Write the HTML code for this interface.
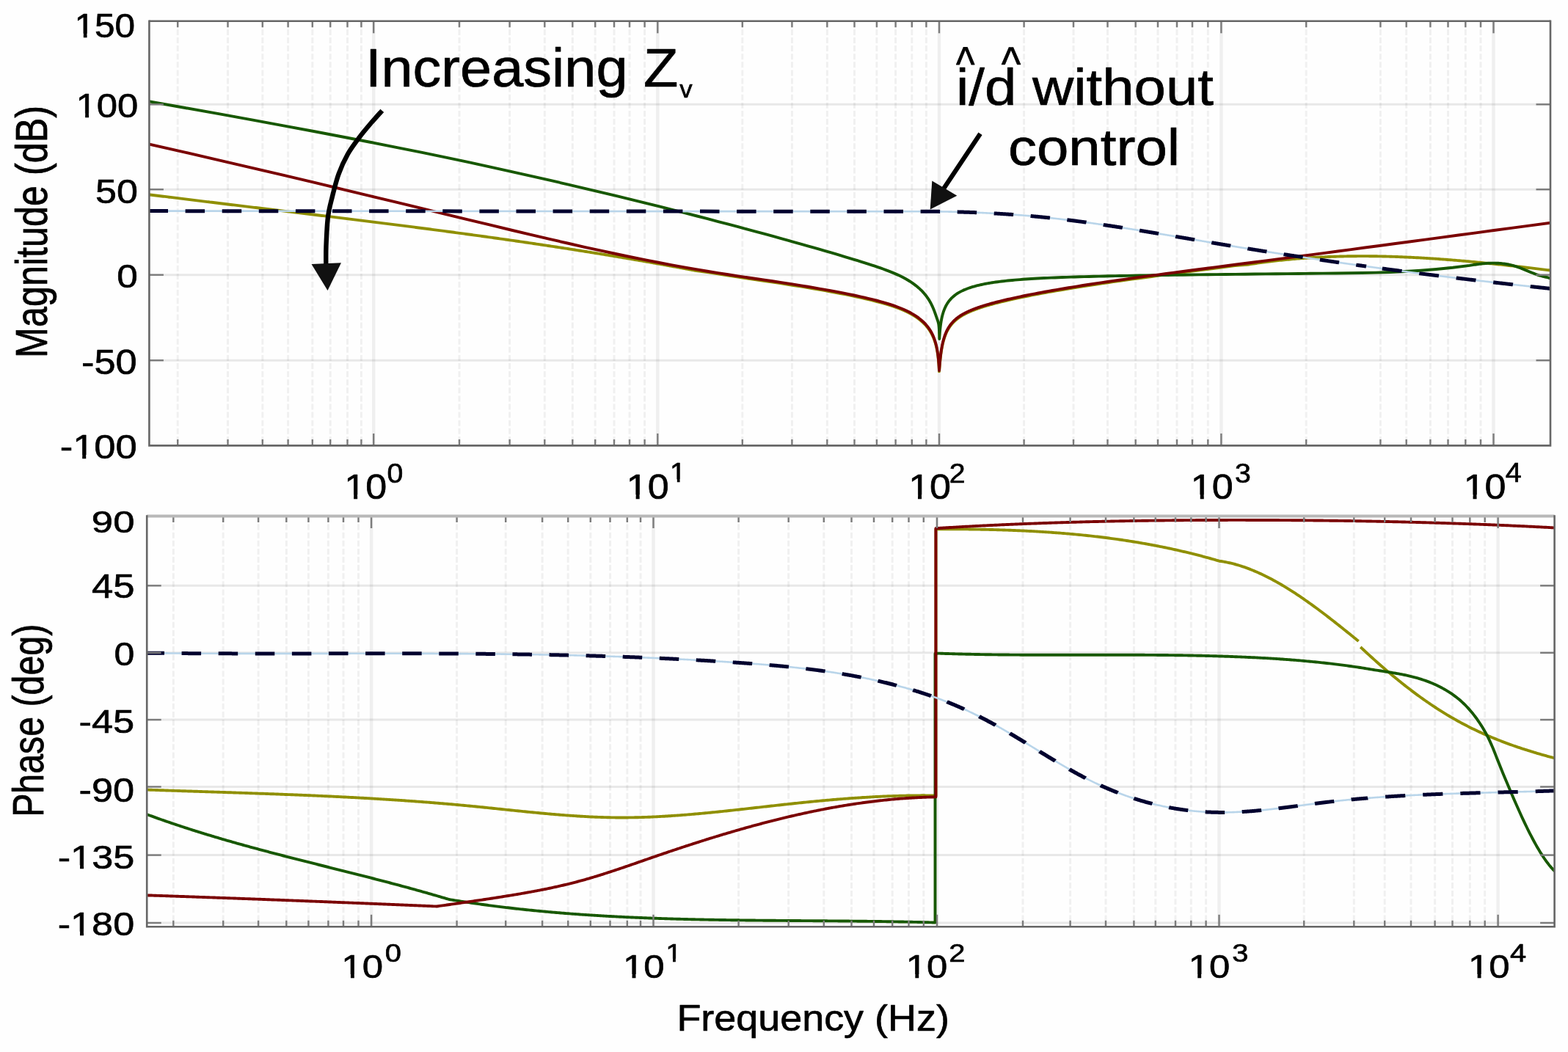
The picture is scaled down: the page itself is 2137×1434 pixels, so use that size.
<!DOCTYPE html>
<html><head><meta charset="utf-8"><title>Bode plot</title><style>html,body{margin:0;padding:0;background:#fff;overflow:hidden}</style></head><body>
<svg width="2137" height="1434" viewBox="0 0 2137 1434" style="display:block;font-family:'Liberation Sans',Arial,Helvetica,sans-serif">
<rect width="2137" height="1434" fill="#fefefe"/>
<line x1="242.2" y1="28.8" x2="242.2" y2="607.4" stroke="#000" stroke-opacity="0.055" stroke-width="3" stroke-dasharray="8 3.1"/>
<line x1="310.5" y1="28.8" x2="310.5" y2="607.4" stroke="#000" stroke-opacity="0.055" stroke-width="3" stroke-dasharray="8 3.1"/>
<line x1="357.8" y1="28.8" x2="357.8" y2="607.4" stroke="#000" stroke-opacity="0.055" stroke-width="3" stroke-dasharray="8 3.1"/>
<line x1="392.6" y1="28.8" x2="392.6" y2="607.4" stroke="#000" stroke-opacity="0.055" stroke-width="3" stroke-dasharray="8 3.1"/>
<line x1="425.8" y1="28.8" x2="425.8" y2="607.4" stroke="#000" stroke-opacity="0.055" stroke-width="3" stroke-dasharray="8 3.1"/>
<line x1="450.2" y1="28.8" x2="450.2" y2="607.4" stroke="#000" stroke-opacity="0.055" stroke-width="3" stroke-dasharray="8 3.1"/>
<line x1="473.5" y1="28.8" x2="473.5" y2="607.4" stroke="#000" stroke-opacity="0.055" stroke-width="3" stroke-dasharray="8 3.1"/>
<line x1="492.4" y1="28.8" x2="492.4" y2="607.4" stroke="#000" stroke-opacity="0.055" stroke-width="3" stroke-dasharray="8 3.1"/>
<line x1="626" y1="28.8" x2="626" y2="607.4" stroke="#000" stroke-opacity="0.055" stroke-width="3" stroke-dasharray="8 3.1"/>
<line x1="694.6" y1="28.8" x2="694.6" y2="607.4" stroke="#000" stroke-opacity="0.055" stroke-width="3" stroke-dasharray="8 3.1"/>
<line x1="742.3" y1="28.8" x2="742.3" y2="607.4" stroke="#000" stroke-opacity="0.055" stroke-width="3" stroke-dasharray="8 3.1"/>
<line x1="780.3" y1="28.8" x2="780.3" y2="607.4" stroke="#000" stroke-opacity="0.055" stroke-width="3" stroke-dasharray="8 3.1"/>
<line x1="811.2" y1="28.8" x2="811.2" y2="607.4" stroke="#000" stroke-opacity="0.055" stroke-width="3" stroke-dasharray="8 3.1"/>
<line x1="837" y1="28.8" x2="837" y2="607.4" stroke="#000" stroke-opacity="0.055" stroke-width="3" stroke-dasharray="8 3.1"/>
<line x1="858" y1="28.8" x2="858" y2="607.4" stroke="#000" stroke-opacity="0.055" stroke-width="3" stroke-dasharray="8 3.1"/>
<line x1="878.6" y1="28.8" x2="878.6" y2="607.4" stroke="#000" stroke-opacity="0.055" stroke-width="3" stroke-dasharray="8 3.1"/>
<line x1="1011.8" y1="28.8" x2="1011.8" y2="607.4" stroke="#000" stroke-opacity="0.055" stroke-width="3" stroke-dasharray="8 3.1"/>
<line x1="1079.4" y1="28.8" x2="1079.4" y2="607.4" stroke="#000" stroke-opacity="0.055" stroke-width="3" stroke-dasharray="8 3.1"/>
<line x1="1127.3" y1="28.8" x2="1127.3" y2="607.4" stroke="#000" stroke-opacity="0.055" stroke-width="3" stroke-dasharray="8 3.1"/>
<line x1="1164.5" y1="28.8" x2="1164.5" y2="607.4" stroke="#000" stroke-opacity="0.055" stroke-width="3" stroke-dasharray="8 3.1"/>
<line x1="1194.9" y1="28.8" x2="1194.9" y2="607.4" stroke="#000" stroke-opacity="0.055" stroke-width="3" stroke-dasharray="8 3.1"/>
<line x1="1220.6" y1="28.8" x2="1220.6" y2="607.4" stroke="#000" stroke-opacity="0.055" stroke-width="3" stroke-dasharray="8 3.1"/>
<line x1="1242.8" y1="28.8" x2="1242.8" y2="607.4" stroke="#000" stroke-opacity="0.055" stroke-width="3" stroke-dasharray="8 3.1"/>
<line x1="1262.4" y1="28.8" x2="1262.4" y2="607.4" stroke="#000" stroke-opacity="0.055" stroke-width="3" stroke-dasharray="8 3.1"/>
<line x1="1395.6" y1="28.8" x2="1395.6" y2="607.4" stroke="#000" stroke-opacity="0.055" stroke-width="3" stroke-dasharray="8 3.1"/>
<line x1="1463" y1="28.8" x2="1463" y2="607.4" stroke="#000" stroke-opacity="0.055" stroke-width="3" stroke-dasharray="8 3.1"/>
<line x1="1509.5" y1="28.8" x2="1509.5" y2="607.4" stroke="#000" stroke-opacity="0.055" stroke-width="3" stroke-dasharray="8 3.1"/>
<line x1="1547.7" y1="28.8" x2="1547.7" y2="607.4" stroke="#000" stroke-opacity="0.055" stroke-width="3" stroke-dasharray="8 3.1"/>
<line x1="1578" y1="28.8" x2="1578" y2="607.4" stroke="#000" stroke-opacity="0.055" stroke-width="3" stroke-dasharray="8 3.1"/>
<line x1="1604" y1="28.8" x2="1604" y2="607.4" stroke="#000" stroke-opacity="0.055" stroke-width="3" stroke-dasharray="8 3.1"/>
<line x1="1625" y1="28.8" x2="1625" y2="607.4" stroke="#000" stroke-opacity="0.055" stroke-width="3" stroke-dasharray="8 3.1"/>
<line x1="1646.3" y1="28.8" x2="1646.3" y2="607.4" stroke="#000" stroke-opacity="0.055" stroke-width="3" stroke-dasharray="8 3.1"/>
<line x1="1780.2" y1="28.8" x2="1780.2" y2="607.4" stroke="#000" stroke-opacity="0.055" stroke-width="3" stroke-dasharray="8 3.1"/>
<line x1="1881.4" y1="28.8" x2="1881.4" y2="607.4" stroke="#000" stroke-opacity="0.055" stroke-width="3" stroke-dasharray="8 3.1"/>
<line x1="1916.7" y1="28.8" x2="1916.7" y2="607.4" stroke="#000" stroke-opacity="0.055" stroke-width="3" stroke-dasharray="8 3.1"/>
<line x1="1949.4" y1="28.8" x2="1949.4" y2="607.4" stroke="#000" stroke-opacity="0.055" stroke-width="3" stroke-dasharray="8 3.1"/>
<line x1="1973.5" y1="28.8" x2="1973.5" y2="607.4" stroke="#000" stroke-opacity="0.055" stroke-width="3" stroke-dasharray="8 3.1"/>
<line x1="1997.3" y1="28.8" x2="1997.3" y2="607.4" stroke="#000" stroke-opacity="0.055" stroke-width="3" stroke-dasharray="8 3.1"/>
<line x1="2018" y1="28.8" x2="2018" y2="607.4" stroke="#000" stroke-opacity="0.055" stroke-width="3" stroke-dasharray="8 3.1"/>
<line x1="509.2" y1="28.8" x2="509.2" y2="607.4" stroke="#000" stroke-opacity="0.06" stroke-width="4.5"/>
<line x1="896.3" y1="28.8" x2="896.3" y2="607.4" stroke="#000" stroke-opacity="0.06" stroke-width="4.5"/>
<line x1="1280" y1="28.8" x2="1280" y2="607.4" stroke="#000" stroke-opacity="0.06" stroke-width="4.5"/>
<line x1="1664.4" y1="28.8" x2="1664.4" y2="607.4" stroke="#000" stroke-opacity="0.06" stroke-width="4.5"/>
<line x1="2035.5" y1="28.8" x2="2035.5" y2="607.4" stroke="#000" stroke-opacity="0.06" stroke-width="4.5"/>
<line x1="203.4" y1="142.3" x2="2113" y2="142.3" stroke="#000" stroke-opacity="0.085" stroke-width="3"/>
<line x1="203.4" y1="258.2" x2="2113" y2="258.2" stroke="#000" stroke-opacity="0.085" stroke-width="3"/>
<line x1="203.4" y1="374.7" x2="2113" y2="374.7" stroke="#000" stroke-opacity="0.085" stroke-width="3"/>
<line x1="203.4" y1="491.2" x2="2113" y2="491.2" stroke="#000" stroke-opacity="0.085" stroke-width="3"/>
<line x1="236.3" y1="703.5" x2="236.3" y2="1263.3" stroke="#000" stroke-opacity="0.055" stroke-width="3" stroke-dasharray="8 3.1"/>
<line x1="304.2" y1="703.5" x2="304.2" y2="1263.3" stroke="#000" stroke-opacity="0.055" stroke-width="3" stroke-dasharray="8 3.1"/>
<line x1="352.1" y1="703.5" x2="352.1" y2="1263.3" stroke="#000" stroke-opacity="0.055" stroke-width="3" stroke-dasharray="8 3.1"/>
<line x1="390.3" y1="703.5" x2="390.3" y2="1263.3" stroke="#000" stroke-opacity="0.055" stroke-width="3" stroke-dasharray="8 3.1"/>
<line x1="420.4" y1="703.5" x2="420.4" y2="1263.3" stroke="#000" stroke-opacity="0.055" stroke-width="3" stroke-dasharray="8 3.1"/>
<line x1="447.4" y1="703.5" x2="447.4" y2="1263.3" stroke="#000" stroke-opacity="0.055" stroke-width="3" stroke-dasharray="8 3.1"/>
<line x1="468" y1="703.5" x2="468" y2="1263.3" stroke="#000" stroke-opacity="0.055" stroke-width="3" stroke-dasharray="8 3.1"/>
<line x1="488.5" y1="703.5" x2="488.5" y2="1263.3" stroke="#000" stroke-opacity="0.055" stroke-width="3" stroke-dasharray="8 3.1"/>
<line x1="622.6" y1="703.5" x2="622.6" y2="1263.3" stroke="#000" stroke-opacity="0.055" stroke-width="3" stroke-dasharray="8 3.1"/>
<line x1="689.2" y1="703.5" x2="689.2" y2="1263.3" stroke="#000" stroke-opacity="0.055" stroke-width="3" stroke-dasharray="8 3.1"/>
<line x1="739.1" y1="703.5" x2="739.1" y2="1263.3" stroke="#000" stroke-opacity="0.055" stroke-width="3" stroke-dasharray="8 3.1"/>
<line x1="774.2" y1="703.5" x2="774.2" y2="1263.3" stroke="#000" stroke-opacity="0.055" stroke-width="3" stroke-dasharray="8 3.1"/>
<line x1="804.8" y1="703.5" x2="804.8" y2="1263.3" stroke="#000" stroke-opacity="0.055" stroke-width="3" stroke-dasharray="8 3.1"/>
<line x1="831.5" y1="703.5" x2="831.5" y2="1263.3" stroke="#000" stroke-opacity="0.055" stroke-width="3" stroke-dasharray="8 3.1"/>
<line x1="854.8" y1="703.5" x2="854.8" y2="1263.3" stroke="#000" stroke-opacity="0.055" stroke-width="3" stroke-dasharray="8 3.1"/>
<line x1="873" y1="703.5" x2="873" y2="1263.3" stroke="#000" stroke-opacity="0.055" stroke-width="3" stroke-dasharray="8 3.1"/>
<line x1="1006.6" y1="703.5" x2="1006.6" y2="1263.3" stroke="#000" stroke-opacity="0.055" stroke-width="3" stroke-dasharray="8 3.1"/>
<line x1="1074.7" y1="703.5" x2="1074.7" y2="1263.3" stroke="#000" stroke-opacity="0.055" stroke-width="3" stroke-dasharray="8 3.1"/>
<line x1="1122.8" y1="703.5" x2="1122.8" y2="1263.3" stroke="#000" stroke-opacity="0.055" stroke-width="3" stroke-dasharray="8 3.1"/>
<line x1="1160.5" y1="703.5" x2="1160.5" y2="1263.3" stroke="#000" stroke-opacity="0.055" stroke-width="3" stroke-dasharray="8 3.1"/>
<line x1="1191" y1="703.5" x2="1191" y2="1263.3" stroke="#000" stroke-opacity="0.055" stroke-width="3" stroke-dasharray="8 3.1"/>
<line x1="1216.2" y1="703.5" x2="1216.2" y2="1263.3" stroke="#000" stroke-opacity="0.055" stroke-width="3" stroke-dasharray="8 3.1"/>
<line x1="1238.5" y1="703.5" x2="1238.5" y2="1263.3" stroke="#000" stroke-opacity="0.055" stroke-width="3" stroke-dasharray="8 3.1"/>
<line x1="1258.8" y1="703.5" x2="1258.8" y2="1263.3" stroke="#000" stroke-opacity="0.055" stroke-width="3" stroke-dasharray="8 3.1"/>
<line x1="1394" y1="703.5" x2="1394" y2="1263.3" stroke="#000" stroke-opacity="0.055" stroke-width="3" stroke-dasharray="8 3.1"/>
<line x1="1458.6" y1="703.5" x2="1458.6" y2="1263.3" stroke="#000" stroke-opacity="0.055" stroke-width="3" stroke-dasharray="8 3.1"/>
<line x1="1507" y1="703.5" x2="1507" y2="1263.3" stroke="#000" stroke-opacity="0.055" stroke-width="3" stroke-dasharray="8 3.1"/>
<line x1="1545.4" y1="703.5" x2="1545.4" y2="1263.3" stroke="#000" stroke-opacity="0.055" stroke-width="3" stroke-dasharray="8 3.1"/>
<line x1="1574.8" y1="703.5" x2="1574.8" y2="1263.3" stroke="#000" stroke-opacity="0.055" stroke-width="3" stroke-dasharray="8 3.1"/>
<line x1="1602" y1="703.5" x2="1602" y2="1263.3" stroke="#000" stroke-opacity="0.055" stroke-width="3" stroke-dasharray="8 3.1"/>
<line x1="1623.3" y1="703.5" x2="1623.3" y2="1263.3" stroke="#000" stroke-opacity="0.055" stroke-width="3" stroke-dasharray="8 3.1"/>
<line x1="1643.6" y1="703.5" x2="1643.6" y2="1263.3" stroke="#000" stroke-opacity="0.055" stroke-width="3" stroke-dasharray="8 3.1"/>
<line x1="1777.2" y1="703.5" x2="1777.2" y2="1263.3" stroke="#000" stroke-opacity="0.055" stroke-width="3" stroke-dasharray="8 3.1"/>
<line x1="1845.3" y1="703.5" x2="1845.3" y2="1263.3" stroke="#000" stroke-opacity="0.055" stroke-width="3" stroke-dasharray="8 3.1"/>
<line x1="1887.2" y1="703.5" x2="1887.2" y2="1263.3" stroke="#000" stroke-opacity="0.055" stroke-width="3" stroke-dasharray="8 3.1"/>
<line x1="1923" y1="703.5" x2="1923" y2="1263.3" stroke="#000" stroke-opacity="0.055" stroke-width="3" stroke-dasharray="8 3.1"/>
<line x1="1955.6" y1="703.5" x2="1955.6" y2="1263.3" stroke="#000" stroke-opacity="0.055" stroke-width="3" stroke-dasharray="8 3.1"/>
<line x1="1979.5" y1="703.5" x2="1979.5" y2="1263.3" stroke="#000" stroke-opacity="0.055" stroke-width="3" stroke-dasharray="8 3.1"/>
<line x1="2003.3" y1="703.5" x2="2003.3" y2="1263.3" stroke="#000" stroke-opacity="0.055" stroke-width="3" stroke-dasharray="8 3.1"/>
<line x1="2023.7" y1="703.5" x2="2023.7" y2="1263.3" stroke="#000" stroke-opacity="0.055" stroke-width="3" stroke-dasharray="8 3.1"/>
<line x1="506.1" y1="703.5" x2="506.1" y2="1263.3" stroke="#000" stroke-opacity="0.06" stroke-width="4.5"/>
<line x1="890.5" y1="703.5" x2="890.5" y2="1263.3" stroke="#000" stroke-opacity="0.06" stroke-width="4.5"/>
<line x1="1277" y1="703.5" x2="1277" y2="1263.3" stroke="#000" stroke-opacity="0.06" stroke-width="4.5"/>
<line x1="1661.5" y1="703.5" x2="1661.5" y2="1263.3" stroke="#000" stroke-opacity="0.06" stroke-width="4.5"/>
<line x1="2041.6" y1="703.5" x2="2041.6" y2="1263.3" stroke="#000" stroke-opacity="0.06" stroke-width="4.5"/>
<line x1="200.2" y1="798.3" x2="2118.6" y2="798.3" stroke="#000" stroke-opacity="0.085" stroke-width="3"/>
<line x1="200.2" y1="889.8" x2="2118.6" y2="889.8" stroke="#000" stroke-opacity="0.085" stroke-width="3"/>
<line x1="200.2" y1="981.1" x2="2118.6" y2="981.1" stroke="#000" stroke-opacity="0.085" stroke-width="3"/>
<line x1="200.2" y1="1072.5" x2="2118.6" y2="1072.5" stroke="#000" stroke-opacity="0.085" stroke-width="3"/>
<line x1="200.2" y1="1165.6" x2="2118.6" y2="1165.6" stroke="#000" stroke-opacity="0.085" stroke-width="3"/>
<line x1="200.2" y1="1258" x2="2118.6" y2="1258" stroke="#000" stroke-opacity="0.085" stroke-width="3"/>
<clipPath id="ct"><rect x="203.4" y="26.8" width="1909.6" height="580.6"/></clipPath>
<clipPath id="cb"><rect x="200.2" y="701.5" width="1918.3999999999999" height="561.8"/></clipPath>
<g clip-path="url(#ct)">
<path d="M202.5,265.2 L204.5,265.45 L206.5,265.7 L208.51,265.95 L210.51,266.2 L212.51,266.45 L214.51,266.7 L216.51,266.95 L218.52,267.2 L220.52,267.45 L222.52,267.69 L224.52,267.94 L226.52,268.19 L228.52,268.44 L230.53,268.69 L232.53,268.94 L234.53,269.18 L236.53,269.43 L238.53,269.68 L240.54,269.92 L242.54,270.17 L244.54,270.42 L246.54,270.66 L248.54,270.91 L250.55,271.16 L252.55,271.4 L254.55,271.65 L256.55,271.89 L258.55,272.14 L260.55,272.38 L262.56,272.63 L264.56,272.87 L266.56,273.12 L268.56,273.36 L270.56,273.61 L272.57,273.85 L274.57,274.09 L276.57,274.34 L278.57,274.58 L280.57,274.83 L282.58,275.07 L284.58,275.31 L286.58,275.56 L288.58,275.8 L290.58,276.04 L292.58,276.29 L294.59,276.53 L296.59,276.77 L298.59,277.01 L300.59,277.26 L302.59,277.5 L304.6,277.74 L306.6,277.98 L308.6,278.23 L310.6,278.47 L312.6,278.71 L314.61,278.95 L316.61,279.19 L318.61,279.44 L320.61,279.68 L322.61,279.92 L324.61,280.16 L326.62,280.4 L328.62,280.64 L330.62,280.89 L332.62,281.13 L334.62,281.37 L336.63,281.61 L338.63,281.85 L340.63,282.09 L342.63,282.33 L344.63,282.57 L346.64,282.82 L348.64,283.06 L350.64,283.3 L352.64,283.54 L354.64,283.78 L356.64,284.02 L358.65,284.26 L360.65,284.5 L362.65,284.75 L364.65,284.99 L366.65,285.23 L368.66,285.47 L370.66,285.71 L372.66,285.95 L374.66,286.19 L376.66,286.43 L378.67,286.68 L380.67,286.92 L382.67,287.16 L384.67,287.4 L386.67,287.64 L388.68,287.88 L390.68,288.12 L392.68,288.37 L394.68,288.61 L396.68,288.85 L398.68,289.09 L400.69,289.33 L402.69,289.57 L404.69,289.82 L406.69,290.06 L408.69,290.3 L410.7,290.54 L412.7,290.78 L414.7,291.03 L416.7,291.27 L418.7,291.51 L420.71,291.75 L422.71,292 L424.71,292.24 L426.71,292.48 L428.71,292.73 L430.71,292.97 L432.72,293.21 L434.72,293.46 L436.72,293.7 L438.72,293.94 L440.72,294.19 L442.73,294.43 L444.73,294.68 L446.73,294.92 L448.73,295.16 L450.73,295.41 L452.74,295.65 L454.74,295.9 L456.74,296.14 L458.74,296.39 L460.74,296.63 L462.74,296.88 L464.75,297.12 L466.75,297.37 L468.75,297.62 L470.75,297.86 L472.75,298.11 L474.76,298.35 L476.76,298.6 L478.76,298.85 L480.76,299.09 L482.76,299.34 L484.77,299.59 L486.77,299.84 L488.77,300.08 L490.77,300.33 L492.77,300.58 L494.77,300.83 L496.78,301.08 L498.78,301.33 L500.78,301.58 L502.78,301.83 L504.78,302.08 L506.79,302.33 L508.79,302.58 L510.79,302.83 L512.79,303.08 L514.79,303.33 L516.8,303.58 L518.8,303.83 L520.8,304.08 L522.8,304.33 L524.8,304.58 L526.8,304.84 L528.81,305.09 L530.81,305.34 L532.81,305.6 L534.81,305.85 L536.81,306.1 L538.82,306.36 L540.82,306.61 L542.82,306.87 L544.82,307.12 L546.82,307.38 L548.83,307.63 L550.83,307.89 L552.83,308.14 L554.83,308.4 L556.83,308.66 L558.83,308.91 L560.84,309.17 L562.84,309.43 L564.84,309.69 L566.84,309.95 L568.84,310.2 L570.85,310.46 L572.85,310.72 L574.85,310.98 L576.85,311.24 L578.85,311.5 L580.86,311.76 L582.86,312.03 L584.86,312.29 L586.86,312.55 L588.86,312.81 L590.87,313.07 L592.87,313.34 L594.87,313.6 L596.87,313.86 L598.87,314.13 L600.87,314.39 L602.88,314.66 L604.88,314.92 L606.88,315.19 L608.88,315.45 L610.88,315.72 L612.89,315.99 L614.89,316.26 L616.89,316.52 L618.89,316.79 L620.89,317.06 L622.9,317.33 L624.9,317.6 L626.9,317.87 L628.9,318.14 L630.9,318.41 L632.9,318.68 L634.91,318.95 L636.91,319.22 L638.91,319.5 L640.91,319.77 L642.91,320.04 L644.92,320.32 L646.92,320.59 L648.92,320.87 L650.92,321.14 L652.92,321.42 L654.93,321.69 L656.93,321.97 L658.93,322.25 L660.93,322.52 L662.93,322.8 L664.93,323.08 L666.94,323.36 L668.94,323.64 L670.94,323.92 L672.94,324.2 L674.94,324.48 L676.95,324.76 L678.95,325.04 L680.95,325.33 L682.95,325.61 L684.95,325.89 L686.96,326.18 L688.96,326.46 L690.96,326.75 L692.96,327.03 L694.96,327.32 L696.96,327.61 L698.97,327.9 L700.97,328.18 L702.97,328.47 L704.97,328.76 L706.97,329.05 L708.98,329.34 L710.98,329.63 L712.98,329.92 L714.98,330.21 L716.98,330.51 L718.99,330.8 L720.99,331.09 L722.99,331.39 L724.99,331.68 L726.99,331.98 L728.99,332.27 L731,332.57 L733,332.87 L735,333.17 L737,333.46 L739,333.76 L741.01,334.06 L743.01,334.36 L745.01,334.66 L747.01,334.97 L749.01,335.27 L751.02,335.57 L753.02,335.87 L755.02,336.18 L757.02,336.48 L759.02,336.79 L761.02,337.09 L763.03,337.4 L765.03,337.71 L767.03,338.01 L769.03,338.32 L771.03,338.63 L773.04,338.94 L775.04,339.25 L777.04,339.56 L779.04,339.88 L781.04,340.19 L783.05,340.5 L785.05,340.82 L787.05,341.13 L789.05,341.45 L791.05,341.76 L793.06,342.08 L795.06,342.4 L797.06,342.71 L799.06,343.03 L801.06,343.35 L803.06,343.67 L805.07,343.99 L807.07,344.31 L809.07,344.64 L811.07,344.96 L813.07,345.28 L815.08,345.61 L817.08,345.93 L819.08,346.26 L821.08,346.59 L823.08,346.91 L825.09,347.24 L827.09,347.57 L829.09,347.9 L831.09,348.23 L833.09,348.56 L835.09,348.89 L837.1,349.23 L839.1,349.56 L841.1,349.9 L843.1,350.23 L845.1,350.57 L847.11,350.9 L849.11,351.24 L851.11,351.58 L853.11,351.92 L855.11,352.26 L857.12,352.6 L859.12,352.94 L861.12,353.28 L863.12,353.63 L865.12,353.97 L867.12,354.31 L869.13,354.66 L871.13,355.01 L873.13,355.35 L875.13,355.7 L877.13,356.05 L879.14,356.4 L881.14,356.75 L883.14,357.1 L885.14,357.45 L887.14,357.81 L889.15,358.16 L891.15,358.52 L893.15,358.87 L895.15,359.23 L897.15,359.58 L899.15,359.94 L901.16,360.3 L903.16,360.66 L905.16,361.02 L907.16,361.38 L909.16,361.75 L911.17,362.11 L913.17,362.47 L915.17,362.84 L917.17,363.21 L919.17,363.57 L921.18,363.94 L923.18,364.31 L925.18,364.68 L927.18,365.05 L929.18,365.42 L931.18,365.79 L933.19,366.17 L935.19,366.54 L937.19,366.92 L939.19,367.29 L941.19,367.67 L943.2,368.05 L945.2,368.43 L947.2,368.8 L964.03,371.03 L978.6,373.4 L992.5,375.58 L1005.77,377.61 L1018.42,379.5 L1030.49,381.28 L1042,382.97 L1052.99,384.59 L1063.47,386.17 L1073.46,387.71 L1083,389.2 L1092.1,390.67 L1100.77,392.09 L1109.05,393.49 L1116.95,394.85 L1124.48,396.18 L1131.67,397.48 L1138.53,398.75 L1145.07,399.99 L1151.31,401.21 L1157.26,402.41 L1162.94,403.58 L1168.36,404.74 L1173.52,405.87 L1178.45,406.99 L1183.15,408.09 L1187.64,409.17 L1191.92,410.24 L1196,411.3 L1199.9,412.35 L1203.61,413.39 L1207.16,414.42 L1210.54,415.44 L1213.76,416.47 L1216.84,417.48 L1219.78,418.5 L1222.58,419.51 L1225.25,420.53 L1227.8,421.55 L1230.23,422.56 L1232.55,423.58 L1234.76,424.59 L1236.87,425.61 L1238.88,426.62 L1240.8,427.64 L1242.63,428.65 L1244.38,429.66 L1246.05,430.68 L1247.64,431.69 L1249.16,432.7 L1250.61,433.71 L1251.99,434.72 L1253.3,435.73 L1254.56,436.74 L1255.76,437.74 L1256.9,438.75 L1257.99,439.75 L1259.03,440.75 L1260.03,441.75 L1260.97,442.75 L1261.88,443.75 L1262.74,444.74 L1263.56,445.74 L1264.35,446.73 L1265.09,447.72 L1265.81,448.7 L1266.49,449.69 L1267.14,450.67 L1267.76,451.65 L1268.35,452.63 L1268.91,453.61 L1269.45,454.58 L1269.97,455.55 L1270.45,456.51 L1270.92,457.48 L1271.37,458.44 L1271.79,459.4 L1272.2,460.35 L1272.58,461.31 L1272.95,462.25 L1273.31,463.2 L1273.64,464.14 L1273.96,465.08 L1274.27,466.01 L1274.56,466.95 L1274.84,467.87 L1275.1,468.8 L1275.36,469.71 L1275.6,470.63 L1275.83,471.54 L1276.05,472.45 L1276.26,473.35 L1276.46,474.25 L1276.65,475.14 L1276.83,476.03 L1277,476.92 L1277.17,477.8 L1277.33,478.67 L1277.48,479.54 L1277.62,480.41 L1277.76,481.27 L1277.89,482.12 L1278.01,482.97 L1278.13,483.82 L1278.25,484.66 L1278.35,485.49 L1278.46,486.32 L1278.56,487.14 L1278.65,487.96 L1278.74,488.77 L1278.83,489.58 L1278.91,490.38 L1278.99,491.17 L1279.06,491.96 L1279.13,492.74 L1279.2,493.52 L1279.26,494.28 L1279.32,495.05 L1279.38,495.8 L1279.44,496.55 L1279.49,497.29 L1279.54,498.03 L1279.59,498.76 L1279.64,499.48 L1279.68,500.2 L1279.73,500.9 L1279.77,501.6 L1279.8,502.3 L1279.84,502.98 L1279.88,503.66 L1279.91,504.33 L1279.94,505 L1279.97,505.65 L1280,506.3 L1280,506.3 L1280.02,506.11 L1280.04,505.91 L1280.06,505.69 L1280.08,505.46 L1280.11,505.21 L1280.13,504.94 L1280.16,504.66 L1280.18,504.36 L1280.21,504.05 L1280.24,503.72 L1280.26,503.38 L1280.29,503.02 L1280.32,502.65 L1280.35,502.27 L1280.39,501.87 L1280.42,501.46 L1280.45,501.04 L1280.49,500.6 L1280.52,500.15 L1280.56,499.69 L1280.6,499.22 L1280.64,498.73 L1280.68,498.23 L1280.73,497.72 L1280.77,497.2 L1280.82,496.67 L1280.86,496.13 L1280.91,495.58 L1280.96,495.02 L1281.02,494.44 L1281.07,493.86 L1281.13,493.27 L1281.19,492.67 L1281.25,492.06 L1281.31,491.44 L1281.37,490.81 L1281.44,490.18 L1281.51,489.53 L1281.58,488.88 L1281.65,488.22 L1281.73,487.56 L1281.8,486.88 L1281.89,486.2 L1281.97,485.51 L1282.06,484.82 L1282.14,484.12 L1282.24,483.41 L1282.33,482.7 L1282.43,481.98 L1282.53,481.26 L1282.64,480.53 L1282.75,479.8 L1282.86,479.06 L1282.98,478.32 L1283.1,477.58 L1283.22,476.83 L1283.35,476.07 L1283.48,475.32 L1283.62,474.56 L1283.76,473.79 L1283.91,473.03 L1284.06,472.26 L1284.21,471.49 L1284.38,470.72 L1284.54,469.95 L1284.72,469.17 L1284.89,468.4 L1285.08,467.62 L1285.27,466.84 L1285.47,466.06 L1285.67,465.28 L1285.88,464.5 L1286.1,463.73 L1286.33,462.95 L1286.56,462.17 L1286.8,461.39 L1287.05,460.62 L1287.3,459.84 L1287.57,459.07 L1287.84,458.3 L1288.13,457.53 L1288.42,456.77 L1288.73,456 L1289.04,455.24 L1289.36,454.48 L1289.7,453.73 L1290.04,452.98 L1290.4,452.23 L1290.77,451.49 L1291.15,450.74 L1291.55,450.01 L1291.96,449.28 L1292.38,448.55 L1292.81,447.82 L1293.27,447.1 L1293.73,446.38 L1294.21,445.67 L1294.71,444.96 L1295.22,444.25 L1295.76,443.55 L1296.31,442.85 L1296.87,442.15 L1297.46,441.46 L1298.07,440.77 L1298.7,440.09 L1299.34,439.41 L1300.02,438.73 L1300.71,438.06 L1301.42,437.39 L1302.16,436.72 L1302.93,436.06 L1303.72,435.41 L1304.54,434.75 L1305.38,434.1 L1306.26,433.46 L1307.16,432.82 L1308.09,432.18 L1309.05,431.55 L1310.05,430.92 L1311.08,430.29 L1312.15,429.67 L1313.25,429.05 L1314.38,428.43 L1315.56,427.82 L1316.78,427.21 L1318.03,426.6 L1319.33,425.99 L1320.67,425.38 L1322.06,424.77 L1323.49,424.17 L1324.97,423.56 L1326.51,422.95 L1328.09,422.34 L1329.72,421.73 L1331.42,421.12 L1333.16,420.5 L1334.97,419.88 L1336.84,419.26 L1338.77,418.64 L1340.76,418.01 L1342.83,417.38 L1344.96,416.74 L1347.16,416.1 L1349.44,415.45 L1351.79,414.8 L1354.23,414.14 L1356.74,413.48 L1359.34,412.8 L1362.03,412.12 L1364.8,411.43 L1367.67,410.74 L1370.64,410.03 L1373.71,409.32 L1376.87,408.6 L1380.15,407.87 L1383.54,407.13 L1387.04,406.37 L1390.65,405.61 L1394.39,404.83 L1398.26,404.05 L1402.25,403.25 L1406.38,402.44 L1410.65,401.62 L1415.06,400.78 L1419.62,399.93 L1424.33,399.07 L1429.2,398.19 L1434.24,397.29 L1439.44,396.39 L1444.82,395.46 L1450.38,394.52 L1456.12,393.57 L1462.06,392.6 L1468.2,391.61 L1474.55,390.6 L1481.1,389.57 L1487.88,388.53 L1494.89,387.47 L1502.13,386.39 L1509.62,385.29 L1517.35,384.17 L1525.35,383.03 L1533.62,381.87 L1542.16,380.69 L1550.99,379.48 L1560.12,378.24 L1569.55,376.97 L1579.3,375.67 L1589.38,374.34 L1599.8,372.96 L1610.57,371.55 L1621.7,370.09 L1633.2,368.59 L1645.09,367.04 L1657.38,365.45 L1670.08,363.79 L1683.21,362.09 L1700,360.8 L1702,360.49 L1704.01,360.18 L1706.01,359.87 L1708.02,359.57 L1710.02,359.27 L1712.03,358.98 L1714.03,358.69 L1716.04,358.41 L1718.04,358.13 L1720.05,357.86 L1722.05,357.59 L1724.06,357.32 L1726.06,357.06 L1728.07,356.81 L1730.07,356.55 L1732.08,356.31 L1734.08,356.07 L1736.09,355.83 L1738.09,355.6 L1740.1,355.37 L1742.1,355.15 L1744.11,354.93 L1746.11,354.71 L1748.12,354.5 L1750.12,354.3 L1752.13,354.09 L1754.13,353.9 L1756.14,353.7 L1758.14,353.52 L1760.14,353.33 L1762.15,353.15 L1764.15,352.98 L1766.16,352.81 L1768.16,352.64 L1770.17,352.48 L1772.17,352.32 L1774.18,352.16 L1776.18,352.01 L1778.19,351.87 L1780.19,351.72 L1782.2,351.59 L1784.2,351.45 L1786.21,351.32 L1788.21,351.2 L1790.22,351.07 L1792.22,350.96 L1794.23,350.84 L1796.23,350.73 L1798.24,350.63 L1800.24,350.52 L1802.25,350.42 L1804.25,350.33 L1806.26,350.24 L1808.26,350.15 L1810.27,350.07 L1812.27,349.99 L1814.28,349.91 L1816.28,349.84 L1818.29,349.77 L1820.29,349.71 L1822.29,349.65 L1824.3,349.59 L1826.3,349.54 L1828.31,349.49 L1830.31,349.44 L1832.32,349.4 L1834.32,349.36 L1836.33,349.32 L1838.33,349.29 L1840.34,349.26 L1842.34,349.23 L1844.35,349.21 L1846.35,349.19 L1848.36,349.18 L1850.36,349.17 L1852.37,349.16 L1854.37,349.15 L1856.38,349.15 L1858.38,349.15 L1860.39,349.15 L1862.39,349.16 L1864.4,349.17 L1866.4,349.19 L1868.41,349.2 L1870.41,349.22 L1872.42,349.25 L1874.42,349.27 L1876.43,349.3 L1878.43,349.34 L1880.43,349.37 L1882.44,349.41 L1884.44,349.45 L1886.45,349.5 L1888.45,349.55 L1890.46,349.6 L1892.46,349.65 L1894.47,349.71 L1896.47,349.77 L1898.48,349.83 L1900.48,349.89 L1902.49,349.96 L1904.49,350.03 L1906.5,350.1 L1908.5,350.18 L1910.51,350.26 L1912.51,350.34 L1914.52,350.43 L1916.52,350.51 L1918.53,350.6 L1920.53,350.69 L1922.54,350.79 L1924.54,350.89 L1926.55,350.99 L1928.55,351.09 L1930.56,351.19 L1932.56,351.3 L1934.57,351.41 L1936.57,351.52 L1938.57,351.64 L1940.58,351.76 L1942.58,351.88 L1944.59,352 L1946.59,352.12 L1948.6,352.25 L1950.6,352.38 L1952.61,352.51 L1954.61,352.64 L1956.62,352.78 L1958.62,352.92 L1960.63,353.06 L1962.63,353.2 L1964.64,353.34 L1966.64,353.49 L1968.65,353.64 L1970.65,353.79 L1972.66,353.94 L1974.66,354.1 L1976.67,354.26 L1978.67,354.41 L1980.68,354.58 L1982.68,354.74 L1984.69,354.9 L1986.69,355.07 L1988.7,355.24 L1990.7,355.41 L1992.71,355.58 L1994.71,355.76 L1996.71,355.93 L1998.72,356.11 L2000.72,356.29 L2002.73,356.47 L2004.73,356.66 L2006.74,356.84 L2008.74,357.03 L2010.75,357.22 L2012.75,357.41 L2014.76,357.6 L2016.76,357.79 L2018.77,357.99 L2020.77,358.18 L2022.78,358.38 L2024.78,358.58 L2026.79,358.78 L2028.79,358.98 L2030.8,359.19 L2032.8,359.39 L2034.81,359.6 L2036.81,359.81 L2038.82,360.02 L2040.82,360.23 L2042.83,360.44 L2044.83,360.66 L2046.84,360.87 L2048.84,361.09 L2050.85,361.31 L2052.85,361.52 L2054.86,361.74 L2056.86,361.97 L2058.86,362.19 L2060.87,362.41 L2062.87,362.64 L2064.88,362.86 L2066.88,363.09 L2068.89,363.32 L2070.89,363.55 L2072.9,363.78 L2074.9,364.01 L2076.91,364.24 L2078.91,364.47 L2080.92,364.71 L2082.92,364.94 L2084.93,365.18 L2086.93,365.41 L2088.94,365.65 L2090.94,365.89 L2092.95,366.13 L2094.95,366.37 L2096.96,366.61 L2098.96,366.85 L2100.97,367.09 L2102.97,367.33 L2104.98,367.58 L2106.98,367.82 L2108.99,368.07 L2110.99,368.31 L2113,368.56 L2115,368.8" fill="none" stroke="#8f8f00" stroke-width="3.9" stroke-linejoin="round" stroke-linecap="butt" />
<path d="M202.5,138.2 L252.15,146.96 L299.51,155.43 L344.69,163.62 L387.8,171.55 L428.91,179.25 L468.14,186.72 L505.56,193.97 L541.25,201.04 L575.3,207.92 L607.79,214.63 L638.78,221.19 L668.34,227.58 L696.54,233.8 L723.45,239.83 L749.11,245.68 L773.59,251.33 L796.95,256.8 L819.23,262.08 L840.49,267.19 L860.76,272.12 L880.1,276.87 L898.56,281.46 L916.16,285.88 L932.95,290.15 L948.97,294.25 L964.25,298.21 L978.83,302.02 L992.74,305.68 L1006,309.2 L1018.66,312.59 L1030.73,315.85 L1042.25,318.98 L1053.24,321.99 L1063.72,324.88 L1073.72,327.66 L1083.26,330.32 L1092.36,332.88 L1101.04,335.34 L1109.32,337.69 L1117.22,339.96 L1124.75,342.13 L1131.94,344.22 L1138.8,346.23 L1145.34,348.16 L1151.58,350.01 L1157.54,351.8 L1163.22,353.52 L1168.63,355.19 L1173.8,356.79 L1178.73,358.34 L1183.44,359.85 L1187.92,361.3 L1192.2,362.72 L1196.29,364.11 L1200.18,365.46 L1203.9,366.78 L1207.44,368.08 L1210.83,369.36 L1214.05,370.62 L1217.13,371.87 L1220.07,373.12 L1222.87,374.36 L1225.54,375.6 L1228.09,376.84 L1230.52,378.08 L1232.84,379.31 L1235.05,380.54 L1237.16,381.77 L1239.18,382.99 L1241.1,384.22 L1242.93,385.43 L1244.68,386.65 L1246.34,387.86 L1247.94,389.07 L1249.45,390.28 L1250.9,391.48 L1252.28,392.67 L1253.6,393.87 L1254.86,395.05 L1256.06,396.24 L1257.2,397.42 L1258.29,398.59 L1259.33,399.76 L1260.32,400.92 L1261.27,402.08 L1262.18,403.24 L1263.04,404.38 L1263.86,405.53 L1264.64,406.66 L1265.39,407.79 L1266.11,408.92 L1266.79,410.03 L1267.44,411.14 L1268.06,412.25 L1268.65,413.35 L1269.21,414.43 L1269.75,415.51 L1270.26,416.58 L1270.75,417.64 L1271.22,418.68 L1271.67,419.71 L1272.09,420.72 L1272.5,421.71 L1272.88,422.69 L1273.25,423.64 L1273.6,424.57 L1273.94,425.48 L1274.26,426.36 L1274.57,427.22 L1274.86,428.05 L1275.14,428.85 L1275.4,429.63 L1275.66,430.37 L1275.9,431.07 L1276.13,431.75 L1276.35,432.39 L1276.56,432.99 L1276.76,433.56 L1276.95,434.1 L1277.13,434.61 L1277.3,435.09 L1277.47,435.56 L1277.63,436 L1277.78,436.43 L1277.92,436.84 L1278.06,437.24 L1278.19,437.64 L1278.31,438.03 L1278.43,438.41 L1278.55,438.79 L1278.65,439.18 L1278.76,439.57 L1278.86,439.97 L1278.95,440.38 L1279.04,440.8 L1279.13,441.24 L1279.21,441.7 L1279.29,442.18 L1279.36,442.68 L1279.43,443.21 L1279.5,443.77 L1279.56,444.36 L1279.62,444.98 L1279.68,445.65 L1279.74,446.35 L1279.79,447.1 L1279.84,447.89 L1279.89,448.74 L1279.94,449.63 L1279.98,450.58 L1280.03,451.58 L1280.07,452.65 L1280.1,453.78 L1280.14,454.97 L1280.18,456.23 L1280.21,457.56 L1280.24,458.96 L1280.27,460.44 L1280.3,462 L1280.3,462 L1280.32,461.62 L1280.34,461.25 L1280.36,460.86 L1280.38,460.48 L1280.41,460.08 L1280.43,459.69 L1280.45,459.28 L1280.48,458.87 L1280.5,458.46 L1280.53,458.04 L1280.56,457.61 L1280.59,457.18 L1280.61,456.74 L1280.64,456.3 L1280.68,455.85 L1280.71,455.4 L1280.74,454.94 L1280.77,454.48 L1280.81,454.02 L1280.85,453.55 L1280.88,453.07 L1280.92,452.59 L1280.96,452.11 L1281.01,451.62 L1281.05,451.13 L1281.09,450.63 L1281.14,450.13 L1281.19,449.63 L1281.24,449.12 L1281.29,448.61 L1281.34,448.09 L1281.39,447.57 L1281.45,447.05 L1281.51,446.52 L1281.56,445.99 L1281.63,445.46 L1281.69,444.92 L1281.75,444.39 L1281.82,443.84 L1281.89,443.3 L1281.96,442.75 L1282.04,442.2 L1282.12,441.65 L1282.2,441.09 L1282.28,440.53 L1282.36,439.97 L1282.45,439.41 L1282.54,438.84 L1282.63,438.28 L1282.73,437.71 L1282.83,437.13 L1282.93,436.56 L1283.04,435.99 L1283.15,435.41 L1283.26,434.83 L1283.38,434.25 L1283.5,433.67 L1283.63,433.08 L1283.76,432.5 L1283.89,431.91 L1284.03,431.33 L1284.17,430.74 L1284.32,430.15 L1284.47,429.56 L1284.63,428.97 L1284.79,428.38 L1284.96,427.78 L1285.13,427.19 L1285.31,426.6 L1285.49,426 L1285.68,425.41 L1285.88,424.82 L1286.09,424.22 L1286.3,423.63 L1286.51,423.03 L1286.74,422.44 L1286.97,421.84 L1287.21,421.25 L1287.46,420.66 L1287.71,420.06 L1287.97,419.47 L1288.25,418.88 L1288.53,418.29 L1288.82,417.69 L1289.12,417.1 L1289.43,416.52 L1289.75,415.93 L1290.08,415.34 L1290.42,414.75 L1290.78,414.17 L1291.14,413.59 L1291.52,413 L1291.91,412.42 L1292.31,411.85 L1292.72,411.27 L1293.15,410.69 L1293.59,410.12 L1294.05,409.55 L1294.52,408.98 L1295.01,408.41 L1295.52,407.85 L1296.04,407.28 L1296.58,406.72 L1297.13,406.16 L1297.71,405.61 L1298.3,405.06 L1298.91,404.51 L1299.54,403.96 L1300.2,403.41 L1300.87,402.87 L1301.57,402.33 L1302.29,401.8 L1303.03,401.26 L1303.8,400.73 L1304.59,400.21 L1305.41,399.69 L1306.26,399.17 L1307.13,398.65 L1308.04,398.14 L1308.97,397.63 L1309.93,397.13 L1310.93,396.63 L1311.96,396.13 L1313.02,395.64 L1314.12,395.15 L1315.25,394.67 L1316.42,394.19 L1317.63,393.71 L1318.88,393.24 L1320.17,392.78 L1321.5,392.31 L1322.88,391.86 L1324.3,391.41 L1325.77,390.96 L1327.28,390.52 L1328.85,390.08 L1330.47,389.65 L1332.14,389.22 L1333.87,388.8 L1335.65,388.39 L1337.49,387.98 L1339.4,387.57 L1341.36,387.18 L1343.39,386.78 L1345.49,386.4 L1347.66,386.01 L1349.89,385.64 L1352.2,385.27 L1354.59,384.91 L1357.06,384.55 L1359.6,384.2 L1362.23,383.86 L1364.95,383.52 L1367.76,383.19 L1370.66,382.87 L1373.65,382.55 L1376.75,382.24 L1379.94,381.94 L1383.24,381.64 L1386.65,381.35 L1390.17,381.07 L1393.81,380.8 L1397.57,380.53 L1401.45,380.27 L1405.46,380.02 L1409.6,379.77 L1413.87,379.53 L1418.29,379.3 L1422.86,379.07 L1427.57,378.85 L1432.44,378.64 L1437.47,378.43 L1442.66,378.23 L1448.03,378.03 L1453.57,377.84 L1459.29,377.65 L1465.21,377.47 L1471.32,377.29 L1477.62,377.11 L1484.14,376.94 L1490.87,376.77 L1497.83,376.61 L1505.01,376.45 L1512.43,376.29 L1520.09,376.13 L1528,375.98 L1536.18,375.83 L1544.62,375.68 L1553.35,375.53 L1562.36,375.39 L1571.66,375.25 L1581.28,375.1 L1591.2,374.96 L1601.46,374.82 L1612.06,374.68 L1623,374.54 L1634.3,374.4 L1645.98,374.26 L1658.04,374.11 L1670.49,373.97 L1683.36,373.83 L1696.65,373.68 L1710.38,373.54 L1724.56,373.39 L1739.21,373.24 L1754.34,373.09 L1769.96,372.94 L1786.11,372.78 L1802.78,372.62 L1820,372.46 L1837.79,372.28 L1856.17,372.02 L1875.15,371.6 L1894.75,370.96 L1915.01,370.02 L1935.92,368.72 L1957.53,366.99 L1979.85,364.74 L2002.9,361.9 L2004.41,361.65 L2005.93,361.4 L2007.44,361.16 L2008.96,360.93 L2010.47,360.71 L2011.99,360.49 L2013.5,360.28 L2015.02,360.08 L2016.53,359.89 L2018.05,359.71 L2019.56,359.55 L2021.08,359.39 L2022.59,359.25 L2024.11,359.12 L2025.62,359 L2027.14,358.9 L2028.65,358.82 L2030.17,358.74 L2031.68,358.69 L2033.2,358.65 L2034.71,358.63 L2036.23,358.63 L2037.74,358.64 L2039.26,358.68 L2040.77,358.73 L2042.29,358.81 L2043.8,358.91 L2045.32,359.03 L2046.83,359.17 L2048.35,359.33 L2049.86,359.52 L2051.38,359.73 L2052.89,359.97 L2054.41,360.23 L2055.92,360.52 L2057.44,360.83 L2058.95,361.17 L2060.46,361.54 L2061.98,361.94 L2063.49,362.37 L2065.01,362.83 L2066.52,363.32 L2068.04,363.83 L2069.55,364.37 L2071.07,364.93 L2072.58,365.51 L2074.1,366.1 L2075.61,366.71 L2077.13,367.33 L2078.64,367.95 L2080.16,368.58 L2081.67,369.21 L2083.19,369.85 L2084.7,370.48 L2086.22,371.1 L2087.73,371.71 L2089.25,372.31 L2090.76,372.9 L2092.28,373.47 L2093.79,374.02 L2095.31,374.55 L2096.82,375.05 L2098.34,375.53 L2099.85,375.97 L2101.37,376.38 L2102.88,376.77 L2104.4,377.14 L2105.91,377.5 L2107.43,377.86 L2108.94,378.23 L2110.46,378.62 L2111.97,379.04 L2113.49,379.5 L2115,380" fill="none" stroke="#175800" stroke-width="3.9" stroke-linejoin="round" stroke-linecap="butt" />
<path d="M202.5,196.4 L252.13,207.67 L299.48,218.54 L344.65,229.04 L387.74,239.16 L428.84,248.91 L468.05,258.28 L505.46,267.28 L541.15,275.9 L575.19,284.16 L607.67,292.05 L638.65,299.56 L668.2,306.71 L696.39,313.48 L723.29,319.87 L748.94,325.89 L773.42,331.52 L796.77,336.79 L819.04,341.7 L840.29,346.26 L860.56,350.49 L879.9,354.41 L898.35,358.01 L915.95,361.33 L932.73,364.37 L948.75,367.16 L964.03,369.73 L978.6,372.1 L992.5,374.28 L1005.77,376.31 L1018.42,378.2 L1030.49,379.98 L1042,381.67 L1052.99,383.29 L1063.47,384.87 L1073.46,386.41 L1083,387.9 L1092.1,389.37 L1100.77,390.79 L1109.05,392.19 L1116.95,393.55 L1124.48,394.88 L1131.67,396.18 L1138.53,397.45 L1145.07,398.69 L1151.31,399.91 L1157.26,401.11 L1162.94,402.28 L1168.36,403.44 L1173.52,404.57 L1178.45,405.69 L1183.15,406.79 L1187.64,407.87 L1191.92,408.94 L1196,410 L1199.9,411.05 L1203.61,412.09 L1207.16,413.12 L1210.54,414.14 L1213.76,415.17 L1216.84,416.18 L1219.78,417.2 L1222.58,418.21 L1225.25,419.23 L1227.8,420.25 L1230.23,421.26 L1232.55,422.28 L1234.76,423.29 L1236.87,424.31 L1238.88,425.32 L1240.8,426.34 L1242.63,427.35 L1244.38,428.36 L1246.05,429.38 L1247.64,430.39 L1249.16,431.4 L1250.61,432.41 L1251.99,433.42 L1253.3,434.43 L1254.56,435.44 L1255.76,436.44 L1256.9,437.45 L1257.99,438.45 L1259.03,439.45 L1260.03,440.45 L1260.97,441.45 L1261.88,442.45 L1262.74,443.44 L1263.56,444.44 L1264.35,445.43 L1265.09,446.42 L1265.81,447.4 L1266.49,448.39 L1267.14,449.37 L1267.76,450.35 L1268.35,451.33 L1268.91,452.31 L1269.45,453.28 L1269.97,454.25 L1270.45,455.21 L1270.92,456.18 L1271.37,457.14 L1271.79,458.1 L1272.2,459.05 L1272.58,460.01 L1272.95,460.95 L1273.31,461.9 L1273.64,462.84 L1273.96,463.78 L1274.27,464.71 L1274.56,465.65 L1274.84,466.57 L1275.1,467.5 L1275.36,468.41 L1275.6,469.33 L1275.83,470.24 L1276.05,471.15 L1276.26,472.05 L1276.46,472.95 L1276.65,473.84 L1276.83,474.73 L1277,475.62 L1277.17,476.5 L1277.33,477.37 L1277.48,478.24 L1277.62,479.11 L1277.76,479.97 L1277.89,480.82 L1278.01,481.67 L1278.13,482.52 L1278.25,483.36 L1278.35,484.19 L1278.46,485.02 L1278.56,485.84 L1278.65,486.66 L1278.74,487.47 L1278.83,488.28 L1278.91,489.08 L1278.99,489.87 L1279.06,490.66 L1279.13,491.44 L1279.2,492.22 L1279.26,492.98 L1279.32,493.75 L1279.38,494.5 L1279.44,495.25 L1279.49,495.99 L1279.54,496.73 L1279.59,497.46 L1279.64,498.18 L1279.68,498.9 L1279.73,499.6 L1279.77,500.3 L1279.8,501 L1279.84,501.68 L1279.88,502.36 L1279.91,503.03 L1279.94,503.7 L1279.97,504.35 L1280,505 L1280,505 L1280.02,504.81 L1280.04,504.61 L1280.06,504.39 L1280.08,504.16 L1280.11,503.91 L1280.13,503.64 L1280.16,503.36 L1280.18,503.06 L1280.21,502.75 L1280.24,502.42 L1280.26,502.08 L1280.29,501.72 L1280.32,501.35 L1280.35,500.97 L1280.39,500.57 L1280.42,500.16 L1280.45,499.74 L1280.49,499.3 L1280.52,498.85 L1280.56,498.39 L1280.6,497.92 L1280.64,497.43 L1280.68,496.93 L1280.73,496.42 L1280.77,495.9 L1280.82,495.37 L1280.86,494.83 L1280.91,494.28 L1280.96,493.72 L1281.02,493.14 L1281.07,492.56 L1281.13,491.97 L1281.19,491.37 L1281.25,490.76 L1281.31,490.14 L1281.37,489.51 L1281.44,488.88 L1281.51,488.23 L1281.58,487.58 L1281.65,486.92 L1281.73,486.26 L1281.8,485.58 L1281.89,484.9 L1281.97,484.21 L1282.06,483.52 L1282.14,482.82 L1282.24,482.11 L1282.33,481.4 L1282.43,480.68 L1282.53,479.96 L1282.64,479.23 L1282.75,478.5 L1282.86,477.76 L1282.98,477.02 L1283.1,476.28 L1283.22,475.53 L1283.35,474.77 L1283.48,474.02 L1283.62,473.26 L1283.76,472.49 L1283.91,471.73 L1284.06,470.96 L1284.21,470.19 L1284.38,469.42 L1284.54,468.65 L1284.72,467.87 L1284.89,467.1 L1285.08,466.32 L1285.27,465.54 L1285.47,464.76 L1285.67,463.98 L1285.88,463.2 L1286.1,462.43 L1286.33,461.65 L1286.56,460.87 L1286.8,460.09 L1287.05,459.32 L1287.3,458.54 L1287.57,457.77 L1287.84,457 L1288.13,456.23 L1288.42,455.47 L1288.73,454.7 L1289.04,453.94 L1289.36,453.18 L1289.7,452.43 L1290.04,451.68 L1290.4,450.93 L1290.77,450.19 L1291.15,449.44 L1291.55,448.71 L1291.96,447.98 L1292.38,447.25 L1292.81,446.52 L1293.27,445.8 L1293.73,445.08 L1294.21,444.37 L1294.71,443.66 L1295.22,442.95 L1295.76,442.25 L1296.31,441.55 L1296.87,440.85 L1297.46,440.16 L1298.07,439.47 L1298.7,438.79 L1299.34,438.11 L1300.02,437.43 L1300.71,436.76 L1301.42,436.09 L1302.16,435.42 L1302.93,434.76 L1303.72,434.11 L1304.54,433.45 L1305.38,432.8 L1306.26,432.16 L1307.16,431.52 L1308.09,430.88 L1309.05,430.25 L1310.05,429.62 L1311.08,428.99 L1312.15,428.37 L1313.25,427.75 L1314.38,427.13 L1315.56,426.52 L1316.78,425.91 L1318.03,425.3 L1319.33,424.69 L1320.67,424.08 L1322.06,423.47 L1323.49,422.87 L1324.97,422.26 L1326.51,421.65 L1328.09,421.04 L1329.72,420.43 L1331.42,419.82 L1333.16,419.2 L1334.97,418.58 L1336.84,417.96 L1338.77,417.34 L1340.76,416.71 L1342.83,416.08 L1344.96,415.44 L1347.16,414.8 L1349.44,414.15 L1351.79,413.5 L1354.23,412.84 L1356.74,412.18 L1359.34,411.5 L1362.03,410.82 L1364.8,410.13 L1367.67,409.44 L1370.64,408.73 L1373.71,408.02 L1376.87,407.3 L1380.15,406.57 L1383.54,405.83 L1387.04,405.07 L1390.65,404.31 L1394.39,403.53 L1398.26,402.75 L1402.25,401.95 L1406.38,401.14 L1410.65,400.32 L1415.06,399.48 L1419.62,398.63 L1424.33,397.77 L1429.2,396.89 L1434.24,395.99 L1439.44,395.09 L1444.82,394.16 L1450.38,393.22 L1456.12,392.27 L1462.06,391.3 L1468.2,390.31 L1474.55,389.3 L1481.1,388.27 L1487.88,387.23 L1494.89,386.17 L1502.13,385.09 L1509.62,383.99 L1517.35,382.87 L1525.35,381.73 L1533.62,380.57 L1542.16,379.39 L1550.99,378.18 L1560.12,376.94 L1569.55,375.67 L1579.3,374.37 L1589.38,373.04 L1599.8,371.66 L1610.57,370.25 L1621.7,368.79 L1633.2,367.29 L1645.09,365.74 L1657.38,364.15 L1670.08,362.49 L1683.21,360.79 L1696.78,359.02 L1710.81,357.2 L1725.31,355.31 L1740.29,353.35 L1755.78,351.33 L1771.79,349.23 L1788.34,347.06 L1805.44,344.81 L1823.12,342.47 L1841.4,340.06 L1860.28,337.55 L1879.8,334.96 L1899.98,332.27 L1920.84,329.49 L1942.39,326.6 L1964.68,323.62 L1987.71,320.53 L2011.51,317.33 L2036.11,314.02 L2061.55,310.6 L2087.83,307.06 L2115,303.4" fill="none" stroke="#7a0000" stroke-width="3.9" stroke-linejoin="round" stroke-linecap="butt" />
<path d="M202.5,287.6 L1230,288.3 L1231,288.31 L1232,288.3 L1233,288.29 L1234,288.28 L1235,288.27 L1236,288.26 L1237,288.26 L1238,288.25 L1239,288.24 L1240,288.24 L1241,288.23 L1242,288.23 L1243,288.22 L1244,288.22 L1245,288.21 L1246,288.21 L1247,288.21 L1248,288.2 L1249,288.2 L1250,288.2 L1251,288.2 L1252,288.2 L1253,288.2 L1254,288.2 L1255,288.2 L1256,288.2 L1257,288.2 L1258,288.2 L1259,288.21 L1260,288.21 L1261,288.21 L1262,288.22 L1263,288.22 L1264,288.23 L1265,288.23 L1266,288.24 L1267,288.24 L1268,288.25 L1269,288.26 L1270,288.27 L1271,288.28 L1272,288.28 L1273,288.29 L1274,288.3 L1275,288.31 L1276,288.32 L1277,288.34 L1278,288.35 L1279,288.36 L1280,288.37 L1281,288.39 L1282,288.4 L1283,288.42 L1284,288.43 L1285,288.45 L1286,288.46 L1287,288.48 L1288,288.5 L1289,288.51 L1290,288.53 L1291,288.55 L1292,288.57 L1293,288.59 L1294,288.61 L1295,288.63 L1296,288.65 L1297,288.67 L1298,288.69 L1299,288.72 L1300,288.74 L1301,288.77 L1302,288.79 L1303,288.81 L1304,288.84 L1305,288.87 L1306,288.89 L1307,288.92 L1308,288.95 L1309,288.98 L1310,289.01 L1311,289.03 L1312,289.06 L1313,289.09 L1314,289.13 L1315,289.16 L1316,289.19 L1317,289.22 L1318,289.26 L1319,289.29 L1320,289.32 L1321,289.36 L1322,289.4 L1323,289.43 L1324,289.47 L1325,289.51 L1326,289.54 L1327,289.58 L1328,289.62 L1329,289.66 L1330,289.7 L1331,289.74 L1332,289.78 L1333,289.83 L1334,289.87 L1335,289.91 L1336,289.96 L1337,290 L1338,290.04 L1339,290.09 L1340,290.14 L1341,290.18 L1342,290.23 L1343,290.28 L1344,290.33 L1345,290.38 L1346,290.43 L1347,290.48 L1348,290.53 L1349,290.58 L1350,290.63 L1351,290.69 L1352,290.74 L1353,290.79 L1354,290.85 L1355,290.9 L1356,290.96 L1357,291.02 L1358,291.07 L1359,291.13 L1360,291.19 L1361,291.25 L1362,291.31 L1363,291.37 L1364,291.43 L1365,291.49 L1366,291.55 L1367,291.62 L1368,291.68 L1369,291.75 L1370,291.81 L1371,291.88 L1372,291.94 L1373,292.01 L1374,292.08 L1375,292.15 L1376,292.21 L1377,292.28 L1378,292.35 L1379,292.43 L1380,292.5 L1381,292.57 L1382,292.64 L1383,292.72 L1384,292.79 L1385,292.86 L1386,292.94 L1387,293.02 L1388,293.09 L1389,293.17 L1390,293.25 L1391,293.33 L1392,293.41 L1393,293.49 L1394,293.57 L1395,293.65 L1396,293.73 L1397,293.82 L1398,293.9 L1399,293.99 L1400,294.07 L1401,294.16 L1402,294.24 L1403,294.33 L1404,294.42 L1405,294.51 L1406,294.6 L1407,294.69 L1408,294.78 L1409,294.87 L1410,294.96 L1411,295.05 L1412,295.15 L1413,295.24 L1414,295.34 L1415,295.43 L1416,295.53 L1417,295.63 L1418,295.72 L1419,295.82 L1420,295.92 L1421,296.02 L1422,296.12 L1423,296.23 L1424,296.33 L1425,296.43 L1426,296.53 L1427,296.64 L1428,296.74 L1429,296.85 L1430,296.96 L1431,297.06 L1432,297.17 L1433,297.28 L1434,297.39 L1435,297.5 L1436,297.61 L1437,297.72 L1438,297.83 L1439,297.94 L1440,298.06 L1441,298.17 L1442,298.28 L1443,298.4 L1444,298.52 L1445,298.63 L1446,298.75 L1447,298.87 L1448,298.98 L1449,299.1 L1450,299.22 L1451,299.34 L1452,299.46 L1453,299.58 L1454,299.71 L1455,299.83 L1456,299.95 L1457,300.07 L1458,300.2 L1459,300.32 L1460,300.45 L1461,300.57 L1462,300.7 L1463,300.83 L1464,300.96 L1465,301.08 L1466,301.21 L1467,301.34 L1468,301.47 L1469,301.6 L1470,301.73 L1471,301.86 L1472,302 L1473,302.13 L1474,302.26 L1475,302.39 L1476,302.53 L1477,302.66 L1478,302.8 L1479,302.93 L1480,303.07 L1481,303.21 L1482,303.34 L1483,303.48 L1484,303.62 L1485,303.76 L1486,303.9 L1487,304.04 L1488,304.18 L1489,304.32 L1490,304.46 L1491,304.6 L1492,304.74 L1493,304.88 L1494,305.03 L1495,305.17 L1496,305.31 L1497,305.46 L1498,305.6 L1499,305.75 L1500,305.89 L1501,306.04 L1502,306.18 L1503,306.33 L1504,306.48 L1505,306.62 L1506,306.77 L1507,306.92 L1508,307.07 L1509,307.22 L1510,307.37 L1511,307.52 L1512,307.67 L1513,307.82 L1514,307.97 L1515,308.12 L1516,308.27 L1517,308.43 L1518,308.58 L1519,308.73 L1520,308.88 L1521,309.04 L1522,309.19 L1523,309.35 L1524,309.5 L1525,309.66 L1526,309.81 L1527,309.97 L1528,310.12 L1529,310.28 L1530,310.44 L1531,310.59 L1532,310.75 L1533,310.91 L1534,311.07 L1535,311.22 L1536,311.38 L1537,311.54 L1538,311.7 L1539,311.86 L1540,312.02 L1541,312.18 L1542,312.34 L1543,312.5 L1544,312.66 L1545,312.82 L1546,312.98 L1547,313.15 L1548,313.31 L1549,313.47 L1550,313.63 L1551,313.79 L1552,313.96 L1553,314.12 L1554,314.28 L1555,314.45 L1556,314.61 L1557,314.78 L1558,314.94 L1559,315.1 L1560,315.27 L1561,315.43 L1562,315.6 L1563,315.76 L1564,315.93 L1565,316.1 L1566,316.26 L1567,316.43 L1568,316.59 L1569,316.76 L1570,316.93 L1571,317.09 L1572,317.26 L1573,317.43 L1574,317.6 L1575,317.76 L1576,317.93 L1577,318.1 L1578,318.27 L1579,318.43 L1580,318.6 L1581,318.77 L1582,318.94 L1583,319.11 L1584,319.28 L1585,319.45 L1586,319.62 L1587,319.78 L1588,319.95 L1589,320.12 L1590,320.29 L1591,320.46 L1592,320.63 L1593,320.8 L1594,320.97 L1595,321.14 L1596,321.31 L1597,321.48 L1598,321.65 L1599,321.82 L1600,321.99 L1601,322.16 L1602,322.33 L1603,322.51 L1604,322.68 L1605,322.85 L1606,323.02 L1607,323.19 L1608,323.36 L1609,323.53 L1610,323.7 L1611,323.87 L1612,324.04 L1613,324.21 L1614,324.39 L1615,324.56 L1616,324.73 L1617,324.9 L1618,325.07 L1619,325.24 L1620,325.41 L1621,325.58 L1622,325.75 L1623,325.93 L1624,326.1 L1625,326.27 L1626,326.44 L1627,326.61 L1628,326.78 L1629,326.95 L1630,327.12 L1631,327.29 L1632,327.46 L1633,327.63 L1634,327.81 L1635,327.98 L1636,328.15 L1637,328.32 L1638,328.49 L1639,328.66 L1640,328.83 L1641,329 L1642,329.17 L1643,329.34 L1644,329.51 L1645,329.68 L1646,329.85 L1647,330.02 L1648,330.19 L1649,330.36 L1650,330.53 L1651,330.7 L1652,330.87 L1653,331.04 L1654,331.2 L1655,331.37 L1656,331.54 L1657,331.71 L1658,331.88 L1659,332.05 L1660,332.22 L1661,332.38 L1662,332.55 L1663,332.72 L1664,332.89 L1665,333.05 L1666,333.22 L1667,333.39 L1668,333.56 L1669,333.72 L1670,333.89 L1671,334.06 L1672,334.22 L1673,334.39 L1674,334.55 L1675,334.72 L1676,334.89 L1677,335.05 L1678,335.22 L1679,335.38 L1680,335.55 L1681,335.71 L1682,335.88 L1683,336.04 L1684,336.2 L1685,336.37 L1686,336.53 L1687,336.7 L1688,336.86 L1689,337.02 L1690,337.19 L1691,337.35 L1692,337.51 L1693,337.68 L1694,337.84 L1695,338 L1696,338.17 L1697,338.33 L1698,338.49 L1699,338.65 L1700,338.81 L1701,338.98 L1702,339.14 L1703,339.3 L1704,339.46 L1705,339.62 L1706,339.78 L1707,339.94 L1708,340.1 L1709,340.26 L1710,340.42 L1711,340.58 L1712,340.74 L1713,340.9 L1714,341.06 L1715,341.22 L1716,341.38 L1717,341.54 L1718,341.7 L1719,341.86 L1720,342.02 L1721,342.18 L1722,342.34 L1723,342.49 L1724,342.65 L1725,342.81 L1726,342.97 L1727,343.13 L1728,343.28 L1729,343.44 L1730,343.6 L1731,343.76 L1732,343.91 L1733,344.07 L1734,344.23 L1735,344.38 L1736,344.54 L1737,344.7 L1738,344.85 L1739,345.01 L1740,345.16 L1741,345.32 L1742,345.47 L1743,345.63 L1744,345.78 L1745,345.94 L1746,346.09 L1747,346.25 L1748,346.4 L1749,346.56 L1750,346.71 L1751,346.87 L1752,347.02 L1753,347.17 L1754,347.33 L1755,347.48 L1756,347.63 L1757,347.79 L1758,347.94 L1759,348.09 L1760,348.25 L1761,348.4 L1762,348.55 L1763,348.7 L1764,348.85 L1765,349.01 L1766,349.16 L1767,349.31 L1768,349.46 L1769,349.61 L1770,349.76 L1771,349.92 L1772,350.07 L1773,350.22 L1774,350.37 L1775,350.52 L1776,350.67 L1777,350.82 L1778,350.97 L1779,351.12 L1780,351.27 L1781,351.42 L1782,351.57 L1783,351.72 L1784,351.87 L1785,352.01 L1786,352.16 L1787,352.31 L1788,352.46 L1789,352.61 L1790,352.76 L1791,352.91 L1792,353.05 L1793,353.2 L1794,353.35 L1795,353.5 L1796,353.64 L1797,353.79 L1798,353.94 L1799,354.08 L1800,354.23 L1801,354.38 L1802,354.52 L1803,354.67 L1804,354.82 L1805,354.96 L1806,355.11 L1807,355.25 L1808,355.4 L1809,355.55 L1810,355.69 L1811,355.84 L1812,355.98 L1813,356.13 L1814,356.27 L1815,356.41 L1816,356.56 L1817,356.7 L1818,356.85 L1819,356.99 L1820,357.14 L1821,357.28 L1822,357.42 L1823,357.57 L1824,357.71 L1825,357.85 L1826,358 L1827,358.14 L1828,358.28 L1829,358.42 L1830,358.57 L1831,358.71 L1832,358.85 L1833,358.99 L1834,359.13 L1835,359.28 L1836,359.42 L1837,359.56 L1838,359.7 L1839,359.84 L1840,359.98 L1841,360.12 L1842,360.26 L1843,360.4 L1844,360.54 L1845,360.68 L1846,360.82 L1847,360.96 L1848,361.1 L1849,361.24 L1850,361.38 L1851,361.52 L1852,361.66 L1853,361.8 L1854,361.94 L1855,362.08 L1856,362.22 L1857,362.36 L1858,362.49 L1859,362.63 L1860,362.77 L1861,362.91 L1862,363.05 L1863,363.18 L1864,363.32 L1865,363.46 L1866,363.6 L1867,363.73 L1868,363.87 L1869,364.01 L1870,364.14 L1871,364.28 L1872,364.42 L1873,364.55 L1874,364.69 L1875,364.82 L1876,364.96 L1877,365.1 L1878,365.23 L1879,365.37 L1880,365.5 L1881,365.64 L1882,365.77 L1883,365.91 L1884,366.04 L1885,366.18 L1886,366.31 L1887,366.45 L1888,366.58 L1889,366.71 L1890,366.85 L1891,366.98 L1892,367.11 L1893,367.25 L1894,367.38 L1895,367.51 L1896,367.65 L1897,367.78 L1898,367.91 L1899,368.05 L1900,368.18 L1901,368.31 L1902,368.44 L1903,368.57 L1904,368.71 L1905,368.84 L1906,368.97 L1907,369.1 L1908,369.23 L1909,369.36 L1910,369.5 L1911,369.63 L1912,369.76 L1913,369.89 L1914,370.02 L1915,370.15 L1916,370.28 L1917,370.41 L1918,370.54 L1919,370.67 L1920,370.8 L1921,370.93 L1922,371.06 L1923,371.19 L1924,371.32 L1925,371.45 L1926,371.57 L1927,371.7 L1928,371.83 L1929,371.96 L1930,372.09 L1931,372.22 L1932,372.35 L1933,372.47 L1934,372.6 L1935,372.73 L1936,372.86 L1937,372.98 L1938,373.11 L1939,373.24 L1940,373.37 L1941,373.49 L1942,373.62 L1943,373.75 L1944,373.87 L1945,374 L1946,374.12 L1947,374.25 L1948,374.38 L1949,374.5 L1950,374.63 L1951,374.75 L1952,374.88 L1953,375 L1954,375.13 L1955,375.25 L1956,375.38 L1957,375.5 L1958,375.63 L1959,375.75 L1960,375.88 L1961,376 L1962,376.13 L1963,376.25 L1964,376.37 L1965,376.5 L1966,376.62 L1967,376.74 L1968,376.87 L1969,376.99 L1970,377.11 L1971,377.24 L1972,377.36 L1973,377.48 L1974,377.6 L1975,377.73 L1976,377.85 L1977,377.97 L1978,378.09 L1979,378.21 L1980,378.34 L1981,378.46 L1982,378.58 L1983,378.7 L1984,378.82 L1985,378.94 L1986,379.06 L1987,379.18 L1988,379.31 L1989,379.43 L1990,379.55 L1991,379.67 L1992,379.79 L1993,379.91 L1994,380.03 L1995,380.15 L1996,380.27 L1997,380.39 L1998,380.5 L1999,380.62 L2000,380.74 L2001,380.86 L2002,380.98 L2003,381.1 L2004,381.22 L2005,381.34 L2006,381.45 L2007,381.57 L2008,381.69 L2009,381.81 L2010,381.93 L2011,382.04 L2012,382.16 L2013,382.28 L2014,382.4 L2015,382.51 L2016,382.63 L2017,382.75 L2018,382.86 L2019,382.98 L2020,383.1 L2021,383.21 L2022,383.33 L2023,383.45 L2024,383.56 L2025,383.68 L2026,383.79 L2027,383.91 L2028,384.03 L2029,384.14 L2030,384.26 L2031,384.37 L2032,384.49 L2033,384.6 L2034,384.72 L2035,384.83 L2036,384.94 L2037,385.06 L2038,385.17 L2039,385.29 L2040,385.4 L2041,385.52 L2042,385.63 L2043,385.74 L2044,385.86 L2045,385.97 L2046,386.08 L2047,386.2 L2048,386.31 L2049,386.42 L2050,386.53 L2051,386.65 L2052,386.76 L2053,386.87 L2054,386.98 L2055,387.1 L2056,387.21 L2057,387.32 L2058,387.43 L2059,387.54 L2060,387.66 L2061,387.77 L2062,387.88 L2063,387.99 L2064,388.1 L2065,388.21 L2066,388.32 L2067,388.43 L2068,388.54 L2069,388.65 L2070,388.76 L2071,388.87 L2072,388.98 L2073,389.09 L2074,389.2 L2075,389.31 L2076,389.42 L2077,389.53 L2078,389.64 L2079,389.75 L2080,389.86 L2081,389.97 L2082,390.08 L2083,390.19 L2084,390.29 L2085,390.4 L2086,390.51 L2087,390.62 L2088,390.73 L2089,390.83 L2090,390.94 L2091,391.05 L2092,391.16 L2093,391.27 L2094,391.37 L2095,391.48 L2096,391.59 L2097,391.69 L2098,391.8 L2099,391.91 L2100,392.01 L2101,392.12 L2102,392.23 L2103,392.33 L2104,392.44 L2105,392.54 L2106,392.65 L2107,392.76 L2108,392.86 L2109,392.97 L2110,393.07 L2111,393.18 L2112,393.28 L2113,393.39 L2114,393.49 L2115,393.6" fill="none" stroke="#b9d5ea" stroke-width="2.6" stroke-linejoin="round" stroke-linecap="butt" />
<g transform="scale(1.2 1)">
<path d="M168.75,287.6 L1025,288.3 L1025.83,288.31 L1026.67,288.3 L1027.5,288.29 L1028.33,288.28 L1029.17,288.27 L1030,288.26 L1030.83,288.26 L1031.67,288.25 L1032.5,288.24 L1033.33,288.24 L1034.17,288.23 L1035,288.23 L1035.83,288.22 L1036.67,288.22 L1037.5,288.21 L1038.33,288.21 L1039.17,288.21 L1040,288.2 L1040.83,288.2 L1041.67,288.2 L1042.5,288.2 L1043.33,288.2 L1044.17,288.2 L1045,288.2 L1045.83,288.2 L1046.67,288.2 L1047.5,288.2 L1048.33,288.2 L1049.17,288.21 L1050,288.21 L1050.83,288.21 L1051.67,288.22 L1052.5,288.22 L1053.33,288.23 L1054.17,288.23 L1055,288.24 L1055.83,288.24 L1056.67,288.25 L1057.5,288.26 L1058.33,288.27 L1059.17,288.28 L1060,288.28 L1060.83,288.29 L1061.67,288.3 L1062.5,288.31 L1063.33,288.32 L1064.17,288.34 L1065,288.35 L1065.83,288.36 L1066.67,288.37 L1067.5,288.39 L1068.33,288.4 L1069.17,288.42 L1070,288.43 L1070.83,288.45 L1071.67,288.46 L1072.5,288.48 L1073.33,288.5 L1074.17,288.51 L1075,288.53 L1075.83,288.55 L1076.67,288.57 L1077.5,288.59 L1078.33,288.61 L1079.17,288.63 L1080,288.65 L1080.83,288.67 L1081.67,288.69 L1082.5,288.72 L1083.33,288.74 L1084.17,288.77 L1085,288.79 L1085.83,288.81 L1086.67,288.84 L1087.5,288.87 L1088.33,288.89 L1089.17,288.92 L1090,288.95 L1090.83,288.98 L1091.67,289.01 L1092.5,289.03 L1093.33,289.06 L1094.17,289.09 L1095,289.13 L1095.83,289.16 L1096.67,289.19 L1097.5,289.22 L1098.33,289.26 L1099.17,289.29 L1100,289.32 L1100.83,289.36 L1101.67,289.4 L1102.5,289.43 L1103.33,289.47 L1104.17,289.51 L1105,289.54 L1105.83,289.58 L1106.67,289.62 L1107.5,289.66 L1108.33,289.7 L1109.17,289.74 L1110,289.78 L1110.83,289.83 L1111.67,289.87 L1112.5,289.91 L1113.33,289.96 L1114.17,290 L1115,290.04 L1115.83,290.09 L1116.67,290.14 L1117.5,290.18 L1118.33,290.23 L1119.17,290.28 L1120,290.33 L1120.83,290.38 L1121.67,290.43 L1122.5,290.48 L1123.33,290.53 L1124.17,290.58 L1125,290.63 L1125.83,290.69 L1126.67,290.74 L1127.5,290.79 L1128.33,290.85 L1129.17,290.9 L1130,290.96 L1130.83,291.02 L1131.67,291.07 L1132.5,291.13 L1133.33,291.19 L1134.17,291.25 L1135,291.31 L1135.83,291.37 L1136.67,291.43 L1137.5,291.49 L1138.33,291.55 L1139.17,291.62 L1140,291.68 L1140.83,291.75 L1141.67,291.81 L1142.5,291.88 L1143.33,291.94 L1144.17,292.01 L1145,292.08 L1145.83,292.15 L1146.67,292.21 L1147.5,292.28 L1148.33,292.35 L1149.17,292.43 L1150,292.5 L1150.83,292.57 L1151.67,292.64 L1152.5,292.72 L1153.33,292.79 L1154.17,292.86 L1155,292.94 L1155.83,293.02 L1156.67,293.09 L1157.5,293.17 L1158.33,293.25 L1159.17,293.33 L1160,293.41 L1160.83,293.49 L1161.67,293.57 L1162.5,293.65 L1163.33,293.73 L1164.17,293.82 L1165,293.9 L1165.83,293.99 L1166.67,294.07 L1167.5,294.16 L1168.33,294.24 L1169.17,294.33 L1170,294.42 L1170.83,294.51 L1171.67,294.6 L1172.5,294.69 L1173.33,294.78 L1174.17,294.87 L1175,294.96 L1175.83,295.05 L1176.67,295.15 L1177.5,295.24 L1178.33,295.34 L1179.17,295.43 L1180,295.53 L1180.83,295.63 L1181.67,295.72 L1182.5,295.82 L1183.33,295.92 L1184.17,296.02 L1185,296.12 L1185.83,296.23 L1186.67,296.33 L1187.5,296.43 L1188.33,296.53 L1189.17,296.64 L1190,296.74 L1190.83,296.85 L1191.67,296.96 L1192.5,297.06 L1193.33,297.17 L1194.17,297.28 L1195,297.39 L1195.83,297.5 L1196.67,297.61 L1197.5,297.72 L1198.33,297.83 L1199.17,297.94 L1200,298.06 L1200.83,298.17 L1201.67,298.28 L1202.5,298.4 L1203.33,298.52 L1204.17,298.63 L1205,298.75 L1205.83,298.87 L1206.67,298.98 L1207.5,299.1 L1208.33,299.22 L1209.17,299.34 L1210,299.46 L1210.83,299.58 L1211.67,299.71 L1212.5,299.83 L1213.33,299.95 L1214.17,300.07 L1215,300.2 L1215.83,300.32 L1216.67,300.45 L1217.5,300.57 L1218.33,300.7 L1219.17,300.83 L1220,300.96 L1220.83,301.08 L1221.67,301.21 L1222.5,301.34 L1223.33,301.47 L1224.17,301.6 L1225,301.73 L1225.83,301.86 L1226.67,302 L1227.5,302.13 L1228.33,302.26 L1229.17,302.39 L1230,302.53 L1230.83,302.66 L1231.67,302.8 L1232.5,302.93 L1233.33,303.07 L1234.17,303.21 L1235,303.34 L1235.83,303.48 L1236.67,303.62 L1237.5,303.76 L1238.33,303.9 L1239.17,304.04 L1240,304.18 L1240.83,304.32 L1241.67,304.46 L1242.5,304.6 L1243.33,304.74 L1244.17,304.88 L1245,305.03 L1245.83,305.17 L1246.67,305.31 L1247.5,305.46 L1248.33,305.6 L1249.17,305.75 L1250,305.89 L1250.83,306.04 L1251.67,306.18 L1252.5,306.33 L1253.33,306.48 L1254.17,306.62 L1255,306.77 L1255.83,306.92 L1256.67,307.07 L1257.5,307.22 L1258.33,307.37 L1259.17,307.52 L1260,307.67 L1260.83,307.82 L1261.67,307.97 L1262.5,308.12 L1263.33,308.27 L1264.17,308.43 L1265,308.58 L1265.83,308.73 L1266.67,308.88 L1267.5,309.04 L1268.33,309.19 L1269.17,309.35 L1270,309.5 L1270.83,309.66 L1271.67,309.81 L1272.5,309.97 L1273.33,310.12 L1274.17,310.28 L1275,310.44 L1275.83,310.59 L1276.67,310.75 L1277.5,310.91 L1278.33,311.07 L1279.17,311.22 L1280,311.38 L1280.83,311.54 L1281.67,311.7 L1282.5,311.86 L1283.33,312.02 L1284.17,312.18 L1285,312.34 L1285.83,312.5 L1286.67,312.66 L1287.5,312.82 L1288.33,312.98 L1289.17,313.15 L1290,313.31 L1290.83,313.47 L1291.67,313.63 L1292.5,313.79 L1293.33,313.96 L1294.17,314.12 L1295,314.28 L1295.83,314.45 L1296.67,314.61 L1297.5,314.78 L1298.33,314.94 L1299.17,315.1 L1300,315.27 L1300.83,315.43 L1301.67,315.6 L1302.5,315.76 L1303.33,315.93 L1304.17,316.1 L1305,316.26 L1305.83,316.43 L1306.67,316.59 L1307.5,316.76 L1308.33,316.93 L1309.17,317.09 L1310,317.26 L1310.83,317.43 L1311.67,317.6 L1312.5,317.76 L1313.33,317.93 L1314.17,318.1 L1315,318.27 L1315.83,318.43 L1316.67,318.6 L1317.5,318.77 L1318.33,318.94 L1319.17,319.11 L1320,319.28 L1320.83,319.45 L1321.67,319.62 L1322.5,319.78 L1323.33,319.95 L1324.17,320.12 L1325,320.29 L1325.83,320.46 L1326.67,320.63 L1327.5,320.8 L1328.33,320.97 L1329.17,321.14 L1330,321.31 L1330.83,321.48 L1331.67,321.65 L1332.5,321.82 L1333.33,321.99 L1334.17,322.16 L1335,322.33 L1335.83,322.51 L1336.67,322.68 L1337.5,322.85 L1338.33,323.02 L1339.17,323.19 L1340,323.36 L1340.83,323.53 L1341.67,323.7 L1342.5,323.87 L1343.33,324.04 L1344.17,324.21 L1345,324.39 L1345.83,324.56 L1346.67,324.73 L1347.5,324.9 L1348.33,325.07 L1349.17,325.24 L1350,325.41 L1350.83,325.58 L1351.67,325.75 L1352.5,325.93 L1353.33,326.1 L1354.17,326.27 L1355,326.44 L1355.83,326.61 L1356.67,326.78 L1357.5,326.95 L1358.33,327.12 L1359.17,327.29 L1360,327.46 L1360.83,327.63 L1361.67,327.81 L1362.5,327.98 L1363.33,328.15 L1364.17,328.32 L1365,328.49 L1365.83,328.66 L1366.67,328.83 L1367.5,329 L1368.33,329.17 L1369.17,329.34 L1370,329.51 L1370.83,329.68 L1371.67,329.85 L1372.5,330.02 L1373.33,330.19 L1374.17,330.36 L1375,330.53 L1375.83,330.7 L1376.67,330.87 L1377.5,331.04 L1378.33,331.2 L1379.17,331.37 L1380,331.54 L1380.83,331.71 L1381.67,331.88 L1382.5,332.05 L1383.33,332.22 L1384.17,332.38 L1385,332.55 L1385.83,332.72 L1386.67,332.89 L1387.5,333.05 L1388.33,333.22 L1389.17,333.39 L1390,333.56 L1390.83,333.72 L1391.67,333.89 L1392.5,334.06 L1393.33,334.22 L1394.17,334.39 L1395,334.55 L1395.83,334.72 L1396.67,334.89 L1397.5,335.05 L1398.33,335.22 L1399.17,335.38 L1400,335.55 L1400.83,335.71 L1401.67,335.88 L1402.5,336.04 L1403.33,336.2 L1404.17,336.37 L1405,336.53 L1405.83,336.7 L1406.67,336.86 L1407.5,337.02 L1408.33,337.19 L1409.17,337.35 L1410,337.51 L1410.83,337.68 L1411.67,337.84 L1412.5,338 L1413.33,338.17 L1414.17,338.33 L1415,338.49 L1415.83,338.65 L1416.67,338.81 L1417.5,338.98 L1418.33,339.14 L1419.17,339.3 L1420,339.46 L1420.83,339.62 L1421.67,339.78 L1422.5,339.94 L1423.33,340.1 L1424.17,340.26 L1425,340.42 L1425.83,340.58 L1426.67,340.74 L1427.5,340.9 L1428.33,341.06 L1429.17,341.22 L1430,341.38 L1430.83,341.54 L1431.67,341.7 L1432.5,341.86 L1433.33,342.02 L1434.17,342.18 L1435,342.34 L1435.83,342.49 L1436.67,342.65 L1437.5,342.81 L1438.33,342.97 L1439.17,343.13 L1440,343.28 L1440.83,343.44 L1441.67,343.6 L1442.5,343.76 L1443.33,343.91 L1444.17,344.07 L1445,344.23 L1445.83,344.38 L1446.67,344.54 L1447.5,344.7 L1448.33,344.85 L1449.17,345.01 L1450,345.16 L1450.83,345.32 L1451.67,345.47 L1452.5,345.63 L1453.33,345.78 L1454.17,345.94 L1455,346.09 L1455.83,346.25 L1456.67,346.4 L1457.5,346.56 L1458.33,346.71 L1459.17,346.87 L1460,347.02 L1460.83,347.17 L1461.67,347.33 L1462.5,347.48 L1463.33,347.63 L1464.17,347.79 L1465,347.94 L1465.83,348.09 L1466.67,348.25 L1467.5,348.4 L1468.33,348.55 L1469.17,348.7 L1470,348.85 L1470.83,349.01 L1471.67,349.16 L1472.5,349.31 L1473.33,349.46 L1474.17,349.61 L1475,349.76 L1475.83,349.92 L1476.67,350.07 L1477.5,350.22 L1478.33,350.37 L1479.17,350.52 L1480,350.67 L1480.83,350.82 L1481.67,350.97 L1482.5,351.12 L1483.33,351.27 L1484.17,351.42 L1485,351.57 L1485.83,351.72 L1486.67,351.87 L1487.5,352.01 L1488.33,352.16 L1489.17,352.31 L1490,352.46 L1490.83,352.61 L1491.67,352.76 L1492.5,352.91 L1493.33,353.05 L1494.17,353.2 L1495,353.35 L1495.83,353.5 L1496.67,353.64 L1497.5,353.79 L1498.33,353.94 L1499.17,354.08 L1500,354.23 L1500.83,354.38 L1501.67,354.52 L1502.5,354.67 L1503.33,354.82 L1504.17,354.96 L1505,355.11 L1505.83,355.25 L1506.67,355.4 L1507.5,355.55 L1508.33,355.69 L1509.17,355.84 L1510,355.98 L1510.83,356.13 L1511.67,356.27 L1512.5,356.41 L1513.33,356.56 L1514.17,356.7 L1515,356.85 L1515.83,356.99 L1516.67,357.14 L1517.5,357.28 L1518.33,357.42 L1519.17,357.57 L1520,357.71 L1520.83,357.85 L1521.67,358 L1522.5,358.14 L1523.33,358.28 L1524.17,358.42 L1525,358.57 L1525.83,358.71 L1526.67,358.85 L1527.5,358.99 L1528.33,359.13 L1529.17,359.28 L1530,359.42 L1530.83,359.56 L1531.67,359.7 L1532.5,359.84 L1533.33,359.98 L1534.17,360.12 L1535,360.26 L1535.83,360.4 L1536.67,360.54 L1537.5,360.68 L1538.33,360.82 L1539.17,360.96 L1540,361.1 L1540.83,361.24 L1541.67,361.38 L1542.5,361.52 L1543.33,361.66 L1544.17,361.8 L1545,361.94 L1545.83,362.08 L1546.67,362.22 L1547.5,362.36 L1548.33,362.49 L1549.17,362.63 L1550,362.77 L1550.83,362.91 L1551.67,363.05 L1551.67,363.05" fill="none" stroke="#00002e" stroke-width="5.0" stroke-linejoin="round" stroke-linecap="butt" stroke-dasharray="22.083 19.667"/>
<path d="M1551.67,363.05 L1552.5,363.18 L1553.33,363.32 L1554.17,363.46 L1555,363.6 L1555.83,363.73 L1556.67,363.87 L1557.5,364.01 L1558.33,364.14 L1559.17,364.28 L1560,364.42 L1560.83,364.55 L1561.67,364.69 L1562.5,364.82 L1563.33,364.96 L1564.17,365.1 L1565,365.23 L1565.83,365.37 L1566.67,365.5 L1567.5,365.64 L1568.33,365.77 L1569.17,365.91 L1570,366.04 L1570.83,366.18 L1571.67,366.31 L1572.5,366.45 L1573.33,366.58 L1574.17,366.71 L1575,366.85 L1575.83,366.98 L1576.67,367.11 L1577.5,367.25 L1578.33,367.38 L1579.17,367.51 L1580,367.65 L1580.83,367.78 L1581.67,367.91 L1582.5,368.05 L1583.33,368.18 L1584.17,368.31 L1585,368.44 L1585.83,368.57 L1586.67,368.71 L1587.5,368.84 L1588.33,368.97 L1589.17,369.1 L1590,369.23 L1590.83,369.36 L1591.67,369.5 L1592.5,369.63 L1593.33,369.76 L1594.17,369.89 L1595,370.02 L1595.83,370.15 L1596.67,370.28 L1597.5,370.41 L1598.33,370.54 L1599.17,370.67 L1600,370.8 L1600.83,370.93 L1601.67,371.06 L1602.5,371.19 L1603.33,371.32 L1604.17,371.45 L1605,371.57 L1605.83,371.7 L1606.67,371.83 L1607.5,371.96 L1608.33,372.09 L1609.17,372.22 L1610,372.35 L1610.83,372.47 L1611.67,372.6 L1612.5,372.73 L1613.33,372.86 L1614.17,372.98 L1615,373.11 L1615.83,373.24 L1616.67,373.37 L1617.5,373.49 L1618.33,373.62 L1619.17,373.75 L1620,373.87 L1620.83,374 L1621.67,374.12 L1622.5,374.25 L1623.33,374.38 L1624.17,374.5 L1625,374.63 L1625.83,374.75 L1626.67,374.88 L1627.5,375 L1628.33,375.13 L1629.17,375.25 L1630,375.38 L1630.83,375.5 L1631.67,375.63 L1632.5,375.75 L1633.33,375.88 L1634.17,376 L1635,376.13 L1635.83,376.25 L1636.67,376.37 L1637.5,376.5 L1638.33,376.62 L1639.17,376.74 L1640,376.87 L1640.83,376.99 L1641.67,377.11 L1642.5,377.24 L1643.33,377.36 L1644.17,377.48 L1645,377.6 L1645.83,377.73 L1646.67,377.85 L1647.5,377.97 L1648.33,378.09 L1649.17,378.21 L1650,378.34 L1650.83,378.46 L1651.67,378.58 L1652.5,378.7 L1653.33,378.82 L1654.17,378.94 L1655,379.06 L1655.83,379.18 L1656.67,379.31 L1657.5,379.43 L1658.33,379.55 L1659.17,379.67 L1660,379.79 L1660.83,379.91 L1661.67,380.03 L1662.5,380.15 L1663.33,380.27 L1664.17,380.39 L1665,380.5 L1665.83,380.62 L1666.67,380.74 L1667.5,380.86 L1668.33,380.98 L1669.17,381.1 L1670,381.22 L1670.83,381.34 L1671.67,381.45 L1672.5,381.57 L1673.33,381.69 L1674.17,381.81 L1675,381.93 L1675.83,382.04 L1676.67,382.16 L1677.5,382.28 L1678.33,382.4 L1679.17,382.51 L1680,382.63 L1680.83,382.75 L1681.67,382.86 L1682.5,382.98 L1683.33,383.1 L1684.17,383.21 L1685,383.33 L1685.83,383.45 L1686.67,383.56 L1687.5,383.68 L1688.33,383.79 L1689.17,383.91 L1690,384.03 L1690.83,384.14 L1691.67,384.26 L1692.5,384.37 L1693.33,384.49 L1694.17,384.6 L1695,384.72 L1695.83,384.83 L1696.67,384.94 L1697.5,385.06 L1698.33,385.17 L1699.17,385.29 L1700,385.4 L1700.83,385.52 L1701.67,385.63 L1702.5,385.74 L1703.33,385.86 L1704.17,385.97 L1705,386.08 L1705.83,386.2 L1706.67,386.31 L1707.5,386.42 L1708.33,386.53 L1709.17,386.65 L1710,386.76 L1710.83,386.87 L1711.67,386.98 L1712.5,387.1 L1713.33,387.21 L1714.17,387.32 L1715,387.43 L1715.83,387.54 L1716.67,387.66 L1717.5,387.77 L1718.33,387.88 L1719.17,387.99 L1720,388.1 L1720.83,388.21 L1721.67,388.32 L1722.5,388.43 L1723.33,388.54 L1724.17,388.65 L1725,388.76 L1725.83,388.87 L1726.67,388.98 L1727.5,389.09 L1728.33,389.2 L1729.17,389.31 L1730,389.42 L1730.83,389.53 L1731.67,389.64 L1732.5,389.75 L1733.33,389.86 L1734.17,389.97 L1735,390.08 L1735.83,390.19 L1736.67,390.29 L1737.5,390.4 L1738.33,390.51 L1739.17,390.62 L1740,390.73 L1740.83,390.83 L1741.67,390.94 L1742.5,391.05 L1743.33,391.16 L1744.17,391.27 L1745,391.37 L1745.83,391.48 L1746.67,391.59 L1747.5,391.69 L1748.33,391.8 L1749.17,391.91 L1750,392.01 L1750.83,392.12 L1751.67,392.23 L1752.5,392.33 L1753.33,392.44 L1754.17,392.54 L1755,392.65 L1755.83,392.76 L1756.67,392.86 L1757.5,392.97 L1758.33,393.07 L1759.17,393.18 L1760,393.28 L1760.83,393.39 L1761.67,393.49 L1762.5,393.6" fill="none" stroke="#00002e" stroke-width="5.0" stroke-linejoin="round" stroke-linecap="butt" stroke-dasharray="22.500 20.000" stroke-dashoffset="24.042"/>
</g>
</g>
<g clip-path="url(#cb)">
<path d="M198.5,1076.5 L200.5,1076.57 L202.51,1076.64 L204.51,1076.71 L206.51,1076.78 L208.51,1076.85 L210.52,1076.92 L212.52,1076.98 L214.52,1077.05 L216.53,1077.12 L218.53,1077.19 L220.53,1077.25 L222.53,1077.32 L224.54,1077.39 L226.54,1077.45 L228.54,1077.52 L230.54,1077.59 L232.55,1077.65 L234.55,1077.72 L236.55,1077.79 L238.56,1077.85 L240.56,1077.92 L242.56,1077.98 L244.56,1078.05 L246.57,1078.11 L248.57,1078.18 L250.57,1078.24 L252.58,1078.31 L254.58,1078.37 L256.58,1078.44 L258.58,1078.5 L260.59,1078.57 L262.59,1078.63 L264.59,1078.7 L266.6,1078.76 L268.6,1078.82 L270.6,1078.89 L272.6,1078.95 L274.61,1079.02 L276.61,1079.08 L278.61,1079.15 L280.61,1079.21 L282.62,1079.27 L284.62,1079.34 L286.62,1079.4 L288.63,1079.47 L290.63,1079.53 L292.63,1079.6 L294.63,1079.66 L296.64,1079.73 L298.64,1079.79 L300.64,1079.86 L302.65,1079.92 L304.65,1079.99 L306.65,1080.05 L308.65,1080.12 L310.66,1080.18 L312.66,1080.25 L314.66,1080.32 L316.67,1080.38 L318.67,1080.45 L320.67,1080.51 L322.67,1080.58 L324.68,1080.65 L326.68,1080.71 L328.68,1080.78 L330.68,1080.85 L332.69,1080.92 L334.69,1080.98 L336.69,1081.05 L338.7,1081.12 L340.7,1081.19 L342.7,1081.26 L344.7,1081.33 L346.71,1081.4 L348.71,1081.47 L350.71,1081.54 L352.72,1081.61 L354.72,1081.68 L356.72,1081.75 L358.72,1081.82 L360.73,1081.89 L362.73,1081.96 L364.73,1082.03 L366.74,1082.11 L368.74,1082.18 L370.74,1082.25 L372.74,1082.32 L374.75,1082.4 L376.75,1082.47 L378.75,1082.55 L380.75,1082.62 L382.76,1082.7 L384.76,1082.77 L386.76,1082.85 L388.77,1082.93 L390.77,1083 L392.77,1083.08 L394.77,1083.16 L396.78,1083.24 L398.78,1083.32 L400.78,1083.4 L402.79,1083.48 L404.79,1083.56 L406.79,1083.64 L408.79,1083.72 L410.8,1083.8 L412.8,1083.89 L414.8,1083.97 L416.81,1084.05 L418.81,1084.14 L420.81,1084.22 L422.81,1084.31 L424.82,1084.39 L426.82,1084.48 L428.82,1084.57 L430.82,1084.65 L432.83,1084.74 L434.83,1084.83 L436.83,1084.92 L438.84,1085.01 L440.84,1085.1 L442.84,1085.19 L444.84,1085.28 L446.85,1085.38 L448.85,1085.47 L450.85,1085.57 L452.86,1085.66 L454.86,1085.76 L456.86,1085.85 L458.86,1085.95 L460.87,1086.05 L462.87,1086.14 L464.87,1086.24 L466.88,1086.34 L468.88,1086.44 L470.88,1086.54 L472.88,1086.65 L474.89,1086.75 L476.89,1086.85 L478.89,1086.96 L480.89,1087.06 L482.9,1087.17 L484.9,1087.27 L486.9,1087.38 L488.91,1087.49 L490.91,1087.6 L492.91,1087.71 L494.91,1087.82 L496.92,1087.93 L498.92,1088.04 L500.92,1088.16 L502.93,1088.27 L504.93,1088.39 L506.93,1088.5 L508.93,1088.62 L510.94,1088.74 L512.94,1088.86 L514.94,1088.98 L516.94,1089.1 L518.95,1089.22 L520.95,1089.34 L522.95,1089.46 L524.96,1089.59 L526.96,1089.71 L528.96,1089.84 L530.96,1089.97 L532.97,1090.1 L534.97,1090.23 L536.97,1090.36 L538.98,1090.49 L540.98,1090.62 L542.98,1090.75 L544.98,1090.89 L546.99,1091.02 L548.99,1091.16 L550.99,1091.3 L553,1091.44 L555,1091.58 L557,1091.72 L559,1091.86 L561.01,1092 L563.01,1092.15 L565.01,1092.29 L567.01,1092.44 L569.02,1092.58 L571.02,1092.73 L573.02,1092.88 L575.03,1093.03 L577.03,1093.19 L579.03,1093.34 L581.03,1093.49 L583.04,1093.65 L585.04,1093.8 L587.04,1093.96 L589.05,1094.12 L591.05,1094.28 L593.05,1094.44 L595.05,1094.61 L597.06,1094.77 L599.06,1094.94 L601.06,1095.1 L603.07,1095.27 L605.07,1095.44 L607.07,1095.61 L609.07,1095.78 L611.08,1095.95 L613.08,1096.13 L615.08,1096.3 L617.08,1096.48 L619.09,1096.66 L621.09,1096.84 L623.09,1097.02 L625.1,1097.2 L627.1,1097.39 L629.1,1097.57 L631.1,1097.76 L633.11,1097.94 L635.11,1098.13 L637.11,1098.32 L639.12,1098.52 L641.12,1098.71 L643.12,1098.9 L645.12,1099.1 L647.13,1099.3 L649.13,1099.49 L651.13,1099.69 L653.14,1099.89 L655.14,1100.1 L657.14,1100.3 L659.14,1100.5 L661.15,1100.71 L663.15,1100.91 L665.15,1101.12 L667.15,1101.32 L669.16,1101.53 L671.16,1101.74 L673.16,1101.94 L675.17,1102.15 L677.17,1102.36 L679.17,1102.57 L681.17,1102.78 L683.18,1102.99 L685.18,1103.19 L687.18,1103.4 L689.19,1103.61 L691.19,1103.82 L693.19,1104.03 L695.19,1104.24 L697.2,1104.45 L699.2,1104.65 L701.2,1104.86 L703.21,1105.07 L705.21,1105.27 L707.21,1105.48 L709.21,1105.68 L711.22,1105.89 L713.22,1106.09 L715.22,1106.29 L717.22,1106.49 L719.23,1106.69 L721.23,1106.89 L723.23,1107.09 L725.24,1107.28 L727.24,1107.48 L729.24,1107.67 L731.24,1107.87 L733.25,1108.06 L735.25,1108.25 L737.25,1108.44 L739.26,1108.62 L741.26,1108.81 L743.26,1108.99 L745.26,1109.17 L747.27,1109.35 L749.27,1109.53 L751.27,1109.7 L753.28,1109.87 L755.28,1110.05 L757.28,1110.21 L759.28,1110.38 L761.29,1110.54 L763.29,1110.71 L765.29,1110.86 L767.29,1111.02 L769.3,1111.17 L771.3,1111.33 L773.3,1111.47 L775.31,1111.62 L777.31,1111.76 L779.31,1111.9 L781.31,1112.04 L783.32,1112.17 L785.32,1112.31 L787.32,1112.43 L789.33,1112.56 L791.33,1112.68 L793.33,1112.8 L795.33,1112.91 L797.34,1113.02 L799.34,1113.13 L801.34,1113.23 L803.35,1113.33 L805.35,1113.43 L807.35,1113.52 L809.35,1113.61 L811.36,1113.69 L813.36,1113.78 L815.36,1113.85 L817.36,1113.92 L819.37,1113.99 L821.37,1114.06 L823.37,1114.12 L825.38,1114.17 L827.38,1114.22 L829.38,1114.27 L831.38,1114.31 L833.39,1114.35 L835.39,1114.38 L837.39,1114.41 L839.4,1114.43 L841.4,1114.45 L843.4,1114.46 L845.4,1114.47 L847.41,1114.48 L849.41,1114.47 L851.41,1114.47 L853.42,1114.46 L855.42,1114.44 L857.42,1114.42 L859.42,1114.4 L861.43,1114.37 L863.43,1114.33 L865.43,1114.3 L867.43,1114.25 L869.44,1114.21 L871.44,1114.16 L873.44,1114.1 L875.45,1114.04 L877.45,1113.98 L879.45,1113.91 L881.45,1113.84 L883.46,1113.76 L885.46,1113.68 L887.46,1113.6 L889.47,1113.51 L891.47,1113.42 L893.47,1113.33 L895.47,1113.23 L897.48,1113.13 L899.48,1113.02 L901.48,1112.91 L903.49,1112.8 L905.49,1112.69 L907.49,1112.57 L909.49,1112.44 L911.5,1112.32 L913.5,1112.19 L915.5,1112.06 L917.5,1111.92 L919.51,1111.78 L921.51,1111.64 L923.51,1111.5 L925.52,1111.35 L927.52,1111.2 L929.52,1111.05 L931.52,1110.9 L933.53,1110.74 L935.53,1110.58 L937.53,1110.42 L939.54,1110.25 L941.54,1110.08 L943.54,1109.91 L945.54,1109.74 L947.55,1109.56 L949.55,1109.39 L951.55,1109.21 L953.56,1109.03 L955.56,1108.84 L957.56,1108.66 L959.56,1108.47 L961.57,1108.28 L963.57,1108.09 L965.57,1107.89 L967.57,1107.7 L969.58,1107.5 L971.58,1107.3 L973.58,1107.1 L975.59,1106.9 L977.59,1106.7 L979.59,1106.49 L981.59,1106.29 L983.6,1106.08 L985.6,1105.87 L987.6,1105.66 L989.61,1105.45 L991.61,1105.23 L993.61,1105.02 L995.61,1104.8 L997.62,1104.59 L999.62,1104.37 L1001.62,1104.15 L1003.62,1103.93 L1005.63,1103.71 L1007.63,1103.49 L1009.63,1103.27 L1011.64,1103.05 L1013.64,1102.83 L1015.64,1102.61 L1017.64,1102.38 L1019.65,1102.16 L1021.65,1101.93 L1023.65,1101.71 L1025.66,1101.48 L1027.66,1101.26 L1029.66,1101.03 L1031.66,1100.81 L1033.67,1100.58 L1035.67,1100.36 L1037.67,1100.13 L1039.68,1099.91 L1041.68,1099.68 L1043.68,1099.45 L1045.68,1099.23 L1047.69,1099 L1049.69,1098.78 L1051.69,1098.55 L1053.69,1098.33 L1055.7,1098.11 L1057.7,1097.88 L1059.7,1097.66 L1061.71,1097.44 L1063.71,1097.22 L1065.71,1097 L1067.71,1096.78 L1069.72,1096.56 L1071.72,1096.34 L1073.72,1096.13 L1075.73,1095.91 L1077.73,1095.7 L1079.73,1095.48 L1081.73,1095.27 L1083.74,1095.06 L1085.74,1094.85 L1087.74,1094.64 L1089.75,1094.43 L1091.75,1094.22 L1093.75,1094.02 L1095.75,1093.81 L1097.76,1093.61 L1099.76,1093.41 L1101.76,1093.21 L1103.76,1093.01 L1105.77,1092.81 L1107.77,1092.62 L1109.77,1092.43 L1111.78,1092.23 L1113.78,1092.04 L1115.78,1091.85 L1117.78,1091.67 L1119.79,1091.48 L1121.79,1091.3 L1123.79,1091.11 L1125.8,1090.93 L1127.8,1090.75 L1129.8,1090.58 L1131.8,1090.4 L1133.81,1090.23 L1135.81,1090.06 L1137.81,1089.89 L1139.82,1089.72 L1141.82,1089.56 L1143.82,1089.39 L1145.82,1089.23 L1147.83,1089.07 L1149.83,1088.91 L1151.83,1088.76 L1153.83,1088.61 L1155.84,1088.46 L1157.84,1088.31 L1159.84,1088.16 L1161.85,1088.02 L1163.85,1087.87 L1165.85,1087.73 L1167.85,1087.6 L1169.86,1087.46 L1171.86,1087.33 L1173.86,1087.2 L1175.87,1087.07 L1177.87,1086.95 L1179.87,1086.83 L1181.87,1086.71 L1183.88,1086.59 L1185.88,1086.47 L1187.88,1086.36 L1189.89,1086.25 L1191.89,1086.15 L1193.89,1086.04 L1195.89,1085.94 L1197.9,1085.84 L1199.9,1085.75 L1201.9,1085.65 L1203.9,1085.56 L1205.91,1085.48 L1207.91,1085.39 L1209.91,1085.31 L1211.92,1085.23 L1213.92,1085.16 L1215.92,1085.09 L1217.92,1085.02 L1219.93,1084.95 L1221.93,1084.89 L1223.93,1084.83 L1225.94,1084.77 L1227.94,1084.72 L1229.94,1084.67 L1231.94,1084.62 L1233.95,1084.58 L1235.95,1084.54 L1237.95,1084.5 L1239.96,1084.47 L1241.96,1084.44 L1243.96,1084.41 L1245.96,1084.39 L1247.97,1084.37 L1249.97,1084.35 L1251.97,1084.34 L1253.97,1084.33 L1255.98,1084.32 L1257.98,1084.32 L1259.98,1084.32 L1261.99,1084.33 L1263.99,1084.34 L1265.99,1084.35 L1267.99,1084.37 L1270,1084.39 L1272,1084.4 L1275.5,1085 L1275.5,721.5 L1277,721.2 L1279,721.2 L1281.01,721.2 L1283.01,721.2 L1285.01,721.2 L1287.02,721.2 L1289.02,721.21 L1291.02,721.21 L1293.03,721.22 L1295.03,721.23 L1297.03,721.24 L1299.03,721.25 L1301.04,721.26 L1303.04,721.27 L1305.04,721.29 L1307.05,721.3 L1309.05,721.32 L1311.05,721.34 L1313.06,721.36 L1315.06,721.38 L1317.06,721.4 L1319.07,721.42 L1321.07,721.45 L1323.07,721.47 L1325.08,721.5 L1327.08,721.53 L1329.08,721.56 L1331.08,721.59 L1333.09,721.63 L1335.09,721.66 L1337.09,721.7 L1339.1,721.74 L1341.1,721.78 L1343.1,721.82 L1345.11,721.86 L1347.11,721.91 L1349.11,721.96 L1351.12,722 L1353.12,722.05 L1355.12,722.11 L1357.12,722.16 L1359.13,722.22 L1361.13,722.28 L1363.13,722.33 L1365.14,722.4 L1367.14,722.46 L1369.14,722.53 L1371.15,722.59 L1373.15,722.66 L1375.15,722.73 L1377.16,722.81 L1379.16,722.88 L1381.16,722.96 L1383.17,723.04 L1385.17,723.12 L1387.17,723.21 L1389.17,723.29 L1391.18,723.38 L1393.18,723.47 L1395.18,723.57 L1397.19,723.66 L1399.19,723.76 L1401.19,723.86 L1403.2,723.96 L1405.2,724.07 L1407.2,724.17 L1409.21,724.28 L1411.21,724.39 L1413.21,724.51 L1415.22,724.63 L1417.22,724.74 L1419.22,724.87 L1421.22,724.99 L1423.23,725.12 L1425.23,725.25 L1427.23,725.38 L1429.24,725.51 L1431.24,725.65 L1433.24,725.79 L1435.25,725.93 L1437.25,726.08 L1439.25,726.22 L1441.26,726.37 L1443.26,726.53 L1445.26,726.68 L1447.27,726.84 L1449.27,727 L1451.27,727.17 L1453.27,727.34 L1455.28,727.51 L1457.28,727.68 L1459.28,727.86 L1461.29,728.04 L1463.29,728.22 L1465.29,728.4 L1467.3,728.59 L1469.3,728.78 L1471.3,728.98 L1473.31,729.17 L1475.31,729.38 L1477.31,729.58 L1479.32,729.79 L1481.32,730 L1483.32,730.21 L1485.32,730.43 L1487.33,730.65 L1489.33,730.87 L1491.33,731.09 L1493.34,731.32 L1495.34,731.56 L1497.34,731.79 L1499.35,732.03 L1501.35,732.28 L1503.35,732.52 L1505.36,732.77 L1507.36,733.03 L1509.36,733.28 L1511.37,733.54 L1513.37,733.81 L1515.37,734.07 L1517.38,734.35 L1519.38,734.62 L1521.38,734.9 L1523.38,735.18 L1525.39,735.47 L1527.39,735.76 L1529.39,736.05 L1531.4,736.35 L1533.4,736.65 L1535.4,736.95 L1537.41,737.26 L1539.41,737.57 L1541.41,737.89 L1543.42,738.21 L1545.42,738.53 L1547.42,738.86 L1549.42,739.19 L1551.43,739.52 L1553.43,739.86 L1555.43,740.21 L1557.44,740.55 L1559.44,740.9 L1561.44,741.26 L1563.45,741.62 L1565.45,741.98 L1567.45,742.35 L1569.46,742.72 L1571.46,743.1 L1573.46,743.48 L1575.47,743.86 L1577.47,744.25 L1579.47,744.64 L1581.47,745.04 L1583.48,745.44 L1585.48,745.85 L1587.48,746.26 L1589.49,746.67 L1591.49,747.09 L1593.49,747.51 L1595.5,747.94 L1597.5,748.37 L1599.5,748.81 L1601.51,749.25 L1603.51,749.7 L1605.51,750.15 L1607.52,750.6 L1609.52,751.06 L1611.52,751.53 L1613.52,751.99 L1615.53,752.47 L1617.53,752.95 L1619.53,753.43 L1621.54,753.92 L1623.54,754.41 L1625.54,754.9 L1627.55,755.41 L1629.55,755.91 L1631.55,756.42 L1633.56,756.94 L1635.56,757.46 L1637.56,757.99 L1639.57,758.52 L1641.57,759.05 L1643.57,759.59 L1645.57,760.14 L1647.58,760.69 L1649.58,761.25 L1651.58,761.81 L1653.59,762.37 L1655.59,762.94 L1657.59,763.52 L1659.6,764.1 L1661.6,764.7 L1663.6,764.99 L1665.6,765.3 L1667.6,765.64 L1669.6,766 L1671.6,766.39 L1673.6,766.8 L1675.6,767.24 L1677.6,767.71 L1679.6,768.19 L1681.6,768.71 L1683.6,769.25 L1685.6,769.81 L1687.6,770.39 L1689.6,771 L1691.6,771.64 L1693.6,772.29 L1695.6,772.97 L1697.6,773.67 L1699.6,774.4 L1701.6,775.14 L1703.6,775.91 L1705.6,776.7 L1707.6,777.51 L1709.6,778.34 L1711.6,779.19 L1713.6,780.06 L1715.6,780.95 L1717.6,781.86 L1719.6,782.79 L1721.6,783.74 L1723.6,784.71 L1725.6,785.7 L1727.6,786.7 L1729.6,787.73 L1731.6,788.77 L1733.6,789.83 L1735.6,790.91 L1737.6,792 L1739.6,793.12 L1741.6,794.24 L1743.6,795.39 L1745.6,796.55 L1747.6,797.73 L1749.6,798.92 L1751.6,800.12 L1753.6,801.35 L1755.6,802.58 L1757.6,803.84 L1759.6,805.1 L1761.6,806.38 L1763.6,807.67 L1765.6,808.98 L1767.6,810.3 L1769.6,811.63 L1771.6,812.98 L1773.6,814.34 L1775.6,815.71 L1777.6,817.09 L1779.6,818.48 L1781.6,819.89 L1783.6,821.3 L1785.6,822.73 L1787.6,824.17 L1789.6,825.61 L1791.6,827.07 L1793.6,828.54 L1795.6,830.01 L1797.6,831.5 L1799.6,832.99 L1801.6,834.5 L1803.6,836.01 L1805.6,837.53 L1807.6,839.05 L1809.6,840.59 L1811.6,842.13 L1813.6,843.68 L1815.6,845.24 L1817.6,846.8 L1819.6,848.37 L1821.6,849.94 L1823.6,851.52 L1825.6,853.11 L1827.6,854.7 L1829.6,856.3 L1831.6,857.9 L1833.6,859.5 L1835.6,861.11 L1837.6,862.72 L1839.6,864.34 L1841.6,865.96 L1843.6,867.58 L1845.6,869.21 L1847.6,870.84 L1849.6,872.47 L1851.6,874.1" fill="none" stroke="#8f8f00" stroke-width="3.9" stroke-linejoin="round" stroke-linecap="butt" />
<path d="M1854.2,882 L1856.21,883.86 L1858.21,885.74 L1860.22,887.61 L1862.22,889.46 L1864.23,891.31 L1866.24,893.15 L1868.24,894.97 L1870.25,896.79 L1872.25,898.6 L1874.26,900.4 L1876.27,902.18 L1878.27,903.96 L1880.28,905.73 L1882.28,907.48 L1884.29,909.23 L1886.3,910.97 L1888.3,912.69 L1890.31,914.41 L1892.31,916.11 L1894.32,917.8 L1896.33,919.48 L1898.33,921.15 L1900.34,922.81 L1902.34,924.46 L1904.35,926.1 L1906.36,927.73 L1908.36,929.34 L1910.37,930.94 L1912.37,932.54 L1914.38,934.12 L1916.39,935.69 L1918.39,937.24 L1920.4,938.79 L1922.4,940.32 L1924.41,941.84 L1926.42,943.35 L1928.42,944.85 L1930.43,946.33 L1932.43,947.81 L1934.44,949.27 L1936.45,950.72 L1938.45,952.15 L1940.46,953.57 L1942.46,954.98 L1944.47,956.38 L1946.48,957.77 L1948.48,959.14 L1950.49,960.5 L1952.49,961.85 L1954.5,963.18 L1956.51,964.5 L1958.51,965.81 L1960.52,967.1 L1962.52,968.38 L1964.53,969.65 L1966.54,970.9 L1968.54,972.14 L1970.55,973.37 L1972.55,974.58 L1974.56,975.78 L1976.57,976.96 L1978.57,978.13 L1980.58,979.29 L1982.58,980.43 L1984.59,981.56 L1986.6,982.68 L1988.6,983.78 L1990.61,984.87 L1992.62,985.95 L1994.62,987.01 L1996.63,988.06 L1998.63,989.1 L2000.64,990.12 L2002.65,991.14 L2004.65,992.14 L2006.66,993.13 L2008.66,994.1 L2010.67,995.07 L2012.68,996.02 L2014.68,996.96 L2016.69,997.89 L2018.69,998.81 L2020.7,999.72 L2022.71,1000.62 L2024.71,1001.51 L2026.72,1002.38 L2028.72,1003.25 L2030.73,1004.1 L2032.74,1004.94 L2034.74,1005.78 L2036.75,1006.6 L2038.75,1007.42 L2040.76,1008.22 L2042.77,1009.02 L2044.77,1009.8 L2046.78,1010.58 L2048.78,1011.34 L2050.79,1012.1 L2052.8,1012.85 L2054.8,1013.59 L2056.81,1014.32 L2058.81,1015.05 L2060.82,1015.76 L2062.83,1016.47 L2064.83,1017.17 L2066.84,1017.86 L2068.84,1018.54 L2070.85,1019.21 L2072.86,1019.88 L2074.86,1020.54 L2076.87,1021.19 L2078.87,1021.84 L2080.88,1022.48 L2082.89,1023.11 L2084.89,1023.73 L2086.9,1024.35 L2088.9,1024.96 L2090.91,1025.57 L2092.92,1026.17 L2094.92,1026.76 L2096.93,1027.35 L2098.93,1027.93 L2100.94,1028.51 L2102.95,1029.08 L2104.95,1029.64 L2106.96,1030.2 L2108.96,1030.76 L2110.97,1031.31 L2112.98,1031.86 L2114.98,1032.4 L2116.99,1032.93 L2118.99,1033.46 L2121,1034" fill="none" stroke="#8f8f00" stroke-width="3.9" stroke-linejoin="round" stroke-linecap="butt" />
<path d="M198.5,1109.5 L200.51,1110.24 L202.51,1110.98 L204.52,1111.72 L206.53,1112.45 L208.54,1113.18 L210.54,1113.9 L212.55,1114.62 L214.56,1115.34 L216.57,1116.06 L218.57,1116.77 L220.58,1117.47 L222.59,1118.18 L224.59,1118.87 L226.6,1119.57 L228.61,1120.26 L230.62,1120.95 L232.62,1121.64 L234.63,1122.32 L236.64,1123 L238.65,1123.68 L240.65,1124.35 L242.66,1125.02 L244.67,1125.68 L246.67,1126.35 L248.68,1127.01 L250.69,1127.66 L252.7,1128.32 L254.7,1128.97 L256.71,1129.62 L258.72,1130.26 L260.73,1130.9 L262.73,1131.54 L264.74,1132.18 L266.75,1132.81 L268.75,1133.44 L270.76,1134.07 L272.77,1134.69 L274.78,1135.32 L276.78,1135.94 L278.79,1136.55 L280.8,1137.17 L282.81,1137.78 L284.81,1138.39 L286.82,1138.99 L288.83,1139.6 L290.83,1140.2 L292.84,1140.8 L294.85,1141.39 L296.86,1141.99 L298.86,1142.58 L300.87,1143.17 L302.88,1143.76 L304.89,1144.34 L306.89,1144.93 L308.9,1145.51 L310.91,1146.08 L312.92,1146.66 L314.92,1147.23 L316.93,1147.81 L318.94,1148.38 L320.94,1148.94 L322.95,1149.51 L324.96,1150.07 L326.97,1150.64 L328.97,1151.2 L330.98,1151.75 L332.99,1152.31 L335,1152.87 L337,1153.42 L339.01,1153.97 L341.02,1154.52 L343.02,1155.07 L345.03,1155.61 L347.04,1156.16 L349.05,1156.7 L351.05,1157.24 L353.06,1157.78 L355.07,1158.32 L357.08,1158.86 L359.08,1159.39 L361.09,1159.93 L363.1,1160.46 L365.1,1160.99 L367.11,1161.52 L369.12,1162.05 L371.13,1162.58 L373.13,1163.11 L375.14,1163.63 L377.15,1164.15 L379.16,1164.68 L381.16,1165.2 L383.17,1165.72 L385.18,1166.24 L387.18,1166.76 L389.19,1167.28 L391.2,1167.79 L393.21,1168.31 L395.21,1168.83 L397.22,1169.34 L399.23,1169.85 L401.24,1170.37 L403.24,1170.88 L405.25,1171.39 L407.26,1171.9 L409.26,1172.41 L411.27,1172.92 L413.28,1173.43 L415.29,1173.94 L417.29,1174.44 L419.3,1174.95 L421.31,1175.46 L423.32,1175.96 L425.32,1176.47 L427.33,1176.97 L429.34,1177.48 L431.34,1177.98 L433.35,1178.49 L435.36,1178.99 L437.37,1179.5 L439.37,1180 L441.38,1180.5 L443.39,1181.01 L445.4,1181.51 L447.4,1182.01 L449.41,1182.52 L451.42,1183.02 L453.42,1183.52 L455.43,1184.03 L457.44,1184.53 L459.45,1185.04 L461.45,1185.54 L463.46,1186.04 L465.47,1186.55 L467.48,1187.05 L469.48,1187.56 L471.49,1188.06 L473.5,1188.57 L475.5,1189.07 L477.51,1189.58 L479.52,1190.09 L481.53,1190.59 L483.53,1191.1 L485.54,1191.61 L487.55,1192.12 L489.56,1192.63 L491.56,1193.14 L493.57,1193.65 L495.58,1194.16 L497.58,1194.67 L499.59,1195.18 L501.6,1195.69 L503.61,1196.21 L505.61,1196.72 L507.62,1197.24 L509.63,1197.76 L511.64,1198.27 L513.64,1198.79 L515.65,1199.31 L517.66,1199.83 L519.67,1200.35 L521.67,1200.88 L523.68,1201.4 L525.69,1201.92 L527.69,1202.45 L529.7,1202.98 L531.71,1203.51 L533.72,1204.04 L535.72,1204.57 L537.73,1205.1 L539.74,1205.63 L541.75,1206.17 L543.75,1206.71 L545.76,1207.24 L547.77,1207.78 L549.77,1208.32 L551.78,1208.87 L553.79,1209.41 L555.8,1209.96 L557.8,1210.5 L559.81,1211.05 L561.82,1211.6 L563.83,1212.16 L565.83,1212.71 L567.84,1213.27 L569.85,1213.82 L571.85,1214.38 L573.86,1214.94 L575.87,1215.51 L577.88,1216.07 L579.88,1216.64 L581.89,1217.21 L583.9,1217.78 L585.91,1218.36 L587.91,1218.93 L589.92,1219.51 L591.93,1220.09 L593.93,1220.67 L595.94,1221.25 L597.95,1221.84 L599.96,1222.43 L601.96,1223.02 L603.97,1223.61 L605.98,1224.21 L607.99,1224.81 L609.99,1225.41 L612,1226 L614,1226.34 L616.01,1226.67 L618.01,1227 L620.01,1227.32 L622.02,1227.64 L624.02,1227.96 L626.02,1228.27 L628.02,1228.59 L630.03,1228.9 L632.03,1229.2 L634.03,1229.51 L636.04,1229.81 L638.04,1230.11 L640.04,1230.41 L642.05,1230.7 L644.05,1231 L646.05,1231.29 L648.05,1231.58 L650.06,1231.86 L652.06,1232.14 L654.06,1232.42 L656.07,1232.7 L658.07,1232.98 L660.07,1233.25 L662.08,1233.52 L664.08,1233.79 L666.08,1234.06 L668.08,1234.32 L670.09,1234.58 L672.09,1234.84 L674.09,1235.1 L676.1,1235.36 L678.1,1235.61 L680.1,1235.86 L682.11,1236.11 L684.11,1236.35 L686.11,1236.6 L688.12,1236.84 L690.12,1237.08 L692.12,1237.31 L694.12,1237.55 L696.13,1237.78 L698.13,1238.01 L700.13,1238.24 L702.14,1238.47 L704.14,1238.69 L706.14,1238.91 L708.15,1239.13 L710.15,1239.35 L712.15,1239.56 L714.15,1239.78 L716.16,1239.99 L718.16,1240.2 L720.16,1240.41 L722.17,1240.61 L724.17,1240.81 L726.17,1241.02 L728.18,1241.21 L730.18,1241.41 L732.18,1241.61 L734.18,1241.8 L736.19,1241.99 L738.19,1242.18 L740.19,1242.37 L742.2,1242.55 L744.2,1242.74 L746.2,1242.92 L748.21,1243.1 L750.21,1243.28 L752.21,1243.45 L754.22,1243.63 L756.22,1243.8 L758.22,1243.97 L760.22,1244.14 L762.23,1244.3 L764.23,1244.47 L766.23,1244.63 L768.24,1244.79 L770.24,1244.95 L772.24,1245.11 L774.25,1245.27 L776.25,1245.42 L778.25,1245.57 L780.25,1245.72 L782.26,1245.87 L784.26,1246.02 L786.26,1246.17 L788.27,1246.31 L790.27,1246.45 L792.27,1246.59 L794.28,1246.73 L796.28,1246.87 L798.28,1247 L800.28,1247.14 L802.29,1247.27 L804.29,1247.4 L806.29,1247.53 L808.3,1247.66 L810.3,1247.79 L812.3,1247.91 L814.31,1248.03 L816.31,1248.16 L818.31,1248.28 L820.32,1248.39 L822.32,1248.51 L824.32,1248.63 L826.32,1248.74 L828.33,1248.85 L830.33,1248.96 L832.33,1249.07 L834.34,1249.18 L836.34,1249.29 L838.34,1249.39 L840.35,1249.5 L842.35,1249.6 L844.35,1249.7 L846.35,1249.8 L848.36,1249.9 L850.36,1250 L852.36,1250.09 L854.37,1250.19 L856.37,1250.28 L858.37,1250.37 L860.38,1250.46 L862.38,1250.55 L864.38,1250.64 L866.38,1250.73 L868.39,1250.81 L870.39,1250.9 L872.39,1250.98 L874.4,1251.06 L876.4,1251.14 L878.4,1251.22 L880.41,1251.3 L882.41,1251.38 L884.41,1251.45 L886.42,1251.53 L888.42,1251.6 L890.42,1251.68 L892.42,1251.75 L894.43,1251.82 L896.43,1251.89 L898.43,1251.95 L900.44,1252.02 L902.44,1252.09 L904.44,1252.15 L906.45,1252.22 L908.45,1252.28 L910.45,1252.34 L912.45,1252.4 L914.46,1252.46 L916.46,1252.52 L918.46,1252.58 L920.47,1252.63 L922.47,1252.69 L924.47,1252.74 L926.48,1252.8 L928.48,1252.85 L930.48,1252.9 L932.48,1252.96 L934.49,1253.01 L936.49,1253.06 L938.49,1253.1 L940.5,1253.15 L942.5,1253.2 L944.5,1253.24 L946.51,1253.29 L948.51,1253.33 L950.51,1253.38 L952.52,1253.42 L954.52,1253.46 L956.52,1253.5 L958.52,1253.54 L960.53,1253.58 L962.53,1253.62 L964.53,1253.66 L966.54,1253.7 L968.54,1253.73 L970.54,1253.77 L972.55,1253.81 L974.55,1253.84 L976.55,1253.88 L978.55,1253.91 L980.56,1253.94 L982.56,1253.97 L984.56,1254 L986.57,1254.04 L988.57,1254.07 L990.57,1254.1 L992.58,1254.12 L994.58,1254.15 L996.58,1254.18 L998.58,1254.21 L1000.59,1254.24 L1002.59,1254.26 L1004.59,1254.29 L1006.6,1254.31 L1008.6,1254.34 L1010.6,1254.36 L1012.61,1254.39 L1014.61,1254.41 L1016.61,1254.43 L1018.62,1254.46 L1020.62,1254.48 L1022.62,1254.5 L1024.62,1254.52 L1026.63,1254.54 L1028.63,1254.56 L1030.63,1254.58 L1032.64,1254.6 L1034.64,1254.62 L1036.64,1254.64 L1038.65,1254.66 L1040.65,1254.68 L1042.65,1254.69 L1044.65,1254.71 L1046.66,1254.73 L1048.66,1254.75 L1050.66,1254.76 L1052.67,1254.78 L1054.67,1254.8 L1056.67,1254.81 L1058.68,1254.83 L1060.68,1254.85 L1062.68,1254.86 L1064.68,1254.88 L1066.69,1254.89 L1068.69,1254.91 L1070.69,1254.92 L1072.7,1254.94 L1074.7,1254.95 L1076.7,1254.97 L1078.71,1254.98 L1080.71,1254.99 L1082.71,1255.01 L1084.72,1255.02 L1086.72,1255.04 L1088.72,1255.05 L1090.72,1255.06 L1092.73,1255.08 L1094.73,1255.09 L1096.73,1255.11 L1098.74,1255.12 L1100.74,1255.13 L1102.74,1255.15 L1104.75,1255.16 L1106.75,1255.17 L1108.75,1255.19 L1110.75,1255.2 L1112.76,1255.22 L1114.76,1255.23 L1116.76,1255.24 L1118.77,1255.26 L1120.77,1255.27 L1122.77,1255.29 L1124.78,1255.3 L1126.78,1255.32 L1128.78,1255.33 L1130.78,1255.35 L1132.79,1255.36 L1134.79,1255.38 L1136.79,1255.39 L1138.8,1255.41 L1140.8,1255.42 L1142.8,1255.44 L1144.81,1255.46 L1146.81,1255.47 L1148.81,1255.49 L1150.82,1255.51 L1152.82,1255.53 L1154.82,1255.54 L1156.82,1255.56 L1158.83,1255.58 L1160.83,1255.6 L1162.83,1255.62 L1164.84,1255.64 L1166.84,1255.66 L1168.84,1255.68 L1170.85,1255.7 L1172.85,1255.72 L1174.85,1255.74 L1176.85,1255.76 L1178.86,1255.79 L1180.86,1255.81 L1182.86,1255.83 L1184.87,1255.86 L1186.87,1255.88 L1188.87,1255.9 L1190.88,1255.93 L1192.88,1255.96 L1194.88,1255.98 L1196.88,1256.01 L1198.89,1256.03 L1200.89,1256.06 L1202.89,1256.09 L1204.9,1256.12 L1206.9,1256.15 L1208.9,1256.18 L1210.91,1256.21 L1212.91,1256.24 L1214.91,1256.27 L1216.92,1256.3 L1218.92,1256.34 L1220.92,1256.37 L1222.92,1256.41 L1224.93,1256.44 L1226.93,1256.48 L1228.93,1256.51 L1230.94,1256.55 L1232.94,1256.59 L1234.94,1256.63 L1236.95,1256.67 L1238.95,1256.71 L1240.95,1256.75 L1242.95,1256.79 L1244.96,1256.83 L1246.96,1256.87 L1248.96,1256.92 L1250.97,1256.96 L1252.97,1257.01 L1254.97,1257.05 L1256.98,1257.1 L1258.98,1257.15 L1260.98,1257.2 L1262.98,1257.25 L1264.99,1257.3 L1266.99,1257.35 L1268.99,1257.4 L1271,1257.46 L1273,1257.5 L1274.5,1257.6 L1274.5,891 L1278.5,890.6 L1280.51,890.66 L1282.51,890.73 L1284.52,890.8 L1286.52,890.87 L1288.53,890.93 L1290.53,890.99 L1292.54,891.05 L1294.54,891.12 L1296.55,891.17 L1298.55,891.23 L1300.56,891.29 L1302.56,891.34 L1304.57,891.4 L1306.57,891.45 L1308.58,891.5 L1310.58,891.55 L1312.59,891.6 L1314.59,891.65 L1316.6,891.69 L1318.6,891.74 L1320.61,891.78 L1322.61,891.82 L1324.62,891.87 L1326.62,891.91 L1328.63,891.94 L1330.63,891.98 L1332.64,892.02 L1334.64,892.06 L1336.65,892.09 L1338.66,892.12 L1340.66,892.16 L1342.67,892.19 L1344.67,892.22 L1346.68,892.25 L1348.68,892.28 L1350.69,892.31 L1352.69,892.33 L1354.7,892.36 L1356.7,892.38 L1358.71,892.41 L1360.71,892.43 L1362.72,892.45 L1364.72,892.47 L1366.73,892.5 L1368.73,892.51 L1370.74,892.53 L1372.74,892.55 L1374.75,892.57 L1376.75,892.59 L1378.76,892.6 L1380.76,892.62 L1382.77,892.63 L1384.77,892.64 L1386.78,892.66 L1388.78,892.67 L1390.79,892.68 L1392.79,892.69 L1394.8,892.7 L1396.81,892.71 L1398.81,892.72 L1400.82,892.73 L1402.82,892.74 L1404.83,892.75 L1406.83,892.75 L1408.84,892.76 L1410.84,892.77 L1412.85,892.77 L1414.85,892.78 L1416.86,892.78 L1418.86,892.78 L1420.87,892.79 L1422.87,892.79 L1424.88,892.79 L1426.88,892.8 L1428.89,892.8 L1430.89,892.8 L1432.9,892.8 L1434.9,892.8 L1436.91,892.8 L1438.91,892.8 L1440.92,892.8 L1442.92,892.8 L1444.93,892.8 L1446.93,892.8 L1448.94,892.8 L1450.94,892.8 L1452.95,892.8 L1454.96,892.79 L1456.96,892.79 L1458.97,892.79 L1460.97,892.79 L1462.98,892.79 L1464.98,892.78 L1466.99,892.78 L1468.99,892.78 L1471,892.78 L1473,892.77 L1475.01,892.77 L1477.01,892.77 L1479.02,892.76 L1481.02,892.76 L1483.03,892.76 L1485.03,892.76 L1487.04,892.75 L1489.04,892.75 L1491.05,892.75 L1493.05,892.75 L1495.06,892.74 L1497.06,892.74 L1499.07,892.74 L1501.07,892.74 L1503.08,892.74 L1505.08,892.74 L1507.09,892.73 L1509.09,892.73 L1511.1,892.73 L1513.11,892.73 L1515.11,892.73 L1517.12,892.73 L1519.12,892.73 L1521.13,892.73 L1523.13,892.73 L1525.14,892.73 L1527.14,892.74 L1529.15,892.74 L1531.15,892.74 L1533.16,892.74 L1535.16,892.75 L1537.17,892.75 L1539.17,892.75 L1541.18,892.76 L1543.18,892.76 L1545.19,892.77 L1547.19,892.78 L1549.2,892.78 L1551.2,892.79 L1553.21,892.8 L1555.21,892.8 L1557.22,892.81 L1559.22,892.82 L1561.23,892.83 L1563.23,892.84 L1565.24,892.85 L1567.24,892.87 L1569.25,892.88 L1571.26,892.89 L1573.26,892.91 L1575.27,892.92 L1577.27,892.94 L1579.28,892.95 L1581.28,892.97 L1583.29,892.99 L1585.29,893 L1587.3,893.02 L1589.3,893.04 L1591.31,893.06 L1593.31,893.09 L1595.32,893.11 L1597.32,893.13 L1599.33,893.16 L1601.33,893.18 L1603.34,893.21 L1605.34,893.24 L1607.35,893.26 L1609.35,893.29 L1611.36,893.32 L1613.36,893.35 L1615.37,893.39 L1617.37,893.42 L1619.38,893.45 L1621.38,893.49 L1623.39,893.52 L1625.39,893.56 L1627.4,893.6 L1629.41,893.64 L1631.41,893.68 L1633.42,893.72 L1635.42,893.76 L1637.43,893.81 L1639.43,893.85 L1641.44,893.9 L1643.44,893.95 L1645.45,894 L1647.45,894.05 L1649.46,894.1 L1651.46,894.15 L1653.47,894.21 L1655.47,894.26 L1657.48,894.32 L1659.48,894.38 L1661.49,894.44 L1663.49,894.5 L1665.5,894.56 L1667.5,894.62 L1669.51,894.69 L1671.51,894.75 L1673.52,894.82 L1675.52,894.89 L1677.53,894.96 L1679.53,895.03 L1681.54,895.11 L1683.54,895.18 L1685.55,895.26 L1687.56,895.34 L1689.56,895.42 L1691.57,895.5 L1693.57,895.58 L1695.58,895.67 L1697.58,895.76 L1699.59,895.85 L1701.59,895.94 L1703.6,896.03 L1705.6,896.12 L1707.61,896.22 L1709.61,896.32 L1711.62,896.42 L1713.62,896.52 L1715.63,896.62 L1717.63,896.73 L1719.64,896.83 L1721.64,896.94 L1723.65,897.06 L1725.65,897.17 L1727.66,897.29 L1729.66,897.4 L1731.67,897.52 L1733.67,897.65 L1735.68,897.77 L1737.68,897.9 L1739.69,898.03 L1741.69,898.16 L1743.7,898.29 L1745.71,898.43 L1747.71,898.57 L1749.72,898.71 L1751.72,898.85 L1753.73,899 L1755.73,899.15 L1757.74,899.3 L1759.74,899.45 L1761.75,899.61 L1763.75,899.77 L1765.76,899.93 L1767.76,900.09 L1769.77,900.26 L1771.77,900.43 L1773.78,900.6 L1775.78,900.78 L1777.79,900.95 L1779.79,901.13 L1781.8,901.32 L1783.8,901.5 L1785.81,901.69 L1787.81,901.89 L1789.82,902.08 L1791.82,902.28 L1793.83,902.48 L1795.83,902.68 L1797.84,902.89 L1799.84,903.1 L1801.85,903.32 L1803.86,903.53 L1805.86,903.75 L1807.87,903.97 L1809.87,904.2 L1811.88,904.43 L1813.88,904.66 L1815.89,904.9 L1817.89,905.14 L1819.9,905.38 L1821.9,905.63 L1823.91,905.88 L1825.91,906.13 L1827.92,906.38 L1829.92,906.64 L1831.93,906.91 L1833.93,907.17 L1835.94,907.44 L1837.94,907.72 L1839.95,908 L1841.95,908.28 L1843.96,908.56 L1845.96,908.85 L1847.97,909.14 L1849.97,909.44 L1851.98,909.74 L1853.98,910.04 L1855.99,910.35 L1857.99,910.66 L1860,911 L1862.01,911.35 L1864.02,911.7 L1866.02,912.03 L1868.03,912.36 L1870.04,912.69 L1872.05,913 L1874.05,913.32 L1876.06,913.63 L1878.07,913.93 L1880.08,914.24 L1882.08,914.54 L1884.09,914.85 L1886.1,915.15 L1888.11,915.46 L1890.12,915.77 L1892.12,916.08 L1894.13,916.39 L1896.14,916.72 L1898.15,917.05 L1900.15,917.38 L1902.16,917.72 L1904.17,918.08 L1906.18,918.44 L1908.18,918.81 L1910.19,919.2 L1912.2,919.59 L1914.21,920.01 L1916.22,920.43 L1918.22,920.87 L1920.23,921.33 L1922.24,921.8 L1924.25,922.29 L1926.25,922.8 L1928.26,923.33 L1930.27,923.88 L1932.28,924.46 L1934.28,925.05 L1936.29,925.67 L1938.3,926.31 L1940.31,926.98 L1942.32,927.67 L1944.32,928.39 L1946.33,929.14 L1948.34,929.92 L1950.35,930.73 L1952.35,931.56 L1954.36,932.43 L1956.37,933.33 L1958.38,934.27 L1960.38,935.23 L1962.39,936.24 L1964.4,937.28 L1966.41,938.35 L1968.42,939.47 L1970.42,940.62 L1972.43,941.82 L1974.44,943.06 L1976.45,944.35 L1978.45,945.7 L1980.46,947.1 L1982.47,948.56 L1984.48,950.08 L1986.48,951.67 L1988.49,953.32 L1990.5,955.05 L1992.51,956.86 L1994.52,958.74 L1996.52,960.7 L1998.53,962.75 L2000.54,964.88 L2002.55,967.11 L2004.55,969.43 L2006.56,971.84 L2008.57,974.36 L2010.58,976.98 L2012.58,979.71 L2014.59,982.55 L2016.6,985.51 L2018.61,988.58 L2020.62,991.79 L2022.62,995.17 L2024.63,998.72 L2026.64,1002.47 L2028.65,1006.43 L2030.65,1010.64 L2032.66,1015.1 L2034.67,1019.83 L2036.68,1024.8 L2038.68,1029.89 L2040.69,1035.01 L2042.7,1040.08 L2044.71,1045.08 L2046.72,1050.02 L2048.72,1054.92 L2050.73,1059.76 L2052.74,1064.57 L2054.75,1069.34 L2056.75,1074.09 L2058.76,1078.8 L2060.77,1083.49 L2062.78,1088.14 L2064.78,1092.75 L2066.79,1097.31 L2068.8,1101.83 L2070.81,1106.3 L2072.82,1110.71 L2074.82,1115.07 L2076.83,1119.35 L2078.84,1123.58 L2080.85,1127.73 L2082.85,1131.8 L2084.86,1135.79 L2086.87,1139.7 L2088.88,1143.53 L2090.88,1147.26 L2092.89,1150.9 L2094.9,1154.43 L2096.91,1157.86 L2098.92,1161.19 L2100.92,1164.4 L2102.93,1167.5 L2104.94,1170.48 L2106.95,1173.33 L2108.95,1176.06 L2110.96,1178.65 L2112.97,1181.11 L2114.98,1183.43 L2116.98,1185.6 L2118.99,1187.63 L2121,1189.5" fill="none" stroke="#175800" stroke-width="3.9" stroke-linejoin="round" stroke-linecap="butt" />
<path d="M198.5,1220.3 L200.5,1220.37 L202.51,1220.43 L204.51,1220.5 L206.51,1220.57 L208.51,1220.63 L210.52,1220.7 L212.52,1220.77 L214.52,1220.83 L216.52,1220.9 L218.53,1220.97 L220.53,1221.04 L222.53,1221.1 L224.53,1221.17 L226.54,1221.24 L228.54,1221.31 L230.54,1221.38 L232.54,1221.44 L234.55,1221.51 L236.55,1221.58 L238.55,1221.65 L240.55,1221.72 L242.56,1221.79 L244.56,1221.86 L246.56,1221.93 L248.56,1221.99 L250.57,1222.06 L252.57,1222.13 L254.57,1222.2 L256.57,1222.27 L258.58,1222.34 L260.58,1222.41 L262.58,1222.48 L264.58,1222.55 L266.59,1222.62 L268.59,1222.69 L270.59,1222.76 L272.59,1222.83 L274.6,1222.91 L276.6,1222.98 L278.6,1223.05 L280.6,1223.12 L282.61,1223.19 L284.61,1223.26 L286.61,1223.33 L288.61,1223.4 L290.62,1223.47 L292.62,1223.55 L294.62,1223.62 L296.62,1223.69 L298.63,1223.76 L300.63,1223.83 L302.63,1223.91 L304.63,1223.98 L306.64,1224.05 L308.64,1224.12 L310.64,1224.2 L312.64,1224.27 L314.65,1224.34 L316.65,1224.42 L318.65,1224.49 L320.65,1224.56 L322.66,1224.64 L324.66,1224.71 L326.66,1224.78 L328.66,1224.86 L330.67,1224.93 L332.67,1225 L334.67,1225.08 L336.67,1225.15 L338.68,1225.23 L340.68,1225.3 L342.68,1225.38 L344.68,1225.45 L346.69,1225.52 L348.69,1225.6 L350.69,1225.67 L352.69,1225.75 L354.7,1225.82 L356.7,1225.9 L358.7,1225.97 L360.7,1226.05 L362.71,1226.12 L364.71,1226.2 L366.71,1226.28 L368.71,1226.35 L370.72,1226.43 L372.72,1226.5 L374.72,1226.58 L376.72,1226.66 L378.73,1226.73 L380.73,1226.81 L382.73,1226.89 L384.73,1226.96 L386.74,1227.04 L388.74,1227.11 L390.74,1227.19 L392.74,1227.27 L394.75,1227.35 L396.75,1227.42 L398.75,1227.5 L400.76,1227.58 L402.76,1227.65 L404.76,1227.73 L406.76,1227.81 L408.77,1227.89 L410.77,1227.97 L412.77,1228.04 L414.77,1228.12 L416.78,1228.2 L418.78,1228.28 L420.78,1228.36 L422.78,1228.43 L424.79,1228.51 L426.79,1228.59 L428.79,1228.67 L430.79,1228.75 L432.8,1228.83 L434.8,1228.91 L436.8,1228.99 L438.8,1229.07 L440.81,1229.14 L442.81,1229.22 L444.81,1229.3 L446.81,1229.38 L448.82,1229.46 L450.82,1229.54 L452.82,1229.62 L454.82,1229.7 L456.83,1229.78 L458.83,1229.86 L460.83,1229.94 L462.83,1230.02 L464.84,1230.1 L466.84,1230.18 L468.84,1230.26 L470.84,1230.34 L472.85,1230.42 L474.85,1230.5 L476.85,1230.59 L478.85,1230.67 L480.86,1230.75 L482.86,1230.83 L484.86,1230.91 L486.86,1230.99 L488.87,1231.07 L490.87,1231.15 L492.87,1231.24 L494.87,1231.32 L496.88,1231.4 L498.88,1231.48 L500.88,1231.56 L502.88,1231.64 L504.89,1231.73 L506.89,1231.81 L508.89,1231.89 L510.89,1231.97 L512.9,1232.05 L514.9,1232.14 L516.9,1232.22 L518.9,1232.3 L520.91,1232.38 L522.91,1232.47 L524.91,1232.55 L526.91,1232.63 L528.92,1232.72 L530.92,1232.8 L532.92,1232.88 L534.92,1232.97 L536.93,1233.05 L538.93,1233.13 L540.93,1233.22 L542.93,1233.3 L544.94,1233.38 L546.94,1233.47 L548.94,1233.55 L550.94,1233.63 L552.95,1233.72 L554.95,1233.8 L556.95,1233.89 L558.95,1233.97 L560.96,1234.05 L562.96,1234.14 L564.96,1234.22 L566.96,1234.31 L568.97,1234.39 L570.97,1234.48 L572.97,1234.56 L574.97,1234.65 L576.98,1234.73 L578.98,1234.82 L580.98,1234.9 L582.98,1234.99 L584.99,1235.07 L586.99,1235.16 L588.99,1235.24 L590.99,1235.33 L593,1235.41 L595,1235.5 L597,1235.22 L599,1234.94 L601.01,1234.66 L603.01,1234.37 L605.01,1234.09 L607.01,1233.81 L609.01,1233.52 L611.02,1233.24 L613.02,1232.95 L615.02,1232.67 L617.02,1232.39 L619.02,1232.1 L621.03,1231.82 L623.03,1231.53 L625.03,1231.24 L627.03,1230.96 L629.04,1230.67 L631.04,1230.38 L633.04,1230.09 L635.04,1229.8 L637.04,1229.51 L639.05,1229.22 L641.05,1228.93 L643.05,1228.64 L645.05,1228.35 L647.05,1228.05 L649.06,1227.76 L651.06,1227.46 L653.06,1227.17 L655.06,1226.87 L657.06,1226.57 L659.07,1226.27 L661.07,1225.97 L663.07,1225.67 L665.07,1225.37 L667.07,1225.06 L669.08,1224.76 L671.08,1224.45 L673.08,1224.14 L675.08,1223.83 L677.08,1223.52 L679.09,1223.2 L681.09,1222.89 L683.09,1222.57 L685.09,1222.26 L687.09,1221.94 L689.1,1221.62 L691.1,1221.29 L693.1,1220.97 L695.1,1220.64 L697.11,1220.31 L699.11,1219.98 L701.11,1219.65 L703.11,1219.32 L705.11,1218.98 L707.12,1218.64 L709.12,1218.3 L711.12,1217.95 L713.12,1217.6 L715.12,1217.25 L717.13,1216.9 L719.13,1216.54 L721.13,1216.18 L723.13,1215.81 L725.13,1215.45 L727.14,1215.08 L729.14,1214.7 L731.14,1214.32 L733.14,1213.94 L735.14,1213.55 L737.15,1213.16 L739.15,1212.77 L741.15,1212.37 L743.15,1211.97 L745.15,1211.56 L747.16,1211.14 L749.16,1210.73 L751.16,1210.3 L753.16,1209.88 L755.17,1209.44 L757.17,1209.01 L759.17,1208.56 L761.17,1208.12 L763.17,1207.66 L765.18,1207.2 L767.18,1206.74 L769.18,1206.27 L771.18,1205.79 L773.18,1205.31 L775.19,1204.82 L777.19,1204.32 L779.19,1203.82 L781.19,1203.31 L783.19,1202.8 L785.2,1202.28 L787.2,1201.75 L789.2,1201.22 L791.2,1200.67 L793.2,1200.12 L795.21,1199.57 L797.21,1199.01 L799.21,1198.44 L801.21,1197.86 L803.21,1197.28 L805.22,1196.69 L807.22,1196.1 L809.22,1195.5 L811.22,1194.89 L813.23,1194.28 L815.23,1193.67 L817.23,1193.04 L819.23,1192.42 L821.23,1191.79 L823.24,1191.15 L825.24,1190.51 L827.24,1189.87 L829.24,1189.22 L831.24,1188.57 L833.25,1187.91 L835.25,1187.25 L837.25,1186.59 L839.25,1185.92 L841.25,1185.25 L843.26,1184.58 L845.26,1183.9 L847.26,1183.23 L849.26,1182.55 L851.26,1181.87 L853.27,1181.18 L855.27,1180.49 L857.27,1179.81 L859.27,1179.12 L861.27,1178.43 L863.28,1177.73 L865.28,1177.04 L867.28,1176.35 L869.28,1175.65 L871.28,1174.96 L873.29,1174.26 L875.29,1173.57 L877.29,1172.87 L879.29,1172.18 L881.3,1171.48 L883.3,1170.78 L885.3,1170.09 L887.3,1169.4 L889.3,1168.7 L891.31,1168.01 L893.31,1167.32 L895.31,1166.63 L897.31,1165.95 L899.31,1165.26 L901.32,1164.58 L903.32,1163.9 L905.32,1163.21 L907.32,1162.53 L909.32,1161.86 L911.33,1161.18 L913.33,1160.51 L915.33,1159.83 L917.33,1159.16 L919.33,1158.49 L921.34,1157.82 L923.34,1157.16 L925.34,1156.49 L927.34,1155.83 L929.34,1155.17 L931.35,1154.51 L933.35,1153.85 L935.35,1153.2 L937.35,1152.54 L939.36,1151.89 L941.36,1151.24 L943.36,1150.6 L945.36,1149.95 L947.36,1149.31 L949.37,1148.66 L951.37,1148.02 L953.37,1147.39 L955.37,1146.75 L957.37,1146.12 L959.38,1145.49 L961.38,1144.86 L963.38,1144.23 L965.38,1143.61 L967.38,1142.98 L969.39,1142.36 L971.39,1141.74 L973.39,1141.13 L975.39,1140.51 L977.39,1139.9 L979.4,1139.29 L981.4,1138.69 L983.4,1138.08 L985.4,1137.48 L987.4,1136.88 L989.41,1136.28 L991.41,1135.69 L993.41,1135.1 L995.41,1134.51 L997.42,1133.92 L999.42,1133.34 L1001.42,1132.75 L1003.42,1132.17 L1005.42,1131.6 L1007.43,1131.02 L1009.43,1130.45 L1011.43,1129.88 L1013.43,1129.32 L1015.43,1128.75 L1017.44,1128.19 L1019.44,1127.63 L1021.44,1127.08 L1023.44,1126.53 L1025.44,1125.98 L1027.45,1125.43 L1029.45,1124.88 L1031.45,1124.34 L1033.45,1123.81 L1035.45,1123.27 L1037.46,1122.74 L1039.46,1122.21 L1041.46,1121.68 L1043.46,1121.16 L1045.46,1120.64 L1047.47,1120.12 L1049.47,1119.61 L1051.47,1119.09 L1053.47,1118.59 L1055.47,1118.08 L1057.48,1117.58 L1059.48,1117.08 L1061.48,1116.58 L1063.48,1116.09 L1065.49,1115.6 L1067.49,1115.12 L1069.49,1114.63 L1071.49,1114.15 L1073.49,1113.68 L1075.5,1113.21 L1077.5,1112.74 L1079.5,1112.27 L1081.5,1111.81 L1083.5,1111.35 L1085.51,1110.89 L1087.51,1110.44 L1089.51,1109.99 L1091.51,1109.55 L1093.51,1109.1 L1095.52,1108.67 L1097.52,1108.23 L1099.52,1107.8 L1101.52,1107.37 L1103.52,1106.95 L1105.53,1106.53 L1107.53,1106.11 L1109.53,1105.7 L1111.53,1105.29 L1113.53,1104.89 L1115.54,1104.48 L1117.54,1104.09 L1119.54,1103.69 L1121.54,1103.3 L1123.55,1102.92 L1125.55,1102.53 L1127.55,1102.15 L1129.55,1101.78 L1131.55,1101.41 L1133.56,1101.04 L1135.56,1100.68 L1137.56,1100.32 L1139.56,1099.97 L1141.56,1099.62 L1143.57,1099.27 L1145.57,1098.93 L1147.57,1098.59 L1149.57,1098.25 L1151.57,1097.92 L1153.58,1097.6 L1155.58,1097.27 L1157.58,1096.96 L1159.58,1096.64 L1161.58,1096.33 L1163.59,1096.03 L1165.59,1095.73 L1167.59,1095.43 L1169.59,1095.14 L1171.59,1094.85 L1173.6,1094.57 L1175.6,1094.29 L1177.6,1094.01 L1179.6,1093.74 L1181.61,1093.48 L1183.61,1093.22 L1185.61,1092.96 L1187.61,1092.71 L1189.61,1092.46 L1191.62,1092.22 L1193.62,1091.98 L1195.62,1091.74 L1197.62,1091.51 L1199.62,1091.29 L1201.63,1091.07 L1203.63,1090.85 L1205.63,1090.64 L1207.63,1090.44 L1209.63,1090.23 L1211.64,1090.04 L1213.64,1089.85 L1215.64,1089.66 L1217.64,1089.48 L1219.64,1089.3 L1221.65,1089.13 L1223.65,1088.96 L1225.65,1088.8 L1227.65,1088.64 L1229.65,1088.49 L1231.66,1088.34 L1233.66,1088.2 L1235.66,1088.06 L1237.66,1087.93 L1239.66,1087.8 L1241.67,1087.68 L1243.67,1087.56 L1245.67,1087.45 L1247.67,1087.34 L1249.68,1087.24 L1251.68,1087.14 L1253.68,1087.05 L1255.68,1086.96 L1257.68,1086.88 L1259.69,1086.81 L1261.69,1086.74 L1263.69,1086.67 L1265.69,1086.61 L1267.69,1086.56 L1269.7,1086.51 L1271.7,1086.46 L1273.7,1086.4 L1275.4,1086.4 L1275.4,720.2 L1276,720.2 L1278,720.05 L1280,719.93 L1282.01,719.8 L1284.01,719.68 L1286.01,719.56 L1288.01,719.43 L1290.02,719.31 L1292.02,719.19 L1294.02,719.07 L1296.02,718.95 L1298.03,718.84 L1300.03,718.72 L1302.03,718.6 L1304.03,718.49 L1306.04,718.37 L1308.04,718.26 L1310.04,718.15 L1312.04,718.03 L1314.05,717.92 L1316.05,717.81 L1318.05,717.7 L1320.05,717.59 L1322.05,717.49 L1324.06,717.38 L1326.06,717.27 L1328.06,717.17 L1330.06,717.06 L1332.07,716.96 L1334.07,716.86 L1336.07,716.75 L1338.07,716.65 L1340.08,716.55 L1342.08,716.45 L1344.08,716.35 L1346.08,716.25 L1348.09,716.16 L1350.09,716.06 L1352.09,715.96 L1354.09,715.87 L1356.09,715.77 L1358.1,715.68 L1360.1,715.59 L1362.1,715.49 L1364.1,715.4 L1366.11,715.31 L1368.11,715.22 L1370.11,715.13 L1372.11,715.04 L1374.12,714.96 L1376.12,714.87 L1378.12,714.78 L1380.12,714.7 L1382.13,714.61 L1384.13,714.53 L1386.13,714.45 L1388.13,714.36 L1390.14,714.28 L1392.14,714.2 L1394.14,714.12 L1396.14,714.04 L1398.14,713.96 L1400.15,713.88 L1402.15,713.81 L1404.15,713.73 L1406.15,713.65 L1408.16,713.58 L1410.16,713.5 L1412.16,713.43 L1414.16,713.36 L1416.17,713.28 L1418.17,713.21 L1420.17,713.14 L1422.17,713.07 L1424.18,713 L1426.18,712.93 L1428.18,712.86 L1430.18,712.8 L1432.18,712.73 L1434.19,712.66 L1436.19,712.6 L1438.19,712.53 L1440.19,712.47 L1442.2,712.4 L1444.2,712.34 L1446.2,712.28 L1448.2,712.22 L1450.21,712.16 L1452.21,712.1 L1454.21,712.04 L1456.21,711.98 L1458.22,711.92 L1460.22,711.86 L1462.22,711.8 L1464.22,711.75 L1466.23,711.69 L1468.23,711.64 L1470.23,711.58 L1472.23,711.53 L1474.23,711.48 L1476.24,711.42 L1478.24,711.37 L1480.24,711.32 L1482.24,711.27 L1484.25,711.22 L1486.25,711.17 L1488.25,711.12 L1490.25,711.07 L1492.26,711.02 L1494.26,710.98 L1496.26,710.93 L1498.26,710.89 L1500.27,710.84 L1502.27,710.8 L1504.27,710.75 L1506.27,710.71 L1508.27,710.66 L1510.28,710.62 L1512.28,710.58 L1514.28,710.54 L1516.28,710.5 L1518.29,710.46 L1520.29,710.42 L1522.29,710.38 L1524.29,710.34 L1526.3,710.3 L1528.3,710.27 L1530.3,710.23 L1532.3,710.2 L1534.31,710.16 L1536.31,710.13 L1538.31,710.09 L1540.31,710.06 L1542.32,710.02 L1544.32,709.99 L1546.32,709.96 L1548.32,709.93 L1550.32,709.9 L1552.33,709.87 L1554.33,709.84 L1556.33,709.81 L1558.33,709.78 L1560.34,709.75 L1562.34,709.72 L1564.34,709.69 L1566.34,709.67 L1568.35,709.64 L1570.35,709.61 L1572.35,709.59 L1574.35,709.56 L1576.36,709.54 L1578.36,709.52 L1580.36,709.49 L1582.36,709.47 L1584.36,709.45 L1586.37,709.43 L1588.37,709.41 L1590.37,709.38 L1592.37,709.36 L1594.38,709.34 L1596.38,709.33 L1598.38,709.31 L1600.38,709.29 L1602.39,709.27 L1604.39,709.25 L1606.39,709.24 L1608.39,709.22 L1610.4,709.2 L1612.4,709.19 L1614.4,709.17 L1616.4,709.16 L1618.41,709.14 L1620.41,709.13 L1622.41,709.12 L1624.41,709.1 L1626.41,709.09 L1628.42,709.08 L1630.42,709.07 L1632.42,709.06 L1634.42,709.05 L1636.43,709.04 L1638.43,709.03 L1640.43,709.02 L1642.43,709.01 L1644.44,709 L1646.44,708.99 L1648.44,708.98 L1650.44,708.98 L1652.45,708.97 L1654.45,708.96 L1656.45,708.96 L1658.45,708.95 L1660.45,708.95 L1662.46,708.94 L1664.46,708.94 L1666.46,708.94 L1668.46,708.93 L1670.47,708.93 L1672.47,708.93 L1674.47,708.92 L1676.47,708.92 L1678.48,708.92 L1680.48,708.92 L1682.48,708.92 L1684.48,708.92 L1686.49,708.92 L1688.49,708.92 L1690.49,708.92 L1692.49,708.92 L1694.5,708.92 L1696.5,708.92 L1698.5,708.93 L1700.5,708.93 L1702.5,708.93 L1704.51,708.93 L1706.51,708.94 L1708.51,708.94 L1710.51,708.95 L1712.52,708.95 L1714.52,708.96 L1716.52,708.96 L1718.52,708.97 L1720.53,708.97 L1722.53,708.98 L1724.53,708.99 L1726.53,708.99 L1728.54,709 L1730.54,709.01 L1732.54,709.02 L1734.54,709.03 L1736.55,709.04 L1738.55,709.05 L1740.55,709.06 L1742.55,709.07 L1744.55,709.08 L1746.56,709.09 L1748.56,709.1 L1750.56,709.11 L1752.56,709.12 L1754.57,709.14 L1756.57,709.15 L1758.57,709.16 L1760.57,709.18 L1762.58,709.19 L1764.58,709.21 L1766.58,709.22 L1768.58,709.24 L1770.59,709.25 L1772.59,709.27 L1774.59,709.28 L1776.59,709.3 L1778.59,709.32 L1780.6,709.34 L1782.6,709.36 L1784.6,709.37 L1786.6,709.39 L1788.61,709.41 L1790.61,709.43 L1792.61,709.45 L1794.61,709.47 L1796.62,709.5 L1798.62,709.52 L1800.62,709.54 L1802.62,709.56 L1804.63,709.59 L1806.63,709.61 L1808.63,709.63 L1810.63,709.66 L1812.64,709.68 L1814.64,709.71 L1816.64,709.73 L1818.64,709.76 L1820.64,709.79 L1822.65,709.81 L1824.65,709.84 L1826.65,709.87 L1828.65,709.9 L1830.66,709.92 L1832.66,709.95 L1834.66,709.98 L1836.66,710.01 L1838.67,710.04 L1840.67,710.07 L1842.67,710.11 L1844.67,710.14 L1846.68,710.17 L1848.68,710.2 L1850.68,710.24 L1852.68,710.27 L1854.68,710.3 L1856.69,710.34 L1858.69,710.37 L1860.69,710.41 L1862.69,710.45 L1864.7,710.48 L1866.7,710.52 L1868.7,710.56 L1870.7,710.59 L1872.71,710.63 L1874.71,710.67 L1876.71,710.71 L1878.71,710.75 L1880.72,710.79 L1882.72,710.83 L1884.72,710.87 L1886.72,710.92 L1888.73,710.96 L1890.73,711 L1892.73,711.04 L1894.73,711.09 L1896.73,711.13 L1898.74,711.18 L1900.74,711.22 L1902.74,711.27 L1904.74,711.31 L1906.75,711.36 L1908.75,711.41 L1910.75,711.46 L1912.75,711.51 L1914.76,711.55 L1916.76,711.6 L1918.76,711.65 L1920.76,711.7 L1922.77,711.75 L1924.77,711.81 L1926.77,711.86 L1928.77,711.91 L1930.77,711.96 L1932.78,712.02 L1934.78,712.07 L1936.78,712.12 L1938.78,712.18 L1940.79,712.24 L1942.79,712.29 L1944.79,712.35 L1946.79,712.41 L1948.8,712.46 L1950.8,712.52 L1952.8,712.58 L1954.8,712.64 L1956.81,712.7 L1958.81,712.76 L1960.81,712.82 L1962.81,712.88 L1964.82,712.94 L1966.82,713.01 L1968.82,713.07 L1970.82,713.13 L1972.82,713.2 L1974.83,713.26 L1976.83,713.33 L1978.83,713.39 L1980.83,713.46 L1982.84,713.53 L1984.84,713.59 L1986.84,713.66 L1988.84,713.73 L1990.85,713.8 L1992.85,713.87 L1994.85,713.94 L1996.85,714.01 L1998.86,714.08 L2000.86,714.15 L2002.86,714.23 L2004.86,714.3 L2006.86,714.37 L2008.87,714.45 L2010.87,714.52 L2012.87,714.6 L2014.87,714.67 L2016.88,714.75 L2018.88,714.83 L2020.88,714.91 L2022.88,714.98 L2024.89,715.06 L2026.89,715.14 L2028.89,715.22 L2030.89,715.3 L2032.9,715.38 L2034.9,715.47 L2036.9,715.55 L2038.9,715.63 L2040.91,715.72 L2042.91,715.8 L2044.91,715.88 L2046.91,715.97 L2048.91,716.06 L2050.92,716.14 L2052.92,716.23 L2054.92,716.32 L2056.92,716.41 L2058.93,716.5 L2060.93,716.58 L2062.93,716.68 L2064.93,716.77 L2066.94,716.86 L2068.94,716.95 L2070.94,717.04 L2072.94,717.14 L2074.95,717.23 L2076.95,717.32 L2078.95,717.42 L2080.95,717.52 L2082.95,717.61 L2084.96,717.71 L2086.96,717.81 L2088.96,717.91 L2090.96,718 L2092.97,718.1 L2094.97,718.2 L2096.97,718.31 L2098.97,718.41 L2100.98,718.51 L2102.98,718.61 L2104.98,718.72 L2106.98,718.82 L2108.99,718.92 L2110.99,719.03 L2112.99,719.14 L2114.99,719.24 L2117,719.35 L2119,719.46 L2121,719.6" fill="none" stroke="#7a0000" stroke-width="3.9" stroke-linejoin="round" stroke-linecap="butt" />
<path d="M197.5,890.1 L198.5,890.11 L199.5,890.12 L200.5,890.14 L201.5,890.15 L202.5,890.16 L203.5,890.17 L204.5,890.18 L205.5,890.19 L206.5,890.2 L207.5,890.21 L208.5,890.22 L209.5,890.23 L210.5,890.25 L211.5,890.26 L212.5,890.27 L213.5,890.28 L214.5,890.29 L215.5,890.3 L216.5,890.31 L217.51,890.32 L218.51,890.33 L219.51,890.34 L220.51,890.35 L221.51,890.35 L222.51,890.36 L223.51,890.37 L224.51,890.38 L225.51,890.39 L226.51,890.4 L227.51,890.41 L228.51,890.42 L229.51,890.43 L230.51,890.44 L231.51,890.44 L232.51,890.45 L233.51,890.46 L234.51,890.47 L235.51,890.48 L236.51,890.49 L237.51,890.49 L238.51,890.5 L239.51,890.51 L240.51,890.52 L241.51,890.52 L242.51,890.53 L243.51,890.54 L244.51,890.55 L245.51,890.55 L246.51,890.56 L247.51,890.57 L248.51,890.58 L249.51,890.58 L250.51,890.59 L251.51,890.6 L252.51,890.6 L253.51,890.61 L254.51,890.62 L255.52,890.62 L256.52,890.63 L257.52,890.63 L258.52,890.64 L259.52,890.65 L260.52,890.65 L261.52,890.66 L262.52,890.66 L263.52,890.67 L264.52,890.68 L265.52,890.68 L266.52,890.69 L267.52,890.69 L268.52,890.7 L269.52,890.7 L270.52,890.71 L271.52,890.71 L272.52,890.72 L273.52,890.72 L274.52,890.73 L275.52,890.73 L276.52,890.74 L277.52,890.74 L278.52,890.75 L279.52,890.75 L280.52,890.76 L281.52,890.76 L282.52,890.77 L283.52,890.77 L284.52,890.77 L285.52,890.78 L286.52,890.78 L287.52,890.79 L288.52,890.79 L289.52,890.79 L290.52,890.8 L291.52,890.8 L292.52,890.81 L293.52,890.81 L294.53,890.81 L295.53,890.82 L296.53,890.82 L297.53,890.82 L298.53,890.83 L299.53,890.83 L300.53,890.83 L301.53,890.84 L302.53,890.84 L303.53,890.84 L304.53,890.84 L305.53,890.85 L306.53,890.85 L307.53,890.85 L308.53,890.86 L309.53,890.86 L310.53,890.86 L311.53,890.86 L312.53,890.87 L313.53,890.87 L314.53,890.87 L315.53,890.87 L316.53,890.88 L317.53,890.88 L318.53,890.88 L319.53,890.88 L320.53,890.88 L321.53,890.89 L322.53,890.89 L323.53,890.89 L324.53,890.89 L325.53,890.89 L326.53,890.89 L327.53,890.9 L328.53,890.9 L329.53,890.9 L330.53,890.9 L331.53,890.9 L332.54,890.9 L333.54,890.9 L334.54,890.91 L335.54,890.91 L336.54,890.91 L337.54,890.91 L338.54,890.91 L339.54,890.91 L340.54,890.91 L341.54,890.91 L342.54,890.92 L343.54,890.92 L344.54,890.92 L345.54,890.92 L346.54,890.92 L347.54,890.92 L348.54,890.92 L349.54,890.92 L350.54,890.92 L351.54,890.92 L352.54,890.92 L353.54,890.92 L354.54,890.92 L355.54,890.92 L356.54,890.92 L357.54,890.92 L358.54,890.92 L359.54,890.92 L360.54,890.92 L361.54,890.93 L362.54,890.93 L363.54,890.93 L364.54,890.93 L365.54,890.93 L366.54,890.93 L367.54,890.93 L368.54,890.93 L369.54,890.93 L370.54,890.93 L371.55,890.93 L372.55,890.93 L373.55,890.92 L374.55,890.92 L375.55,890.92 L376.55,890.92 L377.55,890.92 L378.55,890.92 L379.55,890.92 L380.55,890.92 L381.55,890.92 L382.55,890.92 L383.55,890.92 L384.55,890.92 L385.55,890.92 L386.55,890.92 L387.55,890.92 L388.55,890.92 L389.55,890.92 L390.55,890.92 L391.55,890.92 L392.55,890.92 L393.55,890.92 L394.55,890.91 L395.55,890.91 L396.55,890.91 L397.55,890.91 L398.55,890.91 L399.55,890.91 L400.55,890.91 L401.55,890.91 L402.55,890.91 L403.55,890.91 L404.55,890.91 L405.55,890.9 L406.55,890.9 L407.55,890.9 L408.55,890.9 L409.56,890.9 L410.56,890.9 L411.56,890.9 L412.56,890.9 L413.56,890.9 L414.56,890.9 L415.56,890.89 L416.56,890.89 L417.56,890.89 L418.56,890.89 L419.56,890.89 L420.56,890.89 L421.56,890.89 L422.56,890.89 L423.56,890.89 L424.56,890.88 L425.56,890.88 L426.56,890.88 L427.56,890.88 L428.56,890.88 L429.56,890.88 L430.56,890.88 L431.56,890.88 L432.56,890.87 L433.56,890.87 L434.56,890.87 L435.56,890.87 L436.56,890.87 L437.56,890.87 L438.56,890.87 L439.56,890.87 L440.56,890.86 L441.56,890.86 L442.56,890.86 L443.56,890.86 L444.56,890.86 L445.56,890.86 L446.56,890.86 L447.57,890.86 L448.57,890.85 L449.57,890.85 L450.57,890.85 L451.57,890.85 L452.57,890.85 L453.57,890.85 L454.57,890.85 L455.57,890.85 L456.57,890.85 L457.57,890.84 L458.57,890.84 L459.57,890.84 L460.57,890.84 L461.57,890.84 L462.57,890.84 L463.57,890.84 L464.57,890.84 L465.57,890.83 L466.57,890.83 L467.57,890.83 L468.57,890.83 L469.57,890.83 L470.57,890.83 L471.57,890.83 L472.57,890.83 L473.57,890.83 L474.57,890.83 L475.57,890.82 L476.57,890.82 L477.57,890.82 L478.57,890.82 L479.57,890.82 L480.57,890.82 L481.57,890.82 L482.57,890.82 L483.57,890.82 L484.57,890.82 L485.57,890.81 L486.58,890.81 L487.58,890.81 L488.58,890.81 L489.58,890.81 L490.58,890.81 L491.58,890.81 L492.58,890.81 L493.58,890.81 L494.58,890.81 L495.58,890.81 L496.58,890.81 L497.58,890.81 L498.58,890.81 L499.58,890.81 L500.58,890.8 L501.58,890.8 L502.58,890.8 L503.58,890.8 L504.58,890.8 L505.58,890.8 L506.58,890.8 L507.58,890.8 L508.58,890.8 L509.58,890.8 L510.58,890.8 L511.58,890.8 L512.58,890.8 L513.58,890.8 L514.58,890.8 L515.58,890.8 L516.58,890.8 L517.58,890.8 L518.58,890.8 L519.58,890.8 L520.58,890.8 L521.58,890.8 L522.58,890.8 L523.58,890.8 L524.59,890.8 L525.59,890.8 L526.59,890.8 L527.59,890.8 L528.59,890.8 L529.59,890.8 L530.59,890.8 L531.59,890.8 L532.59,890.8 L533.59,890.81 L534.59,890.81 L535.59,890.81 L536.59,890.81 L537.59,890.81 L538.59,890.81 L539.59,890.81 L540.59,890.81 L541.59,890.81 L542.59,890.81 L543.59,890.81 L544.59,890.81 L545.59,890.82 L546.59,890.82 L547.59,890.82 L548.59,890.82 L549.59,890.82 L550.59,890.82 L551.59,890.82 L552.59,890.82 L553.59,890.83 L554.59,890.83 L555.59,890.83 L556.59,890.83 L557.59,890.83 L558.59,890.83 L559.59,890.84 L560.59,890.84 L561.59,890.84 L562.59,890.84 L563.6,890.84 L564.6,890.85 L565.6,890.85 L566.6,890.85 L567.6,890.85 L568.6,890.85 L569.6,890.86 L570.6,890.86 L571.6,890.86 L572.6,890.86 L573.6,890.87 L574.6,890.87 L575.6,890.87 L576.6,890.87 L577.6,890.88 L578.6,890.88 L579.6,890.88 L580.6,890.89 L581.6,890.89 L582.6,890.89 L583.6,890.9 L584.6,890.9 L585.6,890.9 L586.6,890.9 L587.6,890.91 L588.6,890.91 L589.6,890.92 L590.6,890.92 L591.6,890.92 L592.6,890.93 L593.6,890.93 L594.6,890.93 L595.6,890.94 L596.6,890.94 L597.6,890.95 L598.6,890.95 L599.6,890.95 L600.6,890.96 L601.61,890.96 L602.61,890.97 L603.61,890.97 L604.61,890.98 L605.61,890.98 L606.61,890.99 L607.61,890.99 L608.61,890.99 L609.61,891 L610.61,891 L611.61,891.01 L612.61,891.01 L613.61,891.02 L614.61,891.03 L615.61,891.03 L616.61,891.04 L617.61,891.04 L618.61,891.05 L619.61,891.05 L620.61,891.06 L621.61,891.06 L622.61,891.07 L623.61,891.08 L624.61,891.08 L625.61,891.09 L626.61,891.09 L627.61,891.1 L628.61,891.11 L629.61,891.11 L630.61,891.12 L631.61,891.13 L632.61,891.13 L633.61,891.14 L634.61,891.15 L635.61,891.15 L636.61,891.16 L637.61,891.17 L638.61,891.18 L639.61,891.18 L640.62,891.19 L641.62,891.2 L642.62,891.21 L643.62,891.21 L644.62,891.22 L645.62,891.23 L646.62,891.24 L647.62,891.24 L648.62,891.25 L649.62,891.26 L650.62,891.27 L651.62,891.28 L652.62,891.29 L653.62,891.29 L654.62,891.3 L655.62,891.31 L656.62,891.32 L657.62,891.33 L658.62,891.34 L659.62,891.35 L660.62,891.36 L661.62,891.37 L662.62,891.38 L663.62,891.38 L664.62,891.39 L665.62,891.4 L666.62,891.41 L667.62,891.42 L668.62,891.43 L669.62,891.44 L670.62,891.45 L671.62,891.46 L672.62,891.47 L673.62,891.49 L674.62,891.5 L675.62,891.51 L676.62,891.52 L677.62,891.53 L678.63,891.54 L679.63,891.55 L680.63,891.56 L681.63,891.57 L682.63,891.58 L683.63,891.6 L684.63,891.61 L685.63,891.62 L686.63,891.63 L687.63,891.64 L688.63,891.66 L689.63,891.67 L690.63,891.68 L691.63,891.69 L692.63,891.7 L693.63,891.72 L694.63,891.73 L695.63,891.74 L696.63,891.76 L697.63,891.77 L698.63,891.78 L699.63,891.8 L700.63,891.81 L701.63,891.82 L702.63,891.84 L703.63,891.85 L704.63,891.86 L705.63,891.88 L706.63,891.89 L707.63,891.91 L708.63,891.92 L709.63,891.93 L710.63,891.95 L711.63,891.96 L712.63,891.98 L713.63,891.99 L714.63,892.01 L715.63,892.02 L716.63,892.04 L717.64,892.05 L718.64,892.07 L719.64,892.09 L720.64,892.1 L721.64,892.12 L722.64,892.13 L723.64,892.15 L724.64,892.17 L725.64,892.18 L726.64,892.2 L727.64,892.21 L728.64,892.23 L729.64,892.25 L730.64,892.27 L731.64,892.28 L732.64,892.3 L733.64,892.32 L734.64,892.33 L735.64,892.35 L736.64,892.37 L737.64,892.39 L738.64,892.41 L739.64,892.42 L740.64,892.44 L741.64,892.46 L742.64,892.48 L743.64,892.5 L744.64,892.52 L745.64,892.54 L746.64,892.55 L747.64,892.57 L748.64,892.59 L749.64,892.61 L750.64,892.63 L751.64,892.65 L752.64,892.67 L753.64,892.69 L754.64,892.71 L755.65,892.73 L756.65,892.75 L757.65,892.77 L758.65,892.79 L759.65,892.81 L760.65,892.84 L761.65,892.86 L762.65,892.88 L763.65,892.9 L764.65,892.92 L765.65,892.94 L766.65,892.96 L767.65,892.99 L768.65,893.01 L769.65,893.03 L770.65,893.05 L771.65,893.08 L772.65,893.1 L773.65,893.12 L774.65,893.14 L775.65,893.17 L776.65,893.19 L777.65,893.21 L778.65,893.24 L779.65,893.26 L780.65,893.29 L781.65,893.31 L782.65,893.33 L783.65,893.36 L784.65,893.38 L785.65,893.41 L786.65,893.43 L787.65,893.46 L788.65,893.48 L789.65,893.51 L790.65,893.53 L791.65,893.56 L792.65,893.58 L793.65,893.61 L794.66,893.64 L795.66,893.66 L796.66,893.69 L797.66,893.71 L798.66,893.74 L799.66,893.77 L800.66,893.79 L801.66,893.82 L802.66,893.85 L803.66,893.88 L804.66,893.9 L805.66,893.93 L806.66,893.96 L807.66,893.99 L808.66,894.02 L809.66,894.04 L810.66,894.07 L811.66,894.1 L812.66,894.13 L813.66,894.16 L814.66,894.19 L815.66,894.22 L816.66,894.25 L817.66,894.28 L818.66,894.31 L819.66,894.34 L820.66,894.37 L821.66,894.4 L822.66,894.43 L823.66,894.46 L824.66,894.49 L825.66,894.52 L826.66,894.55 L827.66,894.58 L828.66,894.61 L829.66,894.65 L830.66,894.68 L831.66,894.71 L832.67,894.74 L833.67,894.77 L834.67,894.81 L835.67,894.84 L836.67,894.87 L837.67,894.91 L838.67,894.94 L839.67,894.97 L840.67,895.01 L841.67,895.04 L842.67,895.07 L843.67,895.11 L844.67,895.14 L845.67,895.18 L846.67,895.21 L847.67,895.25 L848.67,895.28 L849.67,895.32 L850.67,895.35 L851.67,895.39 L852.67,895.42 L853.67,895.46 L854.67,895.49 L855.67,895.53 L856.67,895.57 L857.67,895.6 L858.67,895.64 L859.67,895.68 L860.67,895.71 L861.67,895.75 L862.67,895.79 L863.67,895.83 L864.67,895.87 L865.67,895.9 L866.67,895.94 L867.67,895.98 L868.67,896.02 L869.67,896.06 L870.67,896.1 L871.68,896.14 L872.68,896.18 L873.68,896.21 L874.68,896.25 L875.68,896.29 L876.68,896.33 L877.68,896.37 L878.68,896.42 L879.68,896.46 L880.68,896.5 L881.68,896.54 L882.68,896.58 L883.68,896.62 L884.68,896.66 L885.68,896.7 L886.68,896.75 L887.68,896.79 L888.68,896.83 L889.68,896.87 L890.68,896.92 L891.68,896.96 L892.68,897 L893.68,897.05 L894.68,897.09 L895.68,897.13 L896.68,897.18 L897.68,897.22 L898.68,897.27 L899.68,897.31 L900.68,897.36 L901.68,897.4 L902.68,897.45 L903.68,897.49 L904.68,897.54 L905.68,897.58 L906.68,897.63 L907.68,897.68 L908.68,897.72 L909.69,897.77 L910.69,897.82 L911.69,897.86 L912.69,897.91 L913.69,897.96 L914.69,898.01 L915.69,898.05 L916.69,898.1 L917.69,898.15 L918.69,898.2 L919.69,898.25 L920.69,898.3 L921.69,898.35 L922.69,898.4 L923.69,898.44 L924.69,898.49 L925.69,898.54 L926.69,898.59 L927.69,898.65 L928.69,898.7 L929.69,898.75 L930.69,898.8 L931.69,898.85 L932.69,898.9 L933.69,898.95 L934.69,899 L935.69,899.06 L936.69,899.11 L937.69,899.16 L938.69,899.21 L939.69,899.27 L940.69,899.32 L941.69,899.37 L942.69,899.43 L943.69,899.48 L944.69,899.54 L945.69,899.59 L946.69,899.64 L947.7,899.7 L948.7,899.75 L949.7,899.81 L950.7,899.87 L951.7,899.92 L952.7,899.98 L953.7,900.03 L954.7,900.09 L955.7,900.15 L956.7,900.2 L957.7,900.26 L958.7,900.32 L959.7,900.37 L960.7,900.43 L961.7,900.49 L962.7,900.55 L963.7,900.61 L964.7,900.67 L965.7,900.72 L966.7,900.78 L967.7,900.84 L968.7,900.9 L969.7,900.96 L970.7,901.02 L971.7,901.08 L972.7,901.14 L973.7,901.2 L974.7,901.26 L975.7,901.33 L976.7,901.39 L977.7,901.45 L978.7,901.51 L979.7,901.57 L980.7,901.64 L981.7,901.7 L982.7,901.76 L983.7,901.82 L984.7,901.89 L985.7,901.95 L986.71,902.01 L987.71,902.08 L988.71,902.14 L989.71,902.21 L990.71,902.27 L991.71,902.34 L992.71,902.4 L993.71,902.47 L994.71,902.53 L995.71,902.6 L996.71,902.67 L997.71,902.73 L998.71,902.8 L999.71,902.87 L1000.71,902.93 L1001.71,903 L1002.71,903.07 L1003.71,903.14 L1004.71,903.2 L1005.71,903.27 L1006.71,903.34 L1007.71,903.41 L1008.71,903.48 L1009.71,903.55 L1010.71,903.62 L1011.71,903.69 L1012.71,903.76 L1013.71,903.83 L1014.71,903.9 L1015.71,903.97 L1016.71,904.05 L1017.71,904.12 L1018.71,904.19 L1019.71,904.26 L1020.71,904.34 L1021.71,904.41 L1022.71,904.48 L1023.71,904.56 L1024.72,904.63 L1025.72,904.71 L1026.72,904.78 L1027.72,904.86 L1028.72,904.94 L1029.72,905.01 L1030.72,905.09 L1031.72,905.17 L1032.72,905.25 L1033.72,905.32 L1034.72,905.4 L1035.72,905.48 L1036.72,905.56 L1037.72,905.64 L1038.72,905.72 L1039.72,905.8 L1040.72,905.89 L1041.72,905.97 L1042.72,906.05 L1043.72,906.13 L1044.72,906.22 L1045.72,906.3 L1046.72,906.39 L1047.72,906.47 L1048.72,906.56 L1049.72,906.64 L1050.72,906.73 L1051.72,906.82 L1052.72,906.9 L1053.72,906.99 L1054.72,907.08 L1055.72,907.17 L1056.72,907.26 L1057.72,907.35 L1058.72,907.44 L1059.72,907.54 L1060.72,907.63 L1061.72,907.72 L1062.72,907.81 L1063.73,907.91 L1064.73,908 L1065.73,908.1 L1066.73,908.19 L1067.73,908.29 L1068.73,908.39 L1069.73,908.49 L1070.73,908.59 L1071.73,908.68 L1072.73,908.78 L1073.73,908.88 L1074.73,908.99 L1075.73,909.09 L1076.73,909.19 L1077.73,909.29 L1078.73,909.4 L1079.73,909.5 L1080.73,909.61 L1081.73,909.71 L1082.73,909.82 L1083.73,909.93 L1084.73,910.04 L1085.73,910.15 L1086.73,910.26 L1087.73,910.37 L1088.73,910.48 L1089.73,910.59 L1090.73,910.7 L1091.73,910.82 L1092.73,910.93 L1093.73,911.05 L1094.73,911.16 L1095.73,911.28 L1096.73,911.4 L1097.73,911.51 L1098.73,911.63 L1099.73,911.75 L1100.73,911.87 L1101.74,912 L1102.74,912.12 L1103.74,912.24 L1104.74,912.37 L1105.74,912.49 L1106.74,912.62 L1107.74,912.74 L1108.74,912.87 L1109.74,913 L1110.74,913.13 L1111.74,913.26 L1112.74,913.39 L1113.74,913.52 L1114.74,913.65 L1115.74,913.79 L1116.74,913.92 L1117.74,914.06 L1118.74,914.19 L1119.74,914.33 L1120.74,914.47 L1121.74,914.61 L1122.74,914.75 L1123.74,914.89 L1124.74,915.03 L1125.74,915.18 L1126.74,915.32 L1127.74,915.47 L1128.74,915.61 L1129.74,915.76 L1130.74,915.91 L1131.74,916.06 L1132.74,916.21 L1133.74,916.36 L1134.74,916.51 L1135.74,916.66 L1136.74,916.82 L1137.74,916.97 L1138.74,917.13 L1139.74,917.29 L1140.75,917.45 L1141.75,917.6 L1142.75,917.77 L1143.75,917.93 L1144.75,918.09 L1145.75,918.25 L1146.75,918.42 L1147.75,918.58 L1148.75,918.75 L1149.75,918.92 L1150.75,919.09 L1151.75,919.26 L1152.75,919.43 L1153.75,919.6 L1154.75,919.78 L1155.75,919.95 L1156.75,920.13 L1157.75,920.31 L1158.75,920.48 L1159.75,920.66 L1160.75,920.84 L1161.75,921.03 L1162.75,921.21 L1163.75,921.39 L1164.75,921.58 L1165.75,921.77 L1166.75,921.95 L1167.75,922.14 L1168.75,922.33 L1169.75,922.52 L1170.75,922.72 L1171.75,922.91 L1172.75,923.11 L1173.75,923.3 L1174.75,923.5 L1175.75,923.7 L1176.75,923.9 L1177.75,924.1 L1178.76,924.3 L1179.76,924.51 L1180.76,924.71 L1181.76,924.92 L1182.76,925.13 L1183.76,925.34 L1184.76,925.55 L1185.76,925.76 L1186.76,925.97 L1187.76,926.19 L1188.76,926.4 L1189.76,926.62 L1190.76,926.84 L1191.76,927.06 L1192.76,927.28 L1193.76,927.5 L1194.76,927.73 L1195.76,927.95 L1196.76,928.18 L1197.76,928.41 L1198.76,928.64 L1199.76,928.87 L1200.76,929.1 L1201.76,929.33 L1202.76,929.57 L1203.76,929.8 L1204.76,930.04 L1205.76,930.28 L1206.76,930.52 L1207.76,930.76 L1208.76,931.01 L1209.76,931.25 L1210.76,931.5 L1211.76,931.75 L1212.76,932 L1213.76,932.25 L1214.76,932.5 L1215.76,932.76 L1216.76,933.01 L1217.77,933.27 L1218.77,933.53 L1219.77,933.79 L1220.77,934.05 L1221.77,934.31 L1222.77,934.58 L1223.77,934.84 L1224.77,935.11 L1225.77,935.38 L1226.77,935.65 L1227.77,935.92 L1228.77,936.2 L1229.77,936.47 L1230.77,936.75 L1231.77,937.03 L1232.77,937.31 L1233.77,937.59 L1234.77,937.87 L1235.77,938.16 L1236.77,938.45 L1237.77,938.73 L1238.77,939.02 L1239.77,939.32 L1240.77,939.61 L1241.77,939.91 L1242.77,940.2 L1243.77,940.5 L1244.77,940.8 L1245.77,941.11 L1246.77,941.41 L1247.77,941.72 L1248.77,942.03 L1249.77,942.34 L1250.77,942.65 L1251.77,942.96 L1252.77,943.28 L1253.77,943.6 L1254.77,943.91 L1255.78,944.24 L1256.78,944.56 L1257.78,944.88 L1258.78,945.21 L1259.78,945.54 L1260.78,945.87 L1261.78,946.21 L1262.78,946.54 L1263.78,946.88 L1264.78,947.22 L1265.78,947.56 L1266.78,947.9 L1267.78,948.25 L1268.78,948.6 L1269.78,948.95 L1270.78,949.3 L1271.78,949.65 L1272.78,950.01 L1273.78,950.37 L1274.78,950.73 L1275.78,951.09 L1276.78,951.45 L1277.78,951.82 L1278.78,952.19 L1279.78,952.56 L1280.78,952.93 L1281.78,953.31 L1282.78,953.69 L1283.78,954.07 L1284.78,954.45 L1285.78,954.84 L1286.78,955.22 L1287.78,955.61 L1288.78,956 L1289.78,956.4 L1290.78,956.79 L1291.78,957.19 L1292.78,957.6 L1293.78,958 L1294.79,958.4 L1295.79,958.81 L1296.79,959.22 L1297.79,959.64 L1298.79,960.05 L1299.79,960.47 L1300.79,960.89 L1301.79,961.32 L1302.79,961.74 L1303.79,962.17 L1304.79,962.6 L1305.79,963.04 L1306.79,963.47 L1307.79,963.91 L1308.79,964.35 L1309.79,964.79 L1310.79,965.24 L1311.79,965.69 L1312.79,966.14 L1313.79,966.6 L1314.79,967.05 L1315.79,967.51 L1316.79,967.98 L1317.79,968.44 L1318.79,968.91 L1319.79,969.38 L1320.79,969.85 L1321.79,970.33 L1322.79,970.81 L1323.79,971.29 L1324.79,971.77 L1325.79,972.26 L1326.79,972.74 L1327.79,973.24 L1328.79,973.73 L1329.79,974.23 L1330.79,974.72 L1331.79,975.23 L1332.8,975.73 L1333.8,976.24 L1334.8,976.74 L1335.8,977.25 L1336.8,977.77 L1337.8,978.28 L1338.8,978.8 L1339.8,979.32 L1340.8,979.84 L1341.8,980.37 L1342.8,980.89 L1343.8,981.42 L1344.8,981.95 L1345.8,982.49 L1346.8,983.02 L1347.8,983.56 L1348.8,984.1 L1349.8,984.64 L1350.8,985.18 L1351.8,985.73 L1352.8,986.28 L1353.8,986.83 L1354.8,987.38 L1355.8,987.93 L1356.8,988.49 L1357.8,989.04 L1358.8,989.6 L1359.8,990.16 L1360.8,990.73 L1361.8,991.29 L1362.8,991.86 L1363.8,992.42 L1364.8,992.99 L1365.8,993.57 L1366.8,994.14 L1367.8,994.71 L1368.8,995.29 L1369.8,995.87 L1370.8,996.45 L1371.81,997.03 L1372.81,997.61 L1373.81,998.2 L1374.81,998.78 L1375.81,999.37 L1376.81,999.96 L1377.81,1000.55 L1378.81,1001.14 L1379.81,1001.73 L1380.81,1002.33 L1381.81,1002.92 L1382.81,1003.52 L1383.81,1004.12 L1384.81,1004.72 L1385.81,1005.32 L1386.81,1005.92 L1387.81,1006.52 L1388.81,1007.13 L1389.81,1007.73 L1390.81,1008.34 L1391.81,1008.95 L1392.81,1009.56 L1393.81,1010.16 L1394.81,1010.77 L1395.81,1011.38 L1396.81,1011.99 L1397.81,1012.61 L1398.81,1013.22 L1399.81,1013.83 L1400.81,1014.44 L1401.81,1015.06 L1402.81,1015.67 L1403.81,1016.29 L1404.81,1016.9 L1405.81,1017.52 L1406.81,1018.13 L1407.81,1018.75 L1408.81,1019.36 L1409.82,1019.98 L1410.82,1020.6 L1411.82,1021.21 L1412.82,1021.83 L1413.82,1022.45 L1414.82,1023.06 L1415.82,1023.68 L1416.82,1024.29 L1417.82,1024.91 L1418.82,1025.52 L1419.82,1026.14 L1420.82,1026.75 L1421.82,1027.37 L1422.82,1027.98 L1423.82,1028.6 L1424.82,1029.21 L1425.82,1029.82 L1426.82,1030.43 L1427.82,1031.04 L1428.82,1031.65 L1429.82,1032.26 L1430.82,1032.87 L1431.82,1033.48 L1432.82,1034.09 L1433.82,1034.69 L1434.82,1035.3 L1435.82,1035.9 L1436.82,1036.51 L1437.82,1037.11 L1438.82,1037.71 L1439.82,1038.31 L1440.82,1038.91 L1441.82,1039.51 L1442.82,1040.1 L1443.82,1040.7 L1444.82,1041.29 L1445.82,1041.88 L1446.82,1042.47 L1447.83,1043.06 L1448.83,1043.65 L1449.83,1044.24 L1450.83,1044.82 L1451.83,1045.4 L1452.83,1045.99 L1453.83,1046.56 L1454.83,1047.14 L1455.83,1047.72 L1456.83,1048.29 L1457.83,1048.86 L1458.83,1049.43 L1459.83,1050 L1460.83,1050.56 L1461.83,1051.13 L1462.83,1051.69 L1463.83,1052.25 L1464.83,1052.8 L1465.83,1053.36 L1466.83,1053.91 L1467.83,1054.46 L1468.83,1055.01 L1469.83,1055.55 L1470.83,1056.1 L1471.83,1056.64 L1472.83,1057.17 L1473.83,1057.71 L1474.83,1058.24 L1475.83,1058.77 L1476.83,1059.29 L1477.83,1059.82 L1478.83,1060.34 L1479.83,1060.86 L1480.83,1061.37 L1481.83,1061.88 L1482.83,1062.39 L1483.83,1062.9 L1484.83,1063.4 L1485.83,1063.9 L1486.84,1064.4 L1487.84,1064.89 L1488.84,1065.38 L1489.84,1065.87 L1490.84,1066.35 L1491.84,1066.84 L1492.84,1067.31 L1493.84,1067.79 L1494.84,1068.26 L1495.84,1068.73 L1496.84,1069.2 L1497.84,1069.66 L1498.84,1070.13 L1499.84,1070.58 L1500.84,1071.04 L1501.84,1071.49 L1502.84,1071.94 L1503.84,1072.39 L1504.84,1072.83 L1505.84,1073.27 L1506.84,1073.71 L1507.84,1074.14 L1508.84,1074.57 L1509.84,1075 L1510.84,1075.43 L1511.84,1075.85 L1512.84,1076.27 L1513.84,1076.69 L1514.84,1077.1 L1515.84,1077.51 L1516.84,1077.92 L1517.84,1078.33 L1518.84,1078.73 L1519.84,1079.13 L1520.84,1079.53 L1521.84,1079.92 L1522.84,1080.31 L1523.84,1080.7 L1524.85,1081.08 L1525.85,1081.46 L1526.85,1081.84 L1527.85,1082.22 L1528.85,1082.59 L1529.85,1082.96 L1530.85,1083.33 L1531.85,1083.7 L1532.85,1084.06 L1533.85,1084.42 L1534.85,1084.77 L1535.85,1085.13 L1536.85,1085.48 L1537.85,1085.82 L1538.85,1086.17 L1539.85,1086.51 L1540.85,1086.85 L1541.85,1087.18 L1542.85,1087.52 L1543.85,1087.85 L1544.85,1088.17 L1545.85,1088.5 L1546.85,1088.82 L1547.85,1089.14 L1548.85,1089.45 L1549.85,1089.77 L1550.85,1090.08 L1551.85,1090.39 L1552.85,1090.69 L1553.85,1090.99 L1554.85,1091.29 L1555.85,1091.59 L1556.85,1091.88 L1557.85,1092.17 L1558.85,1092.46 L1559.85,1092.74 L1560.85,1093.02 L1561.85,1093.3 L1562.85,1093.58 L1563.86,1093.85 L1564.86,1094.12 L1565.86,1094.39 L1566.86,1094.66 L1567.86,1094.92 L1568.86,1095.18 L1569.86,1095.44 L1570.86,1095.69 L1571.86,1095.94 L1572.86,1096.19 L1573.86,1096.44 L1574.86,1096.68 L1575.86,1096.92 L1576.86,1097.15 L1577.86,1097.39 L1578.86,1097.62 L1579.86,1097.85 L1580.86,1098.08 L1581.86,1098.3 L1582.86,1098.52 L1583.86,1098.74 L1584.86,1098.95 L1585.86,1099.16 L1586.86,1099.37 L1587.86,1099.58 L1588.86,1099.78 L1589.86,1099.99 L1590.86,1100.18 L1591.86,1100.38 L1592.86,1100.57 L1593.86,1100.76 L1594.86,1100.95 L1595.86,1101.14 L1596.86,1101.32 L1597.86,1101.5 L1598.86,1101.67 L1599.86,1101.85 L1600.86,1102.02 L1601.87,1102.19 L1602.87,1102.35 L1603.87,1102.52 L1604.87,1102.68 L1605.87,1102.83 L1606.87,1102.99 L1607.87,1103.14 L1608.87,1103.29 L1609.87,1103.44 L1610.87,1103.58 L1611.87,1103.72 L1612.87,1103.86 L1613.87,1104 L1614.87,1104.13 L1615.87,1104.26 L1616.87,1104.39 L1617.87,1104.51 L1618.87,1104.64 L1619.87,1104.75 L1620.87,1104.87 L1621.87,1104.99 L1622.87,1105.1 L1623.87,1105.21 L1624.87,1105.31 L1625.87,1105.42 L1626.87,1105.52 L1627.87,1105.62 L1628.87,1105.71 L1629.87,1105.81 L1630.87,1105.9 L1631.87,1105.98 L1632.87,1106.07 L1633.87,1106.15 L1634.87,1106.23 L1635.87,1106.31 L1636.87,1106.38 L1637.87,1106.45 L1638.87,1106.52 L1639.87,1106.59 L1640.88,1106.65 L1641.88,1106.72 L1642.88,1106.77 L1643.88,1106.83 L1644.88,1106.88 L1645.88,1106.94 L1646.88,1106.98 L1647.88,1107.03 L1648.88,1107.07 L1649.88,1107.11 L1650.88,1107.15 L1651.88,1107.19 L1652.88,1107.22 L1653.88,1107.25 L1654.88,1107.28 L1655.88,1107.3 L1656.88,1107.32 L1657.88,1107.34 L1658.88,1107.36 L1659.88,1107.37 L1660.88,1107.38 L1661.88,1107.39 L1662.88,1107.4 L1663.88,1107.41 L1664.88,1107.41 L1665.88,1107.41 L1666.88,1107.4 L1667.88,1107.4 L1668.88,1107.39 L1669.88,1107.38 L1670.88,1107.37 L1671.88,1107.35 L1672.88,1107.34 L1673.88,1107.32 L1674.88,1107.3 L1675.88,1107.27 L1676.88,1107.25 L1677.88,1107.22 L1678.89,1107.19 L1679.89,1107.16 L1680.89,1107.12 L1681.89,1107.08 L1682.89,1107.05 L1683.89,1107.01 L1684.89,1106.96 L1685.89,1106.92 L1686.89,1106.87 L1687.89,1106.82 L1688.89,1106.77 L1689.89,1106.72 L1690.89,1106.67 L1691.89,1106.61 L1692.89,1106.55 L1693.89,1106.49 L1694.89,1106.43 L1695.89,1106.37 L1696.89,1106.3 L1697.89,1106.24 L1698.89,1106.17 L1699.89,1106.1 L1700.89,1106.03 L1701.89,1105.95 L1702.89,1105.88 L1703.89,1105.8 L1704.89,1105.72 L1705.89,1105.64 L1706.89,1105.56 L1707.89,1105.48 L1708.89,1105.39 L1709.89,1105.31 L1710.89,1105.22 L1711.89,1105.13 L1712.89,1105.04 L1713.89,1104.95 L1714.89,1104.86 L1715.89,1104.76 L1716.89,1104.67 L1717.9,1104.57 L1718.9,1104.48 L1719.9,1104.38 L1720.9,1104.28 L1721.9,1104.17 L1722.9,1104.07 L1723.9,1103.97 L1724.9,1103.86 L1725.9,1103.76 L1726.9,1103.65 L1727.9,1103.54 L1728.9,1103.43 L1729.9,1103.32 L1730.9,1103.21 L1731.9,1103.1 L1732.9,1102.99 L1733.9,1102.87 L1734.9,1102.76 L1735.9,1102.64 L1736.9,1102.53 L1737.9,1102.41 L1738.9,1102.29 L1739.9,1102.17 L1740.9,1102.05 L1741.9,1101.93 L1742.9,1101.81 L1743.9,1101.69 L1744.9,1101.57 L1745.9,1101.44 L1746.9,1101.32 L1747.9,1101.19 L1748.9,1101.07 L1749.9,1100.94 L1750.9,1100.82 L1751.9,1100.69 L1752.9,1100.56 L1753.9,1100.44 L1754.9,1100.31 L1755.91,1100.18 L1756.91,1100.05 L1757.91,1099.92 L1758.91,1099.79 L1759.91,1099.66 L1760.91,1099.53 L1761.91,1099.4 L1762.91,1099.27 L1763.91,1099.14 L1764.91,1099.01 L1765.91,1098.87 L1766.91,1098.74 L1767.91,1098.61 L1768.91,1098.48 L1769.91,1098.35 L1770.91,1098.21 L1771.91,1098.08 L1772.91,1097.95 L1773.91,1097.82 L1774.91,1097.69 L1775.91,1097.55 L1776.91,1097.42 L1777.91,1097.29 L1778.91,1097.16 L1779.91,1097.02 L1780.91,1096.89 L1781.91,1096.76 L1782.91,1096.63 L1783.91,1096.5 L1784.91,1096.37 L1785.91,1096.23 L1786.91,1096.1 L1787.91,1095.97 L1788.91,1095.84 L1789.91,1095.71 L1790.91,1095.58 L1791.91,1095.46 L1792.91,1095.33 L1793.91,1095.2 L1794.92,1095.07 L1795.92,1094.94 L1796.92,1094.82 L1797.92,1094.69 L1798.92,1094.56 L1799.92,1094.44 L1800.92,1094.31 L1801.92,1094.19 L1802.92,1094.07 L1803.92,1093.94 L1804.92,1093.82 L1805.92,1093.7 L1806.92,1093.58 L1807.92,1093.46 L1808.92,1093.34 L1809.92,1093.22 L1810.92,1093.1 L1811.92,1092.99 L1812.92,1092.87 L1813.92,1092.76 L1814.92,1092.64 L1815.92,1092.53 L1816.92,1092.41 L1817.92,1092.3 L1818.92,1092.19 L1819.92,1092.08 L1820.92,1091.97 L1821.92,1091.86 L1822.92,1091.75 L1823.92,1091.64 L1824.92,1091.54 L1825.92,1091.43 L1826.92,1091.33 L1827.92,1091.22 L1828.92,1091.12 L1829.92,1091.01 L1830.92,1090.91 L1831.92,1090.81 L1832.93,1090.71 L1833.93,1090.61 L1834.93,1090.51 L1835.93,1090.41 L1836.93,1090.31 L1837.93,1090.21 L1838.93,1090.12 L1839.93,1090.02 L1840.93,1089.92 L1841.93,1089.83 L1842.93,1089.73 L1843.93,1089.64 L1844.93,1089.55 L1845.93,1089.46 L1846.93,1089.36 L1847.93,1089.27 L1848.93,1089.18 L1849.93,1089.09 L1850.93,1089 L1851.93,1088.92 L1852.93,1088.83 L1853.93,1088.74 L1854.93,1088.66 L1855.93,1088.57 L1856.93,1088.49 L1857.93,1088.4 L1858.93,1088.32 L1859.93,1088.23 L1860.93,1088.15 L1861.93,1088.07 L1862.93,1087.99 L1863.93,1087.91 L1864.93,1087.83 L1865.93,1087.75 L1866.93,1087.67 L1867.93,1087.59 L1868.93,1087.51 L1869.93,1087.44 L1870.93,1087.36 L1871.94,1087.28 L1872.94,1087.21 L1873.94,1087.13 L1874.94,1087.06 L1875.94,1086.99 L1876.94,1086.91 L1877.94,1086.84 L1878.94,1086.77 L1879.94,1086.7 L1880.94,1086.63 L1881.94,1086.56 L1882.94,1086.49 L1883.94,1086.42 L1884.94,1086.35 L1885.94,1086.28 L1886.94,1086.21 L1887.94,1086.15 L1888.94,1086.08 L1889.94,1086.02 L1890.94,1085.95 L1891.94,1085.89 L1892.94,1085.82 L1893.94,1085.76 L1894.94,1085.69 L1895.94,1085.63 L1896.94,1085.57 L1897.94,1085.51 L1898.94,1085.45 L1899.94,1085.38 L1900.94,1085.32 L1901.94,1085.26 L1902.94,1085.21 L1903.94,1085.15 L1904.94,1085.09 L1905.94,1085.03 L1906.94,1084.97 L1907.94,1084.92 L1908.94,1084.86 L1909.95,1084.8 L1910.95,1084.75 L1911.95,1084.69 L1912.95,1084.64 L1913.95,1084.58 L1914.95,1084.53 L1915.95,1084.48 L1916.95,1084.42 L1917.95,1084.37 L1918.95,1084.32 L1919.95,1084.27 L1920.95,1084.21 L1921.95,1084.16 L1922.95,1084.11 L1923.95,1084.06 L1924.95,1084.01 L1925.95,1083.96 L1926.95,1083.91 L1927.95,1083.87 L1928.95,1083.82 L1929.95,1083.77 L1930.95,1083.72 L1931.95,1083.68 L1932.95,1083.63 L1933.95,1083.58 L1934.95,1083.54 L1935.95,1083.49 L1936.95,1083.45 L1937.95,1083.4 L1938.95,1083.36 L1939.95,1083.31 L1940.95,1083.27 L1941.95,1083.23 L1942.95,1083.18 L1943.95,1083.14 L1944.95,1083.1 L1945.95,1083.06 L1946.95,1083.02 L1947.96,1082.97 L1948.96,1082.93 L1949.96,1082.89 L1950.96,1082.85 L1951.96,1082.81 L1952.96,1082.77 L1953.96,1082.73 L1954.96,1082.69 L1955.96,1082.66 L1956.96,1082.62 L1957.96,1082.58 L1958.96,1082.54 L1959.96,1082.5 L1960.96,1082.47 L1961.96,1082.43 L1962.96,1082.39 L1963.96,1082.36 L1964.96,1082.32 L1965.96,1082.28 L1966.96,1082.25 L1967.96,1082.21 L1968.96,1082.18 L1969.96,1082.14 L1970.96,1082.11 L1971.96,1082.07 L1972.96,1082.04 L1973.96,1082 L1974.96,1081.97 L1975.96,1081.94 L1976.96,1081.9 L1977.96,1081.87 L1978.96,1081.84 L1979.96,1081.81 L1980.96,1081.77 L1981.96,1081.74 L1982.96,1081.71 L1983.96,1081.68 L1984.96,1081.65 L1985.96,1081.61 L1986.97,1081.58 L1987.97,1081.55 L1988.97,1081.52 L1989.97,1081.49 L1990.97,1081.46 L1991.97,1081.43 L1992.97,1081.4 L1993.97,1081.37 L1994.97,1081.34 L1995.97,1081.31 L1996.97,1081.28 L1997.97,1081.25 L1998.97,1081.22 L1999.97,1081.19 L2000.97,1081.17 L2001.97,1081.14 L2002.97,1081.11 L2003.97,1081.08 L2004.97,1081.05 L2005.97,1081.02 L2006.97,1081 L2007.97,1080.97 L2008.97,1080.94 L2009.97,1080.91 L2010.97,1080.89 L2011.97,1080.86 L2012.97,1080.83 L2013.97,1080.8 L2014.97,1080.78 L2015.97,1080.75 L2016.97,1080.72 L2017.97,1080.7 L2018.97,1080.67 L2019.97,1080.64 L2020.97,1080.62 L2021.97,1080.59 L2022.97,1080.56 L2023.97,1080.54 L2024.98,1080.51 L2025.98,1080.49 L2026.98,1080.46 L2027.98,1080.43 L2028.98,1080.41 L2029.98,1080.38 L2030.98,1080.36 L2031.98,1080.33 L2032.98,1080.3 L2033.98,1080.28 L2034.98,1080.25 L2035.98,1080.23 L2036.98,1080.2 L2037.98,1080.18 L2038.98,1080.15 L2039.98,1080.12 L2040.98,1080.1 L2041.98,1080.07 L2042.98,1080.05 L2043.98,1080.02 L2044.98,1080 L2045.98,1079.97 L2046.98,1079.95 L2047.98,1079.92 L2048.98,1079.89 L2049.98,1079.87 L2050.98,1079.84 L2051.98,1079.82 L2052.98,1079.79 L2053.98,1079.77 L2054.98,1079.74 L2055.98,1079.72 L2056.98,1079.69 L2057.98,1079.66 L2058.98,1079.64 L2059.98,1079.61 L2060.98,1079.59 L2061.98,1079.56 L2062.98,1079.53 L2063.99,1079.51 L2064.99,1079.48 L2065.99,1079.45 L2066.99,1079.43 L2067.99,1079.4 L2068.99,1079.38 L2069.99,1079.35 L2070.99,1079.32 L2071.99,1079.29 L2072.99,1079.27 L2073.99,1079.24 L2074.99,1079.21 L2075.99,1079.19 L2076.99,1079.16 L2077.99,1079.13 L2078.99,1079.1 L2079.99,1079.08 L2080.99,1079.05 L2081.99,1079.02 L2082.99,1078.99 L2083.99,1078.96 L2084.99,1078.94 L2085.99,1078.91 L2086.99,1078.88 L2087.99,1078.85 L2088.99,1078.82 L2089.99,1078.79 L2090.99,1078.76 L2091.99,1078.73 L2092.99,1078.7 L2093.99,1078.67 L2094.99,1078.64 L2095.99,1078.61 L2096.99,1078.58 L2097.99,1078.55 L2098.99,1078.52 L2099.99,1078.49 L2100.99,1078.46 L2102,1078.43 L2103,1078.4 L2104,1078.37 L2105,1078.34 L2106,1078.3 L2107,1078.27 L2108,1078.24 L2109,1078.21 L2110,1078.17 L2111,1078.14 L2112,1078.11 L2113,1078.07 L2114,1078.04 L2115,1078.01 L2116,1077.97 L2117,1077.94 L2118,1077.9 L2119,1077.87 L2120,1077.83 L2121,1077.8" fill="none" stroke="#b9d5ea" stroke-width="2.6" stroke-linejoin="round" stroke-linecap="butt" />
<g transform="scale(1.2 1)">
<path d="M164.58,890.1 L165.42,890.11 L166.25,890.12 L167.08,890.14 L167.92,890.15 L168.75,890.16 L169.58,890.17 L170.42,890.18 L171.25,890.19 L172.09,890.2 L172.92,890.21 L173.75,890.22 L174.59,890.23 L175.42,890.25 L176.25,890.26 L177.09,890.27 L177.92,890.28 L178.75,890.29 L179.59,890.3 L180.42,890.31 L181.25,890.32 L182.09,890.33 L182.92,890.34 L183.75,890.35 L184.59,890.35 L185.42,890.36 L186.26,890.37 L187.09,890.38 L187.92,890.39 L188.76,890.4 L189.59,890.41 L190.42,890.42 L191.26,890.43 L192.09,890.44 L192.92,890.44 L193.76,890.45 L194.59,890.46 L195.42,890.47 L196.26,890.48 L197.09,890.49 L197.93,890.49 L198.76,890.5 L199.59,890.51 L200.43,890.52 L201.26,890.52 L202.09,890.53 L202.93,890.54 L203.76,890.55 L204.59,890.55 L205.43,890.56 L206.26,890.57 L207.09,890.58 L207.93,890.58 L208.76,890.59 L209.6,890.6 L210.43,890.6 L211.26,890.61 L212.1,890.62 L212.93,890.62 L213.76,890.63 L214.6,890.63 L215.43,890.64 L216.26,890.65 L217.1,890.65 L217.93,890.66 L218.76,890.66 L219.6,890.67 L220.43,890.68 L221.26,890.68 L222.1,890.69 L222.93,890.69 L223.77,890.7 L224.6,890.7 L225.43,890.71 L226.27,890.71 L227.1,890.72 L227.93,890.72 L228.77,890.73 L229.6,890.73 L230.43,890.74 L231.27,890.74 L232.1,890.75 L232.93,890.75 L233.77,890.76 L234.6,890.76 L235.44,890.77 L236.27,890.77 L237.1,890.77 L237.94,890.78 L238.77,890.78 L239.6,890.79 L240.44,890.79 L241.27,890.79 L242.1,890.8 L242.94,890.8 L243.77,890.81 L244.6,890.81 L245.44,890.81 L246.27,890.82 L247.1,890.82 L247.94,890.82 L248.77,890.83 L249.61,890.83 L250.44,890.83 L251.27,890.84 L252.11,890.84 L252.94,890.84 L253.77,890.84 L254.61,890.85 L255.44,890.85 L256.27,890.85 L257.11,890.86 L257.94,890.86 L258.77,890.86 L259.61,890.86 L260.44,890.87 L261.28,890.87 L262.11,890.87 L262.94,890.87 L263.78,890.88 L264.61,890.88 L265.44,890.88 L266.28,890.88 L267.11,890.88 L267.94,890.89 L268.78,890.89 L269.61,890.89 L270.44,890.89 L271.28,890.89 L272.11,890.89 L272.94,890.9 L273.78,890.9 L274.61,890.9 L275.45,890.9 L276.28,890.9 L277.11,890.9 L277.95,890.9 L278.78,890.91 L279.61,890.91 L280.45,890.91 L281.28,890.91 L282.11,890.91 L282.95,890.91 L283.78,890.91 L284.61,890.91 L285.45,890.92 L286.28,890.92 L287.12,890.92 L287.95,890.92 L288.78,890.92 L289.62,890.92 L290.45,890.92 L291.28,890.92 L292.12,890.92 L292.95,890.92 L293.78,890.92 L294.62,890.92 L295.45,890.92 L296.28,890.92 L297.12,890.92 L297.95,890.92 L298.78,890.92 L299.62,890.92 L300.45,890.92 L301.29,890.93 L302.12,890.93 L302.95,890.93 L303.79,890.93 L304.62,890.93 L305.45,890.93 L306.29,890.93 L307.12,890.93 L307.95,890.93 L308.79,890.93 L309.62,890.93 L310.45,890.93 L311.29,890.92 L312.12,890.92 L312.96,890.92 L313.79,890.92 L314.62,890.92 L315.46,890.92 L316.29,890.92 L317.12,890.92 L317.96,890.92 L318.79,890.92 L319.62,890.92 L320.46,890.92 L321.29,890.92 L322.12,890.92 L322.96,890.92 L323.79,890.92 L324.62,890.92 L325.46,890.92 L326.29,890.92 L327.13,890.92 L327.96,890.92 L328.79,890.91 L329.63,890.91 L330.46,890.91 L331.29,890.91 L332.13,890.91 L332.96,890.91 L333.79,890.91 L334.63,890.91 L335.46,890.91 L336.29,890.91 L337.13,890.91 L337.96,890.9 L338.8,890.9 L339.63,890.9 L340.46,890.9 L341.3,890.9 L342.13,890.9 L342.96,890.9 L343.8,890.9 L344.63,890.9 L345.46,890.9 L346.3,890.89 L347.13,890.89 L347.96,890.89 L348.8,890.89 L349.63,890.89 L350.46,890.89 L351.3,890.89 L352.13,890.89 L352.97,890.89 L353.8,890.88 L354.63,890.88 L355.47,890.88 L356.3,890.88 L357.13,890.88 L357.97,890.88 L358.8,890.88 L359.63,890.88 L360.47,890.87 L361.3,890.87 L362.13,890.87 L362.97,890.87 L363.8,890.87 L364.64,890.87 L365.47,890.87 L366.3,890.87 L367.14,890.86 L367.97,890.86 L368.8,890.86 L369.64,890.86 L370.47,890.86 L371.3,890.86 L372.14,890.86 L372.97,890.86 L373.8,890.85 L374.64,890.85 L375.47,890.85 L376.31,890.85 L377.14,890.85 L377.97,890.85 L378.81,890.85 L379.64,890.85 L380.47,890.85 L381.31,890.84 L382.14,890.84 L382.97,890.84 L383.81,890.84 L384.64,890.84 L385.47,890.84 L386.31,890.84 L387.14,890.84 L387.97,890.83 L388.81,890.83 L389.64,890.83 L390.48,890.83 L391.31,890.83 L392.14,890.83 L392.98,890.83 L393.81,890.83 L394.64,890.83 L395.48,890.83 L396.31,890.82 L397.14,890.82 L397.98,890.82 L398.81,890.82 L399.64,890.82 L400.48,890.82 L401.31,890.82 L402.15,890.82 L402.98,890.82 L403.81,890.82 L404.65,890.81 L405.48,890.81 L406.31,890.81 L407.15,890.81 L407.98,890.81 L408.81,890.81 L409.65,890.81 L410.48,890.81 L411.31,890.81 L412.15,890.81 L412.98,890.81 L413.81,890.81 L414.65,890.81 L415.48,890.81 L416.32,890.81 L417.15,890.8 L417.98,890.8 L418.82,890.8 L419.65,890.8 L420.48,890.8 L421.32,890.8 L422.15,890.8 L422.98,890.8 L423.82,890.8 L424.65,890.8 L425.48,890.8 L426.32,890.8 L427.15,890.8 L427.99,890.8 L428.82,890.8 L429.65,890.8 L430.49,890.8 L431.32,890.8 L432.15,890.8 L432.99,890.8 L433.82,890.8 L434.65,890.8 L435.49,890.8 L436.32,890.8 L437.15,890.8 L437.99,890.8 L438.82,890.8 L439.65,890.8 L440.49,890.8 L441.32,890.8 L442.16,890.8 L442.99,890.8 L443.82,890.8 L444.66,890.81 L445.49,890.81 L446.32,890.81 L447.16,890.81 L447.99,890.81 L448.82,890.81 L449.66,890.81 L450.49,890.81 L451.32,890.81 L452.16,890.81 L452.99,890.81 L453.83,890.81 L454.66,890.82 L455.49,890.82 L456.33,890.82 L457.16,890.82 L457.99,890.82 L458.83,890.82 L459.66,890.82 L460.49,890.82 L461.33,890.83 L462.16,890.83 L462.99,890.83 L463.83,890.83 L464.66,890.83 L465.49,890.83 L466.33,890.84 L467.16,890.84 L468,890.84 L468.83,890.84 L469.66,890.84 L470.5,890.85 L471.33,890.85 L472.16,890.85 L473,890.85 L473.83,890.85 L474.66,890.86 L475.5,890.86 L476.33,890.86 L477.16,890.86 L478,890.87 L478.83,890.87 L479.67,890.87 L480.5,890.87 L481.33,890.88 L482.17,890.88 L483,890.88 L483.83,890.89 L484.67,890.89 L485.5,890.89 L486.33,890.9 L487.17,890.9 L488,890.9 L488.83,890.9 L489.67,890.91 L490.5,890.91 L491.33,890.92 L492.17,890.92 L493,890.92 L493.84,890.93 L494.67,890.93 L495.5,890.93 L496.34,890.94 L497.17,890.94 L498,890.95 L498.84,890.95 L499.67,890.95 L500.5,890.96 L501.34,890.96 L502.17,890.97 L503,890.97 L503.84,890.98 L504.67,890.98 L505.51,890.99 L506.34,890.99 L507.17,890.99 L508.01,891 L508.84,891 L509.67,891.01 L510.51,891.01 L511.34,891.02 L512.17,891.03 L513.01,891.03 L513.84,891.04 L514.67,891.04 L515.51,891.05 L516.34,891.05 L517.17,891.06 L518.01,891.06 L518.84,891.07 L519.68,891.08 L520.51,891.08 L521.34,891.09 L522.18,891.09 L523.01,891.1 L523.84,891.11 L524.68,891.11 L525.51,891.12 L526.34,891.13 L527.18,891.13 L528.01,891.14 L528.84,891.15 L529.68,891.15 L530.51,891.16 L531.35,891.17 L532.18,891.18 L533.01,891.18 L533.85,891.19 L534.68,891.2 L535.51,891.21 L536.35,891.21 L537.18,891.22 L538.01,891.23 L538.85,891.24 L539.68,891.24 L540.51,891.25 L541.35,891.26 L542.18,891.27 L543.02,891.28 L543.85,891.29 L544.68,891.29 L545.52,891.3 L546.35,891.31 L547.18,891.32 L548.02,891.33 L548.85,891.34 L549.68,891.35 L550.52,891.36 L551.35,891.37 L552.18,891.38 L553.02,891.38 L553.85,891.39 L554.68,891.4 L555.52,891.41 L556.35,891.42 L557.19,891.43 L558.02,891.44 L558.85,891.45 L559.69,891.46 L560.52,891.47 L561.35,891.49 L562.19,891.5 L563.02,891.51 L563.85,891.52 L564.69,891.53 L565.52,891.54 L566.35,891.55 L567.19,891.56 L568.02,891.57 L568.86,891.58 L569.69,891.6 L570.52,891.61 L571.36,891.62 L572.19,891.63 L573.02,891.64 L573.86,891.66 L574.69,891.67 L575.52,891.68 L576.36,891.69 L577.19,891.7 L578.02,891.72 L578.86,891.73 L579.69,891.74 L580.52,891.76 L581.36,891.77 L582.19,891.78 L583.03,891.8 L583.86,891.81 L584.69,891.82 L585.53,891.84 L586.36,891.85 L587.19,891.86 L588.03,891.88 L588.86,891.89 L589.69,891.91 L590.53,891.92 L591.36,891.93 L592.19,891.95 L593.03,891.96 L593.86,891.98 L594.7,891.99 L595.53,892.01 L596.36,892.02 L597.2,892.04 L598.03,892.05 L598.86,892.07 L599.7,892.09 L600.53,892.1 L601.36,892.12 L602.2,892.13 L603.03,892.15 L603.86,892.17 L604.7,892.18 L605.53,892.2 L606.36,892.21 L607.2,892.23 L608.03,892.25 L608.87,892.27 L609.7,892.28 L610.53,892.3 L611.37,892.32 L612.2,892.33 L613.03,892.35 L613.87,892.37 L614.7,892.39 L615.53,892.41 L616.37,892.42 L617.2,892.44 L618.03,892.46 L618.87,892.48 L619.7,892.5 L620.54,892.52 L621.37,892.54 L622.2,892.55 L623.04,892.57 L623.87,892.59 L624.7,892.61 L625.54,892.63 L626.37,892.65 L627.2,892.67 L628.04,892.69 L628.87,892.71 L629.7,892.73 L630.54,892.75 L631.37,892.77 L632.2,892.79 L633.04,892.81 L633.87,892.84 L634.71,892.86 L635.54,892.88 L636.37,892.9 L637.21,892.92 L638.04,892.94 L638.87,892.96 L639.71,892.99 L640.54,893.01 L641.37,893.03 L642.21,893.05 L643.04,893.08 L643.87,893.1 L644.71,893.12 L645.54,893.14 L646.38,893.17 L647.21,893.19 L648.04,893.21 L648.88,893.24 L649.71,893.26 L650.54,893.29 L651.38,893.31 L652.21,893.33 L653.04,893.36 L653.88,893.38 L654.71,893.41 L655.54,893.43 L656.38,893.46 L657.21,893.48 L658.04,893.51 L658.88,893.53 L659.71,893.56 L660.55,893.58 L661.38,893.61 L662.21,893.64 L663.05,893.66 L663.88,893.69 L664.71,893.71 L665.55,893.74 L666.38,893.77 L667.21,893.79 L668.05,893.82 L668.88,893.85 L669.71,893.88 L670.55,893.9 L671.38,893.93 L672.22,893.96 L673.05,893.99 L673.88,894.02 L674.72,894.04 L675.55,894.07 L676.38,894.1 L677.22,894.13 L678.05,894.16 L678.88,894.19 L679.72,894.22 L680.55,894.25 L681.38,894.28 L682.22,894.31 L683.05,894.34 L683.88,894.37 L684.72,894.4 L685.55,894.43 L686.39,894.46 L687.22,894.49 L688.05,894.52 L688.89,894.55 L689.72,894.58 L690.55,894.61 L691.39,894.65 L692.22,894.68 L693.05,894.71 L693.89,894.74 L694.72,894.77 L695.55,894.81 L696.39,894.84 L697.22,894.87 L698.06,894.91 L698.89,894.94 L699.72,894.97 L700.56,895.01 L701.39,895.04 L702.22,895.07 L703.06,895.11 L703.89,895.14 L704.72,895.18 L705.56,895.21 L706.39,895.25 L707.22,895.28 L708.06,895.32 L708.89,895.35 L709.73,895.39 L710.56,895.42 L711.39,895.46 L712.23,895.49 L713.06,895.53 L713.89,895.57 L714.73,895.6 L715.56,895.64 L716.39,895.68 L717.23,895.71 L718.06,895.75 L718.89,895.79 L719.73,895.83 L720.56,895.87 L721.39,895.9 L722.23,895.94 L723.06,895.98 L723.9,896.02 L724.73,896.06 L725.56,896.1 L726.4,896.14 L727.23,896.18 L728.06,896.21 L728.9,896.25 L729.73,896.29 L730.56,896.33 L731.4,896.37 L732.23,896.42 L733.06,896.46 L733.9,896.5 L734.73,896.54 L735.57,896.58 L736.4,896.62 L737.23,896.66 L738.07,896.7 L738.9,896.75 L739.73,896.79 L740.57,896.83 L741.4,896.87 L742.23,896.92 L743.07,896.96 L743.9,897 L744.73,897.05 L745.57,897.09 L746.4,897.13 L747.23,897.18 L748.07,897.22 L748.9,897.27 L749.74,897.31 L750.57,897.36 L751.4,897.4 L752.24,897.45 L753.07,897.49 L753.9,897.54 L754.74,897.58 L755.57,897.63 L756.4,897.68 L757.24,897.72 L758.07,897.77 L758.9,897.82 L759.74,897.86 L760.57,897.91 L761.41,897.96 L762.24,898.01 L763.07,898.05 L763.91,898.1 L764.74,898.15 L765.57,898.2 L766.41,898.25 L767.24,898.3 L768.07,898.35 L768.91,898.4 L769.74,898.44 L770.57,898.49 L771.41,898.54 L772.24,898.59 L773.07,898.65 L773.91,898.7 L774.74,898.75 L775.58,898.8 L776.41,898.85 L777.24,898.9 L778.08,898.95 L778.91,899 L779.74,899.06 L780.58,899.11 L781.41,899.16 L782.24,899.21 L783.08,899.27 L783.91,899.32 L784.74,899.37 L785.58,899.43 L786.41,899.48 L787.25,899.54 L788.08,899.59 L788.91,899.64 L789.75,899.7 L790.58,899.75 L791.41,899.81 L792.25,899.87 L793.08,899.92 L793.91,899.98 L794.75,900.03 L795.58,900.09 L796.41,900.15 L797.25,900.2 L798.08,900.26 L798.91,900.32 L799.75,900.37 L800.58,900.43 L801.42,900.49 L802.25,900.55 L803.08,900.61 L803.92,900.67 L804.75,900.72 L805.58,900.78 L806.42,900.84 L807.25,900.9 L808.08,900.96 L808.92,901.02 L809.75,901.08 L810.58,901.14 L811.42,901.2 L812.25,901.26 L813.09,901.33 L813.92,901.39 L814.75,901.45 L815.59,901.51 L816.42,901.57 L817.25,901.64 L818.09,901.7 L818.92,901.76 L819.75,901.82 L820.59,901.89 L821.42,901.95 L822.25,902.01 L823.09,902.08 L823.92,902.14 L824.75,902.21 L825.59,902.27 L826.42,902.34 L827.26,902.4 L828.09,902.47 L828.92,902.53 L829.76,902.6 L830.59,902.67 L831.42,902.73 L832.26,902.8 L833.09,902.87 L833.92,902.93 L834.76,903 L835.59,903.07 L836.42,903.14 L837.26,903.2 L838.09,903.27 L838.93,903.34 L839.76,903.41 L840.59,903.48 L841.43,903.55 L842.26,903.62 L843.09,903.69 L843.93,903.76 L844.76,903.83 L845.59,903.9 L846.43,903.97 L847.26,904.05 L848.09,904.12 L848.93,904.19 L849.76,904.26 L850.59,904.34 L851.43,904.41 L852.26,904.48 L853.1,904.56 L853.93,904.63 L854.76,904.71 L855.6,904.78 L856.43,904.86 L857.26,904.94 L858.1,905.01 L858.93,905.09 L859.76,905.17 L860.6,905.25 L861.43,905.32 L862.26,905.4 L863.1,905.48 L863.93,905.56 L864.77,905.64 L865.6,905.72 L866.43,905.8 L867.27,905.89 L868.1,905.97 L868.93,906.05 L869.77,906.13 L870.6,906.22 L871.43,906.3 L872.27,906.39 L873.1,906.47 L873.93,906.56 L874.77,906.64 L875.6,906.73 L876.44,906.82 L877.27,906.9 L878.1,906.99 L878.94,907.08 L879.77,907.17 L880.6,907.26 L881.44,907.35 L882.27,907.44 L883.1,907.54 L883.94,907.63 L884.77,907.72 L885.6,907.81 L886.44,907.91 L887.27,908 L888.1,908.1 L888.94,908.19 L889.77,908.29 L890.61,908.39 L891.44,908.49 L892.27,908.59 L893.11,908.68 L893.94,908.78 L894.77,908.88 L895.61,908.99 L896.44,909.09 L897.27,909.19 L898.11,909.29 L898.94,909.4 L899.77,909.5 L900.61,909.61 L901.44,909.71 L902.28,909.82 L903.11,909.93 L903.94,910.04 L904.78,910.15 L905.61,910.26 L906.44,910.37 L907.28,910.48 L908.11,910.59 L908.94,910.7 L909.78,910.82 L910.61,910.93 L911.44,911.05 L912.28,911.16 L913.11,911.28 L913.94,911.4 L914.78,911.51 L915.61,911.63 L916.45,911.75 L917.28,911.87 L918.11,912 L918.95,912.12 L919.78,912.24 L920.61,912.37 L921.45,912.49 L922.28,912.62 L923.11,912.74 L923.95,912.87 L924.78,913 L925.61,913.13 L926.45,913.26 L927.28,913.39 L928.12,913.52 L928.95,913.65 L929.78,913.79 L930.62,913.92 L931.45,914.06 L932.28,914.19 L933.12,914.33 L933.95,914.47 L934.78,914.61 L935.62,914.75 L936.45,914.89 L937.28,915.03 L938.12,915.18 L938.95,915.32 L939.78,915.47 L940.62,915.61 L941.45,915.76 L942.29,915.91 L943.12,916.06 L943.95,916.21 L944.79,916.36 L945.62,916.51 L946.45,916.66 L947.29,916.82 L948.12,916.97 L948.95,917.13 L949.79,917.29 L950.62,917.45 L951.45,917.6 L952.29,917.77 L953.12,917.93 L953.96,918.09 L954.79,918.25 L955.62,918.42 L956.46,918.58 L957.29,918.75 L958.12,918.92 L958.96,919.09 L959.79,919.26 L960.62,919.43 L961.46,919.6 L962.29,919.78 L963.12,919.95 L963.96,920.13 L964.79,920.31 L965.62,920.48 L966.46,920.66 L967.29,920.84 L968.13,921.03 L968.96,921.21 L969.79,921.39 L970.63,921.58 L971.46,921.77 L972.29,921.95 L973.13,922.14 L973.96,922.33 L974.79,922.52 L975.63,922.72 L976.46,922.91 L977.29,923.11 L978.13,923.3 L978.96,923.5 L979.8,923.7 L980.63,923.9 L981.46,924.1 L982.3,924.3 L983.13,924.51 L983.96,924.71 L984.8,924.92 L985.63,925.13 L986.46,925.34 L987.3,925.55 L988.13,925.76 L988.96,925.97 L989.8,926.19 L990.63,926.4 L991.46,926.62 L992.3,926.84 L993.13,927.06 L993.97,927.28 L994.8,927.5 L995.63,927.73 L996.47,927.95 L997.3,928.18 L998.13,928.41 L998.97,928.64 L999.8,928.87 L1000.63,929.1 L1001.47,929.33 L1002.3,929.57 L1003.13,929.8 L1003.97,930.04 L1004.8,930.28 L1005.64,930.52 L1006.47,930.76 L1007.3,931.01 L1008.14,931.25 L1008.97,931.5 L1009.8,931.75 L1010.64,932 L1011.47,932.25 L1012.3,932.5 L1013.14,932.76 L1013.97,933.01 L1014.8,933.27 L1015.64,933.53 L1016.47,933.79 L1017.3,934.05 L1018.14,934.31 L1018.97,934.58 L1019.81,934.84 L1020.64,935.11 L1021.47,935.38 L1022.31,935.65 L1023.14,935.92 L1023.97,936.2 L1024.81,936.47 L1025.64,936.75 L1026.47,937.03 L1027.31,937.31 L1028.14,937.59 L1028.97,937.87 L1029.81,938.16 L1030.64,938.45 L1031.48,938.73 L1032.31,939.02 L1033.14,939.32 L1033.98,939.61 L1034.81,939.91 L1035.64,940.2 L1036.48,940.5 L1037.31,940.8 L1038.14,941.11 L1038.98,941.41 L1039.81,941.72 L1040.64,942.03 L1041.48,942.34 L1042.31,942.65 L1043.15,942.96 L1043.98,943.28 L1044.81,943.6 L1045.65,943.91 L1046.48,944.24 L1047.31,944.56 L1048.15,944.88 L1048.98,945.21 L1049.81,945.54 L1050.65,945.87 L1051.48,946.21 L1052.31,946.54 L1053.15,946.88 L1053.98,947.22 L1054.81,947.56 L1055.65,947.9 L1056.48,948.25 L1057.32,948.6 L1058.15,948.95 L1058.98,949.3 L1059.82,949.65 L1060.65,950.01 L1061.48,950.37 L1062.32,950.73 L1063.15,951.09 L1063.98,951.45 L1064.82,951.82 L1065.65,952.19 L1066.48,952.56 L1067.32,952.93 L1068.15,953.31 L1068.99,953.69 L1069.82,954.07 L1070.65,954.45 L1071.49,954.84 L1072.32,955.22 L1073.15,955.61 L1073.99,956 L1074.82,956.4 L1075.65,956.79 L1076.49,957.19 L1077.32,957.6 L1078.15,958 L1078.99,958.4 L1079.82,958.81 L1080.65,959.22 L1081.49,959.64 L1082.32,960.05 L1083.16,960.47 L1083.99,960.89 L1084.82,961.32 L1085.66,961.74 L1086.49,962.17 L1087.32,962.6 L1088.16,963.04 L1088.99,963.47 L1089.82,963.91 L1090.66,964.35 L1091.49,964.79 L1092.32,965.24 L1093.16,965.69 L1093.99,966.14 L1094.83,966.6 L1095.66,967.05 L1096.49,967.51 L1097.33,967.98 L1098.16,968.44 L1098.99,968.91 L1099.83,969.38 L1100.66,969.85 L1101.49,970.33 L1102.33,970.81 L1103.16,971.29 L1103.99,971.77 L1104.83,972.26 L1105.66,972.74 L1106.49,973.24 L1107.33,973.73 L1108.16,974.23 L1109,974.72 L1109.83,975.23 L1110.66,975.73 L1111.5,976.24 L1112.33,976.74 L1113.16,977.25 L1114,977.77 L1114.83,978.28 L1115.66,978.8 L1116.5,979.32 L1117.33,979.84 L1118.16,980.37 L1119,980.89 L1119.83,981.42 L1120.67,981.95 L1121.5,982.49 L1122.33,983.02 L1123.17,983.56 L1124,984.1 L1124.83,984.64 L1125.67,985.18 L1126.5,985.73 L1127.33,986.28 L1128.17,986.83 L1129,987.38 L1129.83,987.93 L1130.67,988.49 L1131.5,989.04 L1132.33,989.6 L1133.17,990.16 L1134,990.73 L1134.84,991.29 L1135.67,991.86 L1136.5,992.42 L1137.34,992.99 L1138.17,993.57 L1139,994.14 L1139.84,994.71 L1140.67,995.29 L1141.5,995.87 L1142.34,996.45 L1143.17,997.03 L1144,997.61 L1144.84,998.2 L1145.67,998.78 L1146.51,999.37 L1147.34,999.96 L1148.17,1000.55 L1149.01,1001.14 L1149.84,1001.73 L1150.67,1002.33 L1151.51,1002.92 L1152.34,1003.52 L1153.17,1004.12 L1154.01,1004.72 L1154.84,1005.32 L1155.67,1005.92 L1156.51,1006.52 L1157.34,1007.13 L1158.17,1007.73 L1159.01,1008.34 L1159.84,1008.95 L1160.68,1009.56 L1161.51,1010.16 L1162.34,1010.77 L1163.18,1011.38 L1164.01,1011.99 L1164.84,1012.61 L1165.68,1013.22 L1166.51,1013.83 L1167.34,1014.44 L1168.18,1015.06 L1169.01,1015.67 L1169.84,1016.29 L1170.68,1016.9 L1171.51,1017.52 L1172.35,1018.13 L1173.18,1018.75 L1174.01,1019.36 L1174.85,1019.98 L1175.68,1020.6 L1176.51,1021.21 L1177.35,1021.83 L1178.18,1022.45 L1179.01,1023.06 L1179.85,1023.68 L1180.68,1024.29 L1181.51,1024.91 L1182.35,1025.52 L1183.18,1026.14 L1184.01,1026.75 L1184.85,1027.37 L1185.68,1027.98 L1186.52,1028.6 L1187.35,1029.21 L1188.18,1029.82 L1189.02,1030.43 L1189.85,1031.04 L1190.68,1031.65 L1191.52,1032.26 L1192.35,1032.87 L1193.18,1033.48 L1194.02,1034.09 L1194.85,1034.69 L1195.68,1035.3 L1196.52,1035.9 L1197.35,1036.51 L1198.19,1037.11 L1199.02,1037.71 L1199.85,1038.31 L1200.69,1038.91 L1201.52,1039.51 L1202.35,1040.1 L1203.19,1040.7 L1204.02,1041.29 L1204.85,1041.88 L1205.69,1042.47 L1206.52,1043.06 L1207.35,1043.65 L1208.19,1044.24 L1209.02,1044.82 L1209.86,1045.4 L1210.69,1045.99 L1211.52,1046.56 L1212.36,1047.14 L1213.19,1047.72 L1214.02,1048.29 L1214.86,1048.86 L1215.69,1049.43 L1216.52,1050 L1217.36,1050.56 L1218.19,1051.13 L1219.02,1051.69 L1219.86,1052.25 L1220.69,1052.8 L1221.52,1053.36 L1222.36,1053.91 L1223.19,1054.46 L1224.03,1055.01 L1224.86,1055.55 L1225.69,1056.1 L1226.53,1056.64 L1227.36,1057.17 L1228.19,1057.71 L1229.03,1058.24 L1229.86,1058.77 L1230.69,1059.29 L1231.53,1059.82 L1232.36,1060.34 L1233.19,1060.86 L1234.03,1061.37 L1234.86,1061.88 L1235.7,1062.39 L1236.53,1062.9 L1237.36,1063.4 L1238.2,1063.9 L1239.03,1064.4 L1239.86,1064.89 L1240.7,1065.38 L1241.53,1065.87 L1242.36,1066.35 L1243.2,1066.84 L1244.03,1067.31 L1244.86,1067.79 L1245.7,1068.26 L1246.53,1068.73 L1247.36,1069.2 L1248.2,1069.66 L1249.03,1070.13 L1249.87,1070.58 L1250.7,1071.04 L1251.53,1071.49 L1252.37,1071.94 L1253.2,1072.39 L1254.03,1072.83 L1254.87,1073.27 L1255.7,1073.71 L1256.53,1074.14 L1257.37,1074.57 L1258.2,1075 L1259.03,1075.43 L1259.87,1075.85 L1260.7,1076.27 L1261.54,1076.69 L1262.37,1077.1 L1263.2,1077.51 L1264.04,1077.92 L1264.87,1078.33 L1265.7,1078.73 L1266.54,1079.13 L1267.37,1079.53 L1268.2,1079.92 L1269.04,1080.31 L1269.87,1080.7 L1270.7,1081.08 L1271.54,1081.46 L1272.37,1081.84 L1273.2,1082.22 L1274.04,1082.59 L1274.87,1082.96 L1275.71,1083.33 L1276.54,1083.7 L1277.37,1084.06 L1278.21,1084.42 L1279.04,1084.77 L1279.87,1085.13 L1280.71,1085.48 L1281.54,1085.82 L1282.37,1086.17 L1283.21,1086.51 L1284.04,1086.85 L1284.87,1087.18 L1285.71,1087.52 L1286.54,1087.85 L1287.38,1088.17 L1288.21,1088.5 L1289.04,1088.82 L1289.88,1089.14 L1290.71,1089.45 L1291.54,1089.77 L1292.38,1090.08 L1293.21,1090.39 L1294.04,1090.69 L1294.88,1090.99 L1295.71,1091.29 L1296.54,1091.59 L1297.38,1091.88 L1298.21,1092.17 L1299.04,1092.46 L1299.88,1092.74 L1300.71,1093.02 L1301.55,1093.3 L1302.38,1093.58 L1303.21,1093.85 L1304.05,1094.12 L1304.88,1094.39 L1305.71,1094.66 L1306.55,1094.92 L1307.38,1095.18 L1308.21,1095.44 L1309.05,1095.69 L1309.88,1095.94 L1310.71,1096.19 L1311.55,1096.44 L1312.38,1096.68 L1313.22,1096.92 L1314.05,1097.15 L1314.88,1097.39 L1315.72,1097.62 L1316.55,1097.85 L1317.38,1098.08 L1318.22,1098.3 L1319.05,1098.52 L1319.88,1098.74 L1320.72,1098.95 L1321.55,1099.16 L1322.38,1099.37 L1323.22,1099.58 L1324.05,1099.78 L1324.88,1099.99 L1325.72,1100.18 L1326.55,1100.38 L1327.39,1100.57 L1328.22,1100.76 L1329.05,1100.95 L1329.89,1101.14 L1330.72,1101.32 L1331.55,1101.5 L1332.39,1101.67 L1333.22,1101.85 L1334.05,1102.02 L1334.89,1102.19 L1335.72,1102.35 L1336.55,1102.52 L1337.39,1102.68 L1338.22,1102.83 L1339.06,1102.99 L1339.89,1103.14 L1340.72,1103.29 L1341.56,1103.44 L1342.39,1103.58 L1343.22,1103.72 L1344.06,1103.86 L1344.89,1104 L1345.72,1104.13 L1346.56,1104.26 L1347.39,1104.39 L1348.22,1104.51 L1349.06,1104.64 L1349.89,1104.75 L1350.72,1104.87 L1351.56,1104.99 L1352.39,1105.1 L1353.23,1105.21 L1354.06,1105.31 L1354.89,1105.42 L1355.73,1105.52 L1356.56,1105.62 L1357.39,1105.71 L1358.23,1105.81 L1359.06,1105.9 L1359.89,1105.98 L1360.73,1106.07 L1361.56,1106.15 L1362.39,1106.23 L1363.23,1106.31 L1364.06,1106.38 L1364.9,1106.45 L1365.73,1106.52 L1366.56,1106.59 L1367.4,1106.65 L1368.23,1106.72 L1369.06,1106.77 L1369.9,1106.83 L1370.73,1106.88 L1371.56,1106.94 L1372.4,1106.98 L1373.23,1107.03 L1374.06,1107.07 L1374.9,1107.11 L1375.73,1107.15 L1376.57,1107.19 L1377.4,1107.22 L1378.23,1107.25 L1379.07,1107.28 L1379.9,1107.3 L1380.73,1107.32 L1381.57,1107.34 L1382.4,1107.36 L1383.23,1107.37 L1384.07,1107.38 L1384.9,1107.39 L1385.73,1107.4 L1386.57,1107.41 L1387.4,1107.41 L1388.23,1107.41 L1389.07,1107.4 L1389.9,1107.4 L1390.74,1107.39 L1391.57,1107.38 L1392.4,1107.37 L1393.24,1107.35 L1394.07,1107.34 L1394.9,1107.32 L1395.74,1107.3 L1396.57,1107.27 L1397.4,1107.25 L1398.24,1107.22 L1399.07,1107.19 L1399.9,1107.16 L1400.74,1107.12 L1401.57,1107.08 L1402.41,1107.05 L1403.24,1107.01 L1404.07,1106.96 L1404.91,1106.92 L1405.74,1106.87 L1406.57,1106.82 L1407.41,1106.77 L1408.24,1106.72 L1409.07,1106.67 L1409.91,1106.61 L1410.74,1106.55 L1411.57,1106.49 L1412.41,1106.43 L1413.24,1106.37 L1414.07,1106.3 L1414.91,1106.24 L1415.74,1106.17 L1416.58,1106.1 L1417.41,1106.03 L1418.24,1105.95 L1419.08,1105.88 L1419.91,1105.8 L1420.74,1105.72 L1421.58,1105.64 L1422.41,1105.56 L1423.24,1105.48 L1424.08,1105.39 L1424.91,1105.31 L1425.74,1105.22 L1426.58,1105.13 L1427.41,1105.04 L1428.25,1104.95 L1429.08,1104.86 L1429.91,1104.76 L1430.75,1104.67 L1431.58,1104.57 L1432.41,1104.48 L1433.25,1104.38 L1434.08,1104.28 L1434.91,1104.17 L1435.75,1104.07 L1436.58,1103.97 L1437.41,1103.86 L1438.25,1103.76 L1439.08,1103.65 L1439.91,1103.54 L1440.75,1103.43 L1441.58,1103.32 L1442.42,1103.21 L1443.25,1103.1 L1444.08,1102.99 L1444.92,1102.87 L1445.75,1102.76 L1446.58,1102.64 L1447.42,1102.53 L1448.25,1102.41 L1449.08,1102.29 L1449.92,1102.17 L1450.75,1102.05 L1451.58,1101.93 L1452.42,1101.81 L1453.25,1101.69 L1454.09,1101.57 L1454.92,1101.44 L1455.75,1101.32 L1456.59,1101.19 L1457.42,1101.07 L1458.25,1100.94 L1459.09,1100.82 L1459.92,1100.69 L1460.75,1100.56 L1461.59,1100.44 L1462.42,1100.31 L1463.25,1100.18 L1464.09,1100.05 L1464.92,1099.92 L1465.75,1099.79 L1466.59,1099.66 L1467.42,1099.53 L1468.26,1099.4 L1469.09,1099.27 L1469.92,1099.14 L1470.76,1099.01 L1471.59,1098.87 L1472.42,1098.74 L1473.26,1098.61 L1474.09,1098.48 L1474.92,1098.35 L1475.76,1098.21 L1476.59,1098.08 L1477.42,1097.95 L1478.26,1097.82 L1479.09,1097.69 L1479.93,1097.55 L1480.76,1097.42 L1481.59,1097.29 L1482.43,1097.16 L1483.26,1097.02 L1484.09,1096.89 L1484.93,1096.76 L1485.76,1096.63 L1486.59,1096.5 L1487.43,1096.37 L1488.26,1096.23 L1489.09,1096.1 L1489.93,1095.97 L1490.76,1095.84 L1491.59,1095.71 L1492.43,1095.58 L1493.26,1095.46 L1494.1,1095.33 L1494.93,1095.2 L1495.76,1095.07 L1496.6,1094.94 L1497.43,1094.82 L1498.26,1094.69 L1499.1,1094.56 L1499.93,1094.44 L1500.76,1094.31 L1501.6,1094.19 L1502.43,1094.07 L1503.26,1093.94 L1504.1,1093.82 L1504.93,1093.7 L1505.77,1093.58 L1506.6,1093.46 L1507.43,1093.34 L1508.27,1093.22 L1509.1,1093.1 L1509.93,1092.99 L1510.77,1092.87 L1511.6,1092.76 L1512.43,1092.64 L1513.27,1092.53 L1514.1,1092.41 L1514.93,1092.3 L1515.77,1092.19 L1516.6,1092.08 L1517.43,1091.97 L1518.27,1091.86 L1519.1,1091.75 L1519.94,1091.64 L1520.77,1091.54 L1521.6,1091.43 L1522.44,1091.33 L1523.27,1091.22 L1524.1,1091.12 L1524.94,1091.01 L1525.77,1090.91 L1526.6,1090.81 L1527.44,1090.71 L1528.27,1090.61 L1529.1,1090.51 L1529.94,1090.41 L1530.77,1090.31 L1531.61,1090.21 L1532.44,1090.12 L1533.27,1090.02 L1534.11,1089.92 L1534.94,1089.83 L1535.77,1089.73 L1536.61,1089.64 L1537.44,1089.55 L1538.27,1089.46 L1539.11,1089.36 L1539.94,1089.27 L1540.77,1089.18 L1541.61,1089.09 L1542.44,1089 L1543.28,1088.92 L1544.11,1088.83 L1544.94,1088.74 L1545.78,1088.66 L1546.61,1088.57 L1547.44,1088.49 L1548.28,1088.4 L1549.11,1088.32 L1549.94,1088.23 L1550.78,1088.15 L1551.61,1088.07 L1552.44,1087.99 L1553.28,1087.91 L1553.33,1087.9" fill="none" stroke="#00002e" stroke-width="5.0" stroke-linejoin="round" stroke-linecap="butt" stroke-dasharray="22.083 19.667"/>
<path d="M1553.33,1087.9 L1554.11,1087.83 L1554.94,1087.75 L1555.78,1087.67 L1556.61,1087.59 L1557.45,1087.51 L1558.28,1087.44 L1559.11,1087.36 L1559.95,1087.28 L1560.78,1087.21 L1561.61,1087.13 L1562.45,1087.06 L1563.28,1086.99 L1564.11,1086.91 L1564.95,1086.84 L1565.78,1086.77 L1566.61,1086.7 L1567.45,1086.63 L1568.28,1086.56 L1569.12,1086.49 L1569.95,1086.42 L1570.78,1086.35 L1571.62,1086.28 L1572.45,1086.21 L1573.28,1086.15 L1574.12,1086.08 L1574.95,1086.02 L1575.78,1085.95 L1576.62,1085.89 L1577.45,1085.82 L1578.28,1085.76 L1579.12,1085.69 L1579.95,1085.63 L1580.78,1085.57 L1581.62,1085.51 L1582.45,1085.45 L1583.29,1085.38 L1584.12,1085.32 L1584.95,1085.26 L1585.79,1085.21 L1586.62,1085.15 L1587.45,1085.09 L1588.29,1085.03 L1589.12,1084.97 L1589.95,1084.92 L1590.79,1084.86 L1591.62,1084.8 L1592.45,1084.75 L1593.29,1084.69 L1594.12,1084.64 L1594.96,1084.58 L1595.79,1084.53 L1596.62,1084.48 L1597.46,1084.42 L1598.29,1084.37 L1599.12,1084.32 L1599.96,1084.27 L1600.79,1084.21 L1601.62,1084.16 L1602.46,1084.11 L1603.29,1084.06 L1604.12,1084.01 L1604.96,1083.96 L1605.79,1083.91 L1606.62,1083.87 L1607.46,1083.82 L1608.29,1083.77 L1609.13,1083.72 L1609.96,1083.68 L1610.79,1083.63 L1611.63,1083.58 L1612.46,1083.54 L1613.29,1083.49 L1614.13,1083.45 L1614.96,1083.4 L1615.79,1083.36 L1616.63,1083.31 L1617.46,1083.27 L1618.29,1083.23 L1619.13,1083.18 L1619.96,1083.14 L1620.8,1083.1 L1621.63,1083.06 L1622.46,1083.02 L1623.3,1082.97 L1624.13,1082.93 L1624.96,1082.89 L1625.8,1082.85 L1626.63,1082.81 L1627.46,1082.77 L1628.3,1082.73 L1629.13,1082.69 L1629.96,1082.66 L1630.8,1082.62 L1631.63,1082.58 L1632.46,1082.54 L1633.3,1082.5 L1634.13,1082.47 L1634.97,1082.43 L1635.8,1082.39 L1636.63,1082.36 L1637.47,1082.32 L1638.3,1082.28 L1639.13,1082.25 L1639.97,1082.21 L1640.8,1082.18 L1641.63,1082.14 L1642.47,1082.11 L1643.3,1082.07 L1644.13,1082.04 L1644.97,1082 L1645.8,1081.97 L1646.64,1081.94 L1647.47,1081.9 L1648.3,1081.87 L1649.14,1081.84 L1649.97,1081.81 L1650.8,1081.77 L1651.64,1081.74 L1652.47,1081.71 L1653.3,1081.68 L1654.14,1081.65 L1654.97,1081.61 L1655.8,1081.58 L1656.64,1081.55 L1657.47,1081.52 L1658.3,1081.49 L1659.14,1081.46 L1659.97,1081.43 L1660.81,1081.4 L1661.64,1081.37 L1662.47,1081.34 L1663.31,1081.31 L1664.14,1081.28 L1664.97,1081.25 L1665.81,1081.22 L1666.64,1081.19 L1667.47,1081.17 L1668.31,1081.14 L1669.14,1081.11 L1669.97,1081.08 L1670.81,1081.05 L1671.64,1081.02 L1672.48,1081 L1673.31,1080.97 L1674.14,1080.94 L1674.98,1080.91 L1675.81,1080.89 L1676.64,1080.86 L1677.48,1080.83 L1678.31,1080.8 L1679.14,1080.78 L1679.98,1080.75 L1680.81,1080.72 L1681.64,1080.7 L1682.48,1080.67 L1683.31,1080.64 L1684.14,1080.62 L1684.98,1080.59 L1685.81,1080.56 L1686.65,1080.54 L1687.48,1080.51 L1688.31,1080.49 L1689.15,1080.46 L1689.98,1080.43 L1690.81,1080.41 L1691.65,1080.38 L1692.48,1080.36 L1693.31,1080.33 L1694.15,1080.3 L1694.98,1080.28 L1695.81,1080.25 L1696.65,1080.23 L1697.48,1080.2 L1698.32,1080.18 L1699.15,1080.15 L1699.98,1080.12 L1700.82,1080.1 L1701.65,1080.07 L1702.48,1080.05 L1703.32,1080.02 L1704.15,1080 L1704.98,1079.97 L1705.82,1079.95 L1706.65,1079.92 L1707.48,1079.89 L1708.32,1079.87 L1709.15,1079.84 L1709.99,1079.82 L1710.82,1079.79 L1711.65,1079.77 L1712.49,1079.74 L1713.32,1079.72 L1714.15,1079.69 L1714.99,1079.66 L1715.82,1079.64 L1716.65,1079.61 L1717.49,1079.59 L1718.32,1079.56 L1719.15,1079.53 L1719.99,1079.51 L1720.82,1079.48 L1721.65,1079.45 L1722.49,1079.43 L1723.32,1079.4 L1724.16,1079.38 L1724.99,1079.35 L1725.82,1079.32 L1726.66,1079.29 L1727.49,1079.27 L1728.32,1079.24 L1729.16,1079.21 L1729.99,1079.19 L1730.82,1079.16 L1731.66,1079.13 L1732.49,1079.1 L1733.32,1079.08 L1734.16,1079.05 L1734.99,1079.02 L1735.83,1078.99 L1736.66,1078.96 L1737.49,1078.94 L1738.33,1078.91 L1739.16,1078.88 L1739.99,1078.85 L1740.83,1078.82 L1741.66,1078.79 L1742.49,1078.76 L1743.33,1078.73 L1744.16,1078.7 L1744.99,1078.67 L1745.83,1078.64 L1746.66,1078.61 L1747.49,1078.58 L1748.33,1078.55 L1749.16,1078.52 L1750,1078.49 L1750.83,1078.46 L1751.66,1078.43 L1752.5,1078.4 L1753.33,1078.37 L1754.16,1078.34 L1755,1078.3 L1755.83,1078.27 L1756.66,1078.24 L1757.5,1078.21 L1758.33,1078.17 L1759.16,1078.14 L1760,1078.11 L1760.83,1078.07 L1761.67,1078.04 L1762.5,1078.01 L1763.33,1077.97 L1764.17,1077.94 L1765,1077.9 L1765.83,1077.87 L1766.67,1077.83 L1767.5,1077.8" fill="none" stroke="#00002e" stroke-width="5.0" stroke-linejoin="round" stroke-linecap="butt" stroke-dasharray="22.667 20.000" stroke-dashoffset="22.500"/>
</g>
</g>
<line x1="242.2" y1="607.4" x2="242.2" y2="598.9" stroke="#7c7c7c" stroke-width="2.4"/>
<line x1="242.2" y1="28.8" x2="242.2" y2="37.3" stroke="#7c7c7c" stroke-width="2.4"/>
<line x1="310.5" y1="607.4" x2="310.5" y2="598.9" stroke="#7c7c7c" stroke-width="2.4"/>
<line x1="310.5" y1="28.8" x2="310.5" y2="37.3" stroke="#7c7c7c" stroke-width="2.4"/>
<line x1="357.8" y1="607.4" x2="357.8" y2="598.9" stroke="#7c7c7c" stroke-width="2.4"/>
<line x1="357.8" y1="28.8" x2="357.8" y2="37.3" stroke="#7c7c7c" stroke-width="2.4"/>
<line x1="392.6" y1="607.4" x2="392.6" y2="598.9" stroke="#7c7c7c" stroke-width="2.4"/>
<line x1="392.6" y1="28.8" x2="392.6" y2="37.3" stroke="#7c7c7c" stroke-width="2.4"/>
<line x1="425.8" y1="607.4" x2="425.8" y2="598.9" stroke="#7c7c7c" stroke-width="2.4"/>
<line x1="425.8" y1="28.8" x2="425.8" y2="37.3" stroke="#7c7c7c" stroke-width="2.4"/>
<line x1="450.2" y1="607.4" x2="450.2" y2="598.9" stroke="#7c7c7c" stroke-width="2.4"/>
<line x1="450.2" y1="28.8" x2="450.2" y2="37.3" stroke="#7c7c7c" stroke-width="2.4"/>
<line x1="473.5" y1="607.4" x2="473.5" y2="598.9" stroke="#7c7c7c" stroke-width="2.4"/>
<line x1="473.5" y1="28.8" x2="473.5" y2="37.3" stroke="#7c7c7c" stroke-width="2.4"/>
<line x1="492.4" y1="607.4" x2="492.4" y2="598.9" stroke="#7c7c7c" stroke-width="2.4"/>
<line x1="492.4" y1="28.8" x2="492.4" y2="37.3" stroke="#7c7c7c" stroke-width="2.4"/>
<line x1="626" y1="607.4" x2="626" y2="598.9" stroke="#7c7c7c" stroke-width="2.4"/>
<line x1="626" y1="28.8" x2="626" y2="37.3" stroke="#7c7c7c" stroke-width="2.4"/>
<line x1="694.6" y1="607.4" x2="694.6" y2="598.9" stroke="#7c7c7c" stroke-width="2.4"/>
<line x1="694.6" y1="28.8" x2="694.6" y2="37.3" stroke="#7c7c7c" stroke-width="2.4"/>
<line x1="742.3" y1="607.4" x2="742.3" y2="598.9" stroke="#7c7c7c" stroke-width="2.4"/>
<line x1="742.3" y1="28.8" x2="742.3" y2="37.3" stroke="#7c7c7c" stroke-width="2.4"/>
<line x1="780.3" y1="607.4" x2="780.3" y2="598.9" stroke="#7c7c7c" stroke-width="2.4"/>
<line x1="780.3" y1="28.8" x2="780.3" y2="37.3" stroke="#7c7c7c" stroke-width="2.4"/>
<line x1="811.2" y1="607.4" x2="811.2" y2="598.9" stroke="#7c7c7c" stroke-width="2.4"/>
<line x1="811.2" y1="28.8" x2="811.2" y2="37.3" stroke="#7c7c7c" stroke-width="2.4"/>
<line x1="837" y1="607.4" x2="837" y2="598.9" stroke="#7c7c7c" stroke-width="2.4"/>
<line x1="837" y1="28.8" x2="837" y2="37.3" stroke="#7c7c7c" stroke-width="2.4"/>
<line x1="858" y1="607.4" x2="858" y2="598.9" stroke="#7c7c7c" stroke-width="2.4"/>
<line x1="858" y1="28.8" x2="858" y2="37.3" stroke="#7c7c7c" stroke-width="2.4"/>
<line x1="878.6" y1="607.4" x2="878.6" y2="598.9" stroke="#7c7c7c" stroke-width="2.4"/>
<line x1="878.6" y1="28.8" x2="878.6" y2="37.3" stroke="#7c7c7c" stroke-width="2.4"/>
<line x1="1011.8" y1="607.4" x2="1011.8" y2="598.9" stroke="#7c7c7c" stroke-width="2.4"/>
<line x1="1011.8" y1="28.8" x2="1011.8" y2="37.3" stroke="#7c7c7c" stroke-width="2.4"/>
<line x1="1079.4" y1="607.4" x2="1079.4" y2="598.9" stroke="#7c7c7c" stroke-width="2.4"/>
<line x1="1079.4" y1="28.8" x2="1079.4" y2="37.3" stroke="#7c7c7c" stroke-width="2.4"/>
<line x1="1127.3" y1="607.4" x2="1127.3" y2="598.9" stroke="#7c7c7c" stroke-width="2.4"/>
<line x1="1127.3" y1="28.8" x2="1127.3" y2="37.3" stroke="#7c7c7c" stroke-width="2.4"/>
<line x1="1164.5" y1="607.4" x2="1164.5" y2="598.9" stroke="#7c7c7c" stroke-width="2.4"/>
<line x1="1164.5" y1="28.8" x2="1164.5" y2="37.3" stroke="#7c7c7c" stroke-width="2.4"/>
<line x1="1194.9" y1="607.4" x2="1194.9" y2="598.9" stroke="#7c7c7c" stroke-width="2.4"/>
<line x1="1194.9" y1="28.8" x2="1194.9" y2="37.3" stroke="#7c7c7c" stroke-width="2.4"/>
<line x1="1220.6" y1="607.4" x2="1220.6" y2="598.9" stroke="#7c7c7c" stroke-width="2.4"/>
<line x1="1220.6" y1="28.8" x2="1220.6" y2="37.3" stroke="#7c7c7c" stroke-width="2.4"/>
<line x1="1242.8" y1="607.4" x2="1242.8" y2="598.9" stroke="#7c7c7c" stroke-width="2.4"/>
<line x1="1242.8" y1="28.8" x2="1242.8" y2="37.3" stroke="#7c7c7c" stroke-width="2.4"/>
<line x1="1262.4" y1="607.4" x2="1262.4" y2="598.9" stroke="#7c7c7c" stroke-width="2.4"/>
<line x1="1262.4" y1="28.8" x2="1262.4" y2="37.3" stroke="#7c7c7c" stroke-width="2.4"/>
<line x1="1395.6" y1="607.4" x2="1395.6" y2="598.9" stroke="#7c7c7c" stroke-width="2.4"/>
<line x1="1395.6" y1="28.8" x2="1395.6" y2="37.3" stroke="#7c7c7c" stroke-width="2.4"/>
<line x1="1463" y1="607.4" x2="1463" y2="598.9" stroke="#7c7c7c" stroke-width="2.4"/>
<line x1="1463" y1="28.8" x2="1463" y2="37.3" stroke="#7c7c7c" stroke-width="2.4"/>
<line x1="1509.5" y1="607.4" x2="1509.5" y2="598.9" stroke="#7c7c7c" stroke-width="2.4"/>
<line x1="1509.5" y1="28.8" x2="1509.5" y2="37.3" stroke="#7c7c7c" stroke-width="2.4"/>
<line x1="1547.7" y1="607.4" x2="1547.7" y2="598.9" stroke="#7c7c7c" stroke-width="2.4"/>
<line x1="1547.7" y1="28.8" x2="1547.7" y2="37.3" stroke="#7c7c7c" stroke-width="2.4"/>
<line x1="1578" y1="607.4" x2="1578" y2="598.9" stroke="#7c7c7c" stroke-width="2.4"/>
<line x1="1578" y1="28.8" x2="1578" y2="37.3" stroke="#7c7c7c" stroke-width="2.4"/>
<line x1="1604" y1="607.4" x2="1604" y2="598.9" stroke="#7c7c7c" stroke-width="2.4"/>
<line x1="1604" y1="28.8" x2="1604" y2="37.3" stroke="#7c7c7c" stroke-width="2.4"/>
<line x1="1625" y1="607.4" x2="1625" y2="598.9" stroke="#7c7c7c" stroke-width="2.4"/>
<line x1="1625" y1="28.8" x2="1625" y2="37.3" stroke="#7c7c7c" stroke-width="2.4"/>
<line x1="1646.3" y1="607.4" x2="1646.3" y2="598.9" stroke="#7c7c7c" stroke-width="2.4"/>
<line x1="1646.3" y1="28.8" x2="1646.3" y2="37.3" stroke="#7c7c7c" stroke-width="2.4"/>
<line x1="1780.2" y1="607.4" x2="1780.2" y2="598.9" stroke="#7c7c7c" stroke-width="2.4"/>
<line x1="1780.2" y1="28.8" x2="1780.2" y2="37.3" stroke="#7c7c7c" stroke-width="2.4"/>
<line x1="1881.4" y1="607.4" x2="1881.4" y2="598.9" stroke="#7c7c7c" stroke-width="2.4"/>
<line x1="1881.4" y1="28.8" x2="1881.4" y2="37.3" stroke="#7c7c7c" stroke-width="2.4"/>
<line x1="1916.7" y1="607.4" x2="1916.7" y2="598.9" stroke="#7c7c7c" stroke-width="2.4"/>
<line x1="1916.7" y1="28.8" x2="1916.7" y2="37.3" stroke="#7c7c7c" stroke-width="2.4"/>
<line x1="1949.4" y1="607.4" x2="1949.4" y2="598.9" stroke="#7c7c7c" stroke-width="2.4"/>
<line x1="1949.4" y1="28.8" x2="1949.4" y2="37.3" stroke="#7c7c7c" stroke-width="2.4"/>
<line x1="1973.5" y1="607.4" x2="1973.5" y2="598.9" stroke="#7c7c7c" stroke-width="2.4"/>
<line x1="1973.5" y1="28.8" x2="1973.5" y2="37.3" stroke="#7c7c7c" stroke-width="2.4"/>
<line x1="1997.3" y1="607.4" x2="1997.3" y2="598.9" stroke="#7c7c7c" stroke-width="2.4"/>
<line x1="1997.3" y1="28.8" x2="1997.3" y2="37.3" stroke="#7c7c7c" stroke-width="2.4"/>
<line x1="2018" y1="607.4" x2="2018" y2="598.9" stroke="#7c7c7c" stroke-width="2.4"/>
<line x1="2018" y1="28.8" x2="2018" y2="37.3" stroke="#7c7c7c" stroke-width="2.4"/>
<line x1="509.2" y1="607.4" x2="509.2" y2="590.9" stroke="#7c7c7c" stroke-width="2.4"/>
<line x1="509.2" y1="28.8" x2="509.2" y2="45.3" stroke="#7c7c7c" stroke-width="2.4"/>
<line x1="896.3" y1="607.4" x2="896.3" y2="590.9" stroke="#7c7c7c" stroke-width="2.4"/>
<line x1="896.3" y1="28.8" x2="896.3" y2="45.3" stroke="#7c7c7c" stroke-width="2.4"/>
<line x1="1280" y1="607.4" x2="1280" y2="590.9" stroke="#7c7c7c" stroke-width="2.4"/>
<line x1="1280" y1="28.8" x2="1280" y2="45.3" stroke="#7c7c7c" stroke-width="2.4"/>
<line x1="1664.4" y1="607.4" x2="1664.4" y2="590.9" stroke="#7c7c7c" stroke-width="2.4"/>
<line x1="1664.4" y1="28.8" x2="1664.4" y2="45.3" stroke="#7c7c7c" stroke-width="2.4"/>
<line x1="2035.5" y1="607.4" x2="2035.5" y2="590.9" stroke="#7c7c7c" stroke-width="2.4"/>
<line x1="2035.5" y1="28.8" x2="2035.5" y2="45.3" stroke="#7c7c7c" stroke-width="2.4"/>
<line x1="203.4" y1="142.3" x2="222.9" y2="142.3" stroke="#7c7c7c" stroke-width="2.4"/>
<line x1="2113" y1="142.3" x2="2093.5" y2="142.3" stroke="#7c7c7c" stroke-width="2.4"/>
<line x1="203.4" y1="258.2" x2="222.9" y2="258.2" stroke="#7c7c7c" stroke-width="2.4"/>
<line x1="2113" y1="258.2" x2="2093.5" y2="258.2" stroke="#7c7c7c" stroke-width="2.4"/>
<line x1="203.4" y1="374.7" x2="222.9" y2="374.7" stroke="#7c7c7c" stroke-width="2.4"/>
<line x1="2113" y1="374.7" x2="2093.5" y2="374.7" stroke="#7c7c7c" stroke-width="2.4"/>
<line x1="203.4" y1="491.2" x2="222.9" y2="491.2" stroke="#7c7c7c" stroke-width="2.4"/>
<line x1="2113" y1="491.2" x2="2093.5" y2="491.2" stroke="#7c7c7c" stroke-width="2.4"/>
<line x1="203.4" y1="28.8" x2="2113" y2="28.8" stroke="#666666" stroke-width="2.6"/>
<path d="M203.4,27.5 L203.4,607.4 L2113,607.4 L2113,27.5" fill="none" stroke="#666666" stroke-width="2.6" stroke-linejoin="miter"/>
<line x1="236.3" y1="1263.3" x2="236.3" y2="1254.8" stroke="#7c7c7c" stroke-width="2.4"/>
<line x1="236.3" y1="703.5" x2="236.3" y2="712" stroke="#7c7c7c" stroke-width="2.4"/>
<line x1="304.2" y1="1263.3" x2="304.2" y2="1254.8" stroke="#7c7c7c" stroke-width="2.4"/>
<line x1="304.2" y1="703.5" x2="304.2" y2="712" stroke="#7c7c7c" stroke-width="2.4"/>
<line x1="352.1" y1="1263.3" x2="352.1" y2="1254.8" stroke="#7c7c7c" stroke-width="2.4"/>
<line x1="352.1" y1="703.5" x2="352.1" y2="712" stroke="#7c7c7c" stroke-width="2.4"/>
<line x1="390.3" y1="1263.3" x2="390.3" y2="1254.8" stroke="#7c7c7c" stroke-width="2.4"/>
<line x1="390.3" y1="703.5" x2="390.3" y2="712" stroke="#7c7c7c" stroke-width="2.4"/>
<line x1="420.4" y1="1263.3" x2="420.4" y2="1254.8" stroke="#7c7c7c" stroke-width="2.4"/>
<line x1="420.4" y1="703.5" x2="420.4" y2="712" stroke="#7c7c7c" stroke-width="2.4"/>
<line x1="447.4" y1="1263.3" x2="447.4" y2="1254.8" stroke="#7c7c7c" stroke-width="2.4"/>
<line x1="447.4" y1="703.5" x2="447.4" y2="712" stroke="#7c7c7c" stroke-width="2.4"/>
<line x1="468" y1="1263.3" x2="468" y2="1254.8" stroke="#7c7c7c" stroke-width="2.4"/>
<line x1="468" y1="703.5" x2="468" y2="712" stroke="#7c7c7c" stroke-width="2.4"/>
<line x1="488.5" y1="1263.3" x2="488.5" y2="1254.8" stroke="#7c7c7c" stroke-width="2.4"/>
<line x1="488.5" y1="703.5" x2="488.5" y2="712" stroke="#7c7c7c" stroke-width="2.4"/>
<line x1="622.6" y1="1263.3" x2="622.6" y2="1254.8" stroke="#7c7c7c" stroke-width="2.4"/>
<line x1="622.6" y1="703.5" x2="622.6" y2="712" stroke="#7c7c7c" stroke-width="2.4"/>
<line x1="689.2" y1="1263.3" x2="689.2" y2="1254.8" stroke="#7c7c7c" stroke-width="2.4"/>
<line x1="689.2" y1="703.5" x2="689.2" y2="712" stroke="#7c7c7c" stroke-width="2.4"/>
<line x1="739.1" y1="1263.3" x2="739.1" y2="1254.8" stroke="#7c7c7c" stroke-width="2.4"/>
<line x1="739.1" y1="703.5" x2="739.1" y2="712" stroke="#7c7c7c" stroke-width="2.4"/>
<line x1="774.2" y1="1263.3" x2="774.2" y2="1254.8" stroke="#7c7c7c" stroke-width="2.4"/>
<line x1="774.2" y1="703.5" x2="774.2" y2="712" stroke="#7c7c7c" stroke-width="2.4"/>
<line x1="804.8" y1="1263.3" x2="804.8" y2="1254.8" stroke="#7c7c7c" stroke-width="2.4"/>
<line x1="804.8" y1="703.5" x2="804.8" y2="712" stroke="#7c7c7c" stroke-width="2.4"/>
<line x1="831.5" y1="1263.3" x2="831.5" y2="1254.8" stroke="#7c7c7c" stroke-width="2.4"/>
<line x1="831.5" y1="703.5" x2="831.5" y2="712" stroke="#7c7c7c" stroke-width="2.4"/>
<line x1="854.8" y1="1263.3" x2="854.8" y2="1254.8" stroke="#7c7c7c" stroke-width="2.4"/>
<line x1="854.8" y1="703.5" x2="854.8" y2="712" stroke="#7c7c7c" stroke-width="2.4"/>
<line x1="873" y1="1263.3" x2="873" y2="1254.8" stroke="#7c7c7c" stroke-width="2.4"/>
<line x1="873" y1="703.5" x2="873" y2="712" stroke="#7c7c7c" stroke-width="2.4"/>
<line x1="1006.6" y1="1263.3" x2="1006.6" y2="1254.8" stroke="#7c7c7c" stroke-width="2.4"/>
<line x1="1006.6" y1="703.5" x2="1006.6" y2="712" stroke="#7c7c7c" stroke-width="2.4"/>
<line x1="1074.7" y1="1263.3" x2="1074.7" y2="1254.8" stroke="#7c7c7c" stroke-width="2.4"/>
<line x1="1074.7" y1="703.5" x2="1074.7" y2="712" stroke="#7c7c7c" stroke-width="2.4"/>
<line x1="1122.8" y1="1263.3" x2="1122.8" y2="1254.8" stroke="#7c7c7c" stroke-width="2.4"/>
<line x1="1122.8" y1="703.5" x2="1122.8" y2="712" stroke="#7c7c7c" stroke-width="2.4"/>
<line x1="1160.5" y1="1263.3" x2="1160.5" y2="1254.8" stroke="#7c7c7c" stroke-width="2.4"/>
<line x1="1160.5" y1="703.5" x2="1160.5" y2="712" stroke="#7c7c7c" stroke-width="2.4"/>
<line x1="1191" y1="1263.3" x2="1191" y2="1254.8" stroke="#7c7c7c" stroke-width="2.4"/>
<line x1="1191" y1="703.5" x2="1191" y2="712" stroke="#7c7c7c" stroke-width="2.4"/>
<line x1="1216.2" y1="1263.3" x2="1216.2" y2="1254.8" stroke="#7c7c7c" stroke-width="2.4"/>
<line x1="1216.2" y1="703.5" x2="1216.2" y2="712" stroke="#7c7c7c" stroke-width="2.4"/>
<line x1="1238.5" y1="1263.3" x2="1238.5" y2="1254.8" stroke="#7c7c7c" stroke-width="2.4"/>
<line x1="1238.5" y1="703.5" x2="1238.5" y2="712" stroke="#7c7c7c" stroke-width="2.4"/>
<line x1="1258.8" y1="1263.3" x2="1258.8" y2="1254.8" stroke="#7c7c7c" stroke-width="2.4"/>
<line x1="1258.8" y1="703.5" x2="1258.8" y2="712" stroke="#7c7c7c" stroke-width="2.4"/>
<line x1="1394" y1="1263.3" x2="1394" y2="1254.8" stroke="#7c7c7c" stroke-width="2.4"/>
<line x1="1394" y1="703.5" x2="1394" y2="712" stroke="#7c7c7c" stroke-width="2.4"/>
<line x1="1458.6" y1="1263.3" x2="1458.6" y2="1254.8" stroke="#7c7c7c" stroke-width="2.4"/>
<line x1="1458.6" y1="703.5" x2="1458.6" y2="712" stroke="#7c7c7c" stroke-width="2.4"/>
<line x1="1507" y1="1263.3" x2="1507" y2="1254.8" stroke="#7c7c7c" stroke-width="2.4"/>
<line x1="1507" y1="703.5" x2="1507" y2="712" stroke="#7c7c7c" stroke-width="2.4"/>
<line x1="1545.4" y1="1263.3" x2="1545.4" y2="1254.8" stroke="#7c7c7c" stroke-width="2.4"/>
<line x1="1545.4" y1="703.5" x2="1545.4" y2="712" stroke="#7c7c7c" stroke-width="2.4"/>
<line x1="1574.8" y1="1263.3" x2="1574.8" y2="1254.8" stroke="#7c7c7c" stroke-width="2.4"/>
<line x1="1574.8" y1="703.5" x2="1574.8" y2="712" stroke="#7c7c7c" stroke-width="2.4"/>
<line x1="1602" y1="1263.3" x2="1602" y2="1254.8" stroke="#7c7c7c" stroke-width="2.4"/>
<line x1="1602" y1="703.5" x2="1602" y2="712" stroke="#7c7c7c" stroke-width="2.4"/>
<line x1="1623.3" y1="1263.3" x2="1623.3" y2="1254.8" stroke="#7c7c7c" stroke-width="2.4"/>
<line x1="1623.3" y1="703.5" x2="1623.3" y2="712" stroke="#7c7c7c" stroke-width="2.4"/>
<line x1="1643.6" y1="1263.3" x2="1643.6" y2="1254.8" stroke="#7c7c7c" stroke-width="2.4"/>
<line x1="1643.6" y1="703.5" x2="1643.6" y2="712" stroke="#7c7c7c" stroke-width="2.4"/>
<line x1="1777.2" y1="1263.3" x2="1777.2" y2="1254.8" stroke="#7c7c7c" stroke-width="2.4"/>
<line x1="1777.2" y1="703.5" x2="1777.2" y2="712" stroke="#7c7c7c" stroke-width="2.4"/>
<line x1="1845.3" y1="1263.3" x2="1845.3" y2="1254.8" stroke="#7c7c7c" stroke-width="2.4"/>
<line x1="1845.3" y1="703.5" x2="1845.3" y2="712" stroke="#7c7c7c" stroke-width="2.4"/>
<line x1="1887.2" y1="1263.3" x2="1887.2" y2="1254.8" stroke="#7c7c7c" stroke-width="2.4"/>
<line x1="1887.2" y1="703.5" x2="1887.2" y2="712" stroke="#7c7c7c" stroke-width="2.4"/>
<line x1="1923" y1="1263.3" x2="1923" y2="1254.8" stroke="#7c7c7c" stroke-width="2.4"/>
<line x1="1923" y1="703.5" x2="1923" y2="712" stroke="#7c7c7c" stroke-width="2.4"/>
<line x1="1955.6" y1="1263.3" x2="1955.6" y2="1254.8" stroke="#7c7c7c" stroke-width="2.4"/>
<line x1="1955.6" y1="703.5" x2="1955.6" y2="712" stroke="#7c7c7c" stroke-width="2.4"/>
<line x1="1979.5" y1="1263.3" x2="1979.5" y2="1254.8" stroke="#7c7c7c" stroke-width="2.4"/>
<line x1="1979.5" y1="703.5" x2="1979.5" y2="712" stroke="#7c7c7c" stroke-width="2.4"/>
<line x1="2003.3" y1="1263.3" x2="2003.3" y2="1254.8" stroke="#7c7c7c" stroke-width="2.4"/>
<line x1="2003.3" y1="703.5" x2="2003.3" y2="712" stroke="#7c7c7c" stroke-width="2.4"/>
<line x1="2023.7" y1="1263.3" x2="2023.7" y2="1254.8" stroke="#7c7c7c" stroke-width="2.4"/>
<line x1="2023.7" y1="703.5" x2="2023.7" y2="712" stroke="#7c7c7c" stroke-width="2.4"/>
<line x1="506.1" y1="1263.3" x2="506.1" y2="1246.8" stroke="#7c7c7c" stroke-width="2.4"/>
<line x1="506.1" y1="703.5" x2="506.1" y2="720" stroke="#7c7c7c" stroke-width="2.4"/>
<line x1="890.5" y1="1263.3" x2="890.5" y2="1246.8" stroke="#7c7c7c" stroke-width="2.4"/>
<line x1="890.5" y1="703.5" x2="890.5" y2="720" stroke="#7c7c7c" stroke-width="2.4"/>
<line x1="1277" y1="1263.3" x2="1277" y2="1246.8" stroke="#7c7c7c" stroke-width="2.4"/>
<line x1="1277" y1="703.5" x2="1277" y2="720" stroke="#7c7c7c" stroke-width="2.4"/>
<line x1="1661.5" y1="1263.3" x2="1661.5" y2="1246.8" stroke="#7c7c7c" stroke-width="2.4"/>
<line x1="1661.5" y1="703.5" x2="1661.5" y2="720" stroke="#7c7c7c" stroke-width="2.4"/>
<line x1="2041.6" y1="1263.3" x2="2041.6" y2="1246.8" stroke="#7c7c7c" stroke-width="2.4"/>
<line x1="2041.6" y1="703.5" x2="2041.6" y2="720" stroke="#7c7c7c" stroke-width="2.4"/>
<line x1="200.2" y1="798.3" x2="219.7" y2="798.3" stroke="#7c7c7c" stroke-width="2.4"/>
<line x1="2118.6" y1="798.3" x2="2099.1" y2="798.3" stroke="#7c7c7c" stroke-width="2.4"/>
<line x1="200.2" y1="889.8" x2="219.7" y2="889.8" stroke="#7c7c7c" stroke-width="2.4"/>
<line x1="2118.6" y1="889.8" x2="2099.1" y2="889.8" stroke="#7c7c7c" stroke-width="2.4"/>
<line x1="200.2" y1="981.1" x2="219.7" y2="981.1" stroke="#7c7c7c" stroke-width="2.4"/>
<line x1="2118.6" y1="981.1" x2="2099.1" y2="981.1" stroke="#7c7c7c" stroke-width="2.4"/>
<line x1="200.2" y1="1072.5" x2="219.7" y2="1072.5" stroke="#7c7c7c" stroke-width="2.4"/>
<line x1="2118.6" y1="1072.5" x2="2099.1" y2="1072.5" stroke="#7c7c7c" stroke-width="2.4"/>
<line x1="200.2" y1="1165.6" x2="219.7" y2="1165.6" stroke="#7c7c7c" stroke-width="2.4"/>
<line x1="2118.6" y1="1165.6" x2="2099.1" y2="1165.6" stroke="#7c7c7c" stroke-width="2.4"/>
<line x1="200.2" y1="1258" x2="219.7" y2="1258" stroke="#7c7c7c" stroke-width="2.4"/>
<line x1="2118.6" y1="1258" x2="2099.1" y2="1258" stroke="#7c7c7c" stroke-width="2.4"/>
<line x1="200.2" y1="703.5" x2="2118.6" y2="703.5" stroke="#b8b8b8" stroke-width="4.2"/>
<path d="M200.2,702.2 L200.2,1263.3 L2118.6,1263.3 L2118.6,702.2" fill="none" stroke="#666666" stroke-width="2.6" stroke-linejoin="miter"/>
<text transform="translate(101.54 50.88) scale(0.12379 0.11587)" font-size="400" fill="#000" stroke="#000" stroke-width="5.84" stroke-linejoin="round" >150</text>
<g transform="translate(101.54 50.88) scale(0.12379 0.11587)" fill="#fefefe"><rect x="17.58" y="-43.95" width="81.45" height="58.59"/><rect x="137.5" y="-43.95" width="78.32" height="58.59"/></g>
<text transform="translate(103.53 159.58) scale(0.12717 0.11481)" font-size="400" fill="#000" stroke="#000" stroke-width="5.79" stroke-linejoin="round" >100</text>
<g transform="translate(103.53 159.58) scale(0.12717 0.11481)" fill="#fefefe"><rect x="17.58" y="-43.95" width="81.45" height="58.59"/><rect x="137.5" y="-43.95" width="78.32" height="58.59"/></g>
<text transform="translate(130.07 276.98) scale(0.13002 0.11551)" font-size="400" fill="#000" stroke="#000" stroke-width="5.71" stroke-linejoin="round" >50</text>
<text transform="translate(159.3 392.09) scale(0.12827 0.11198)" font-size="400" fill="#000" stroke="#000" stroke-width="5.84" stroke-linejoin="round" >0</text>
<text transform="translate(110.99 510.06) scale(0.13101 0.11940)" font-size="400" fill="#000" stroke="#000" stroke-width="5.60" stroke-linejoin="round" >-50</text>
<text transform="translate(81.69 625.18) scale(0.13129 0.11587)" font-size="400" fill="#000" stroke="#000" stroke-width="5.68" stroke-linejoin="round" >-100</text>
<g transform="translate(81.69 625.18) scale(0.13129 0.11587)" fill="#fefefe"><rect x="150.78" y="-43.95" width="81.45" height="58.59"/><rect x="270.7" y="-43.95" width="78.32" height="58.59"/></g>
<text transform="translate(124.85 726.11) scale(0.13171 0.10809)" font-size="400" fill="#000" stroke="#000" stroke-width="5.87" stroke-linejoin="round" >90</text>
<text transform="translate(124.96 815.39) scale(0.13174 0.11358)" font-size="400" fill="#000" stroke="#000" stroke-width="5.72" stroke-linejoin="round" >45</text>
<text transform="translate(155.45 906.89) scale(0.12513 0.11198)" font-size="400" fill="#000" stroke="#000" stroke-width="5.91" stroke-linejoin="round" >0</text>
<text transform="translate(107.49 998.69) scale(0.13107 0.11287)" font-size="400" fill="#000" stroke="#000" stroke-width="5.76" stroke-linejoin="round" >-45</text>
<text transform="translate(107.5 1092.98) scale(0.13083 0.11551)" font-size="400" fill="#000" stroke="#000" stroke-width="5.69" stroke-linejoin="round" >-90</text>
<text transform="translate(78.7 1184.29) scale(0.13068 0.11304)" font-size="400" fill="#000" stroke="#000" stroke-width="5.76" stroke-linejoin="round" >-135</text>
<g transform="translate(78.7 1184.29) scale(0.13068 0.11304)" fill="#fefefe"><rect x="150.78" y="-43.95" width="81.45" height="58.59"/><rect x="270.7" y="-43.95" width="78.32" height="58.59"/></g>
<text transform="translate(78.7 1274.69) scale(0.13051 0.11127)" font-size="400" fill="#000" stroke="#000" stroke-width="5.81" stroke-linejoin="round" >-180</text>
<g transform="translate(78.7 1274.69) scale(0.13051 0.11127)" fill="#fefefe"><rect x="150.78" y="-43.95" width="81.45" height="58.59"/><rect x="270.7" y="-43.95" width="78.32" height="58.59"/></g>
<text transform="translate(469.25 679.65) scale(0.13008 0.12187)" font-size="400" fill="#000" stroke="#000" stroke-width="5.56" stroke-linejoin="round" >10</text>
<g transform="translate(469.25 679.65) scale(0.13008 0.12187)" fill="#fefefe"><rect x="17.58" y="-43.95" width="81.45" height="58.59"/><rect x="137.5" y="-43.95" width="78.32" height="58.59"/></g>
<text transform="translate(527.58 657.87) scale(0.09820 0.09360)" font-size="400" fill="#000" stroke="#000" stroke-width="7.30" stroke-linejoin="round" >0</text>
<text transform="translate(853.75 679.65) scale(0.13008 0.12187)" font-size="400" fill="#000" stroke="#000" stroke-width="5.56" stroke-linejoin="round" >10</text>
<g transform="translate(853.75 679.65) scale(0.13008 0.12187)" fill="#fefefe"><rect x="17.58" y="-43.95" width="81.45" height="58.59"/><rect x="137.5" y="-43.95" width="78.32" height="58.59"/></g>
<text transform="translate(913.12 657.48) scale(0.09782 0.09357)" font-size="400" fill="#000" stroke="#000" stroke-width="7.32" stroke-linejoin="round" >1</text>
<g transform="translate(913.12 657.48) scale(0.09782 0.09357)" fill="#fefefe"><rect x="17.58" y="-43.95" width="81.45" height="58.59"/><rect x="137.5" y="-43.95" width="78.32" height="58.59"/></g>
<text transform="translate(1238.15 679.65) scale(0.13008 0.12187)" font-size="400" fill="#000" stroke="#000" stroke-width="5.56" stroke-linejoin="round" >10</text>
<g transform="translate(1238.15 679.65) scale(0.13008 0.12187)" fill="#fefefe"><rect x="17.58" y="-43.95" width="81.45" height="58.59"/><rect x="137.5" y="-43.95" width="78.32" height="58.59"/></g>
<text transform="translate(1293.69 657.87) scale(0.09802 0.09360)" font-size="400" fill="#000" stroke="#000" stroke-width="7.31" stroke-linejoin="round" >2</text>
<text transform="translate(1622.85 679.65) scale(0.13008 0.12187)" font-size="400" fill="#000" stroke="#000" stroke-width="5.56" stroke-linejoin="round" >10</text>
<g transform="translate(1622.85 679.65) scale(0.13008 0.12187)" fill="#fefefe"><rect x="17.58" y="-43.95" width="81.45" height="58.59"/><rect x="137.5" y="-43.95" width="78.32" height="58.59"/></g>
<text transform="translate(1683.08 657.87) scale(0.09818 0.09360)" font-size="400" fill="#000" stroke="#000" stroke-width="7.30" stroke-linejoin="round" >3</text>
<text transform="translate(1994.65 679.65) scale(0.13008 0.12187)" font-size="400" fill="#000" stroke="#000" stroke-width="5.56" stroke-linejoin="round" >10</text>
<g transform="translate(1994.65 679.65) scale(0.13008 0.12187)" fill="#fefefe"><rect x="17.58" y="-43.95" width="81.45" height="58.59"/><rect x="137.5" y="-43.95" width="78.32" height="58.59"/></g>
<text transform="translate(2051.76 657.48) scale(0.09840 0.09357)" font-size="400" fill="#000" stroke="#000" stroke-width="7.30" stroke-linejoin="round" >4</text>
<text transform="translate(465.33 1332.89) scale(0.12732 0.11127)" font-size="400" fill="#000" stroke="#000" stroke-width="5.88" stroke-linejoin="round" >10</text>
<g transform="translate(465.33 1332.89) scale(0.12732 0.11127)" fill="#fefefe"><rect x="17.58" y="-43.95" width="81.45" height="58.59"/><rect x="137.5" y="-43.95" width="78.32" height="58.59"/></g>
<text transform="translate(524.75 1311.09) scale(0.09975 0.08866)" font-size="400" fill="#000" stroke="#000" stroke-width="7.44" stroke-linejoin="round" >0</text>
<text transform="translate(848.93 1332.89) scale(0.12732 0.11127)" font-size="400" fill="#000" stroke="#000" stroke-width="5.88" stroke-linejoin="round" >10</text>
<g transform="translate(848.93 1332.89) scale(0.12732 0.11127)" fill="#fefefe"><rect x="17.58" y="-43.95" width="81.45" height="58.59"/><rect x="137.5" y="-43.95" width="78.32" height="58.59"/></g>
<text transform="translate(907.17 1310.72) scale(0.09937 0.08862)" font-size="400" fill="#000" stroke="#000" stroke-width="7.46" stroke-linejoin="round" >1</text>
<g transform="translate(907.17 1310.72) scale(0.09937 0.08862)" fill="#fefefe"><rect x="17.58" y="-43.95" width="81.45" height="58.59"/><rect x="137.5" y="-43.95" width="78.32" height="58.59"/></g>
<text transform="translate(1234.73 1332.89) scale(0.12732 0.11127)" font-size="400" fill="#000" stroke="#000" stroke-width="5.88" stroke-linejoin="round" >10</text>
<g transform="translate(1234.73 1332.89) scale(0.12732 0.11127)" fill="#fefefe"><rect x="17.58" y="-43.95" width="81.45" height="58.59"/><rect x="137.5" y="-43.95" width="78.32" height="58.59"/></g>
<text transform="translate(1293.36 1311.09) scale(0.09957 0.08866)" font-size="400" fill="#000" stroke="#000" stroke-width="7.45" stroke-linejoin="round" >2</text>
<text transform="translate(1619.63 1332.89) scale(0.12732 0.11127)" font-size="400" fill="#000" stroke="#000" stroke-width="5.88" stroke-linejoin="round" >10</text>
<g transform="translate(1619.63 1332.89) scale(0.12732 0.11127)" fill="#fefefe"><rect x="17.58" y="-43.95" width="81.45" height="58.59"/><rect x="137.5" y="-43.95" width="78.32" height="58.59"/></g>
<text transform="translate(1679.25 1311.09) scale(0.09973 0.08866)" font-size="400" fill="#000" stroke="#000" stroke-width="7.44" stroke-linejoin="round" >3</text>
<text transform="translate(2001.03 1332.89) scale(0.12732 0.11127)" font-size="400" fill="#000" stroke="#000" stroke-width="5.88" stroke-linejoin="round" >10</text>
<g transform="translate(2001.03 1332.89) scale(0.12732 0.11127)" fill="#fefefe"><rect x="17.58" y="-43.95" width="81.45" height="58.59"/><rect x="137.5" y="-43.95" width="78.32" height="58.59"/></g>
<text transform="translate(2057.95 1310.72) scale(0.09995 0.08862)" font-size="400" fill="#000" stroke="#000" stroke-width="7.44" stroke-linejoin="round" >4</text>
<text transform="translate(64.45 488) rotate(-90) scale(0.12584 0.15091)" font-size="400" stroke="#000" stroke-width="5.08" stroke-linejoin="round">Magnitude (dB)</text>
<text transform="translate(59.35 1113.84) rotate(-90) scale(0.12078 0.14836)" font-size="400" stroke="#000" stroke-width="5.23" stroke-linejoin="round">Phase (deg)</text>
<text transform="translate(922.4 1405.45) scale(0.13479 0.12582)" font-size="400" fill="#000" stroke="#000" stroke-width="5.38" stroke-linejoin="round" >Frequency (Hz)</text>
<text transform="translate(497.88 118.15) scale(0.19382 0.18545)" font-size="400" fill="#000" stroke="#000" stroke-width="3.69" stroke-linejoin="round" >Increasing Z</text>
<text transform="translate(926.16 132.75) scale(0.08687 0.08199)" font-size="400" fill="#000" stroke="#000" stroke-width="8.29" stroke-linejoin="round" >v</text>
<text transform="translate(1302.99 143.05) scale(0.19492 0.17517)" font-size="400" fill="#000" stroke="#000" stroke-width="3.79" stroke-linejoin="round" >i/d without</text>
<text transform="translate(1373.93 225.35) scale(0.19516 0.17483)" font-size="400" fill="#000" stroke="#000" stroke-width="3.79" stroke-linejoin="round" >control</text>
<text transform="translate(1302.88 109.01) scale(0.13587 0.16204)" font-size="400" fill="#000" stroke="#000" stroke-width="4.72" stroke-linejoin="round" >^</text>
<text transform="translate(1364.67 109.01) scale(0.14130 0.16204)" font-size="400" fill="#000" stroke="#000" stroke-width="4.63" stroke-linejoin="round" >^</text>
<path d="M520.8,150.8 C518.17,153.75 510.32,162.25 505,168.5 C499.68,174.75 494.07,181.38 488.9,188.3 C483.73,195.22 478.55,201.87 474,210 C469.45,218.13 465.13,227.37 461.6,237.1 C458.07,246.83 455.23,258.63 452.8,268.4 C450.37,278.17 448.38,284.65 447,295.7 C445.62,306.75 444.95,323.65 444.5,334.7 C444.05,345.75 444.33,357.45 444.3,362" fill="none" stroke="#000" stroke-width="6.4" stroke-linejoin="round" stroke-linecap="butt" stroke-linecap="round"/>
<polygon points="424.5,360 465,358.3 446.5,396" fill="#111"/>
<path d="M1336,182.3 L1284.5,259.5" fill="none" stroke="#000" stroke-width="6.2" stroke-linejoin="round" stroke-linecap="butt" stroke-linecap="round"/>
<polygon points="1267.7,285.5 1270.3,246.5 1304.3,266.7" fill="#111"/>
</svg>
</body></html>
